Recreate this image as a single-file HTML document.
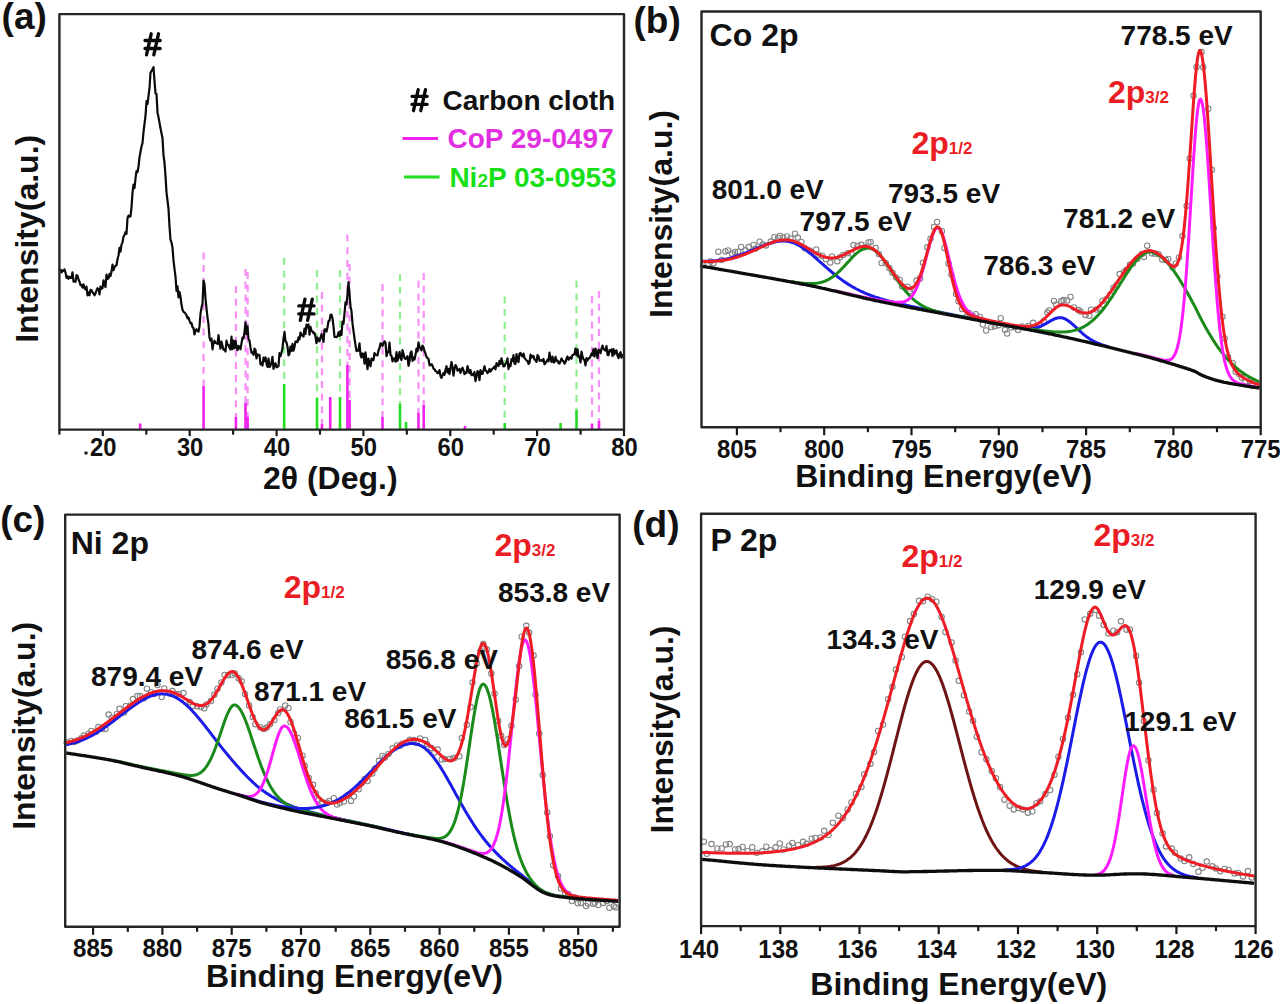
<!DOCTYPE html>
<html><head><meta charset="utf-8"><style>
html,body{margin:0;padding:0;background:#fff;}
svg{display:block;}
text{font-family:"Liberation Sans", sans-serif;font-weight:bold;}
</style></head><body>
<svg width="1280" height="1004" viewBox="0 0 1280 1004">
<rect width="1280" height="1004" fill="#fff"/>
<line x1="140.2" y1="423.5" x2="140.2" y2="429.6" stroke="#ee22ee" stroke-width="2.6"/>
<line x1="203.6" y1="252.4" x2="203.6" y2="386.0" stroke="#ee22ee" stroke-opacity="0.5" stroke-width="2.2" stroke-dasharray="7 5.7"/>
<line x1="203.6" y1="386.0" x2="203.6" y2="429.6" stroke="#ee22ee" stroke-width="2.6"/>
<line x1="235.9" y1="286.0" x2="235.9" y2="416.7" stroke="#ee22ee" stroke-opacity="0.5" stroke-width="2.2" stroke-dasharray="7 5.7"/>
<line x1="235.9" y1="416.7" x2="235.9" y2="429.6" stroke="#ee22ee" stroke-width="2.6"/>
<line x1="245.5" y1="269.0" x2="245.5" y2="403.0" stroke="#ee22ee" stroke-opacity="0.5" stroke-width="2.2" stroke-dasharray="7 5.7"/>
<line x1="245.5" y1="403.0" x2="245.5" y2="429.6" stroke="#ee22ee" stroke-width="2.6"/>
<line x1="247.6" y1="272.0" x2="247.6" y2="416.7" stroke="#ee22ee" stroke-opacity="0.5" stroke-width="2.2" stroke-dasharray="7 5.7"/>
<line x1="247.6" y1="416.7" x2="247.6" y2="429.6" stroke="#ee22ee" stroke-width="2.6"/>
<line x1="284.2" y1="257.7" x2="284.2" y2="384.0" stroke="#22dd22" stroke-opacity="0.5" stroke-width="2.2" stroke-dasharray="7 5.7"/>
<line x1="284.2" y1="384.0" x2="284.2" y2="429.6" stroke="#22dd22" stroke-width="2.6"/>
<line x1="317.0" y1="270.0" x2="317.0" y2="398.0" stroke="#22dd22" stroke-opacity="0.5" stroke-width="2.2" stroke-dasharray="7 5.7"/>
<line x1="317.0" y1="398.0" x2="317.0" y2="429.6" stroke="#22dd22" stroke-width="2.6"/>
<line x1="322.0" y1="292.0" x2="322.0" y2="424.0" stroke="#ee22ee" stroke-opacity="0.5" stroke-width="2.2" stroke-dasharray="7 5.7"/>
<line x1="322.0" y1="424.0" x2="322.0" y2="429.6" stroke="#ee22ee" stroke-width="2.6"/>
<line x1="330.2" y1="397.0" x2="330.2" y2="429.6" stroke="#ee22ee" stroke-width="2.6"/>
<line x1="340.0" y1="270.0" x2="340.0" y2="397.0" stroke="#22dd22" stroke-opacity="0.5" stroke-width="2.2" stroke-dasharray="7 5.7"/>
<line x1="340.0" y1="397.0" x2="340.0" y2="429.6" stroke="#22dd22" stroke-width="2.6"/>
<line x1="347.4" y1="234.6" x2="347.4" y2="365.0" stroke="#ee22ee" stroke-opacity="0.5" stroke-width="2.2" stroke-dasharray="7 5.7"/>
<line x1="347.4" y1="365.0" x2="347.4" y2="429.6" stroke="#ee22ee" stroke-width="2.6"/>
<line x1="349.6" y1="264.0" x2="349.6" y2="400.0" stroke="#ee22ee" stroke-opacity="0.5" stroke-width="2.2" stroke-dasharray="7 5.7"/>
<line x1="349.6" y1="400.0" x2="349.6" y2="429.6" stroke="#ee22ee" stroke-width="2.6"/>
<line x1="382.5" y1="284.0" x2="382.5" y2="416.7" stroke="#ee22ee" stroke-opacity="0.5" stroke-width="2.2" stroke-dasharray="7 5.7"/>
<line x1="382.5" y1="416.7" x2="382.5" y2="429.6" stroke="#ee22ee" stroke-width="2.6"/>
<line x1="400.0" y1="274.0" x2="400.0" y2="404.0" stroke="#22dd22" stroke-opacity="0.5" stroke-width="2.2" stroke-dasharray="7 5.7"/>
<line x1="400.0" y1="404.0" x2="400.0" y2="429.6" stroke="#22dd22" stroke-width="2.6"/>
<line x1="406.0" y1="422.0" x2="406.0" y2="429.6" stroke="#22dd22" stroke-width="2.6"/>
<line x1="418.5" y1="280.7" x2="418.5" y2="412.5" stroke="#ee22ee" stroke-opacity="0.5" stroke-width="2.2" stroke-dasharray="7 5.7"/>
<line x1="418.5" y1="412.5" x2="418.5" y2="429.6" stroke="#ee22ee" stroke-width="2.6"/>
<line x1="423.7" y1="273.0" x2="423.7" y2="405.0" stroke="#ee22ee" stroke-opacity="0.5" stroke-width="2.2" stroke-dasharray="7 5.7"/>
<line x1="423.7" y1="405.0" x2="423.7" y2="429.6" stroke="#ee22ee" stroke-width="2.6"/>
<line x1="465.0" y1="426.0" x2="465.0" y2="429.6" stroke="#ee22ee" stroke-width="2.6"/>
<line x1="504.7" y1="296.4" x2="504.7" y2="423.0" stroke="#22dd22" stroke-opacity="0.5" stroke-width="2.2" stroke-dasharray="7 5.7"/>
<line x1="504.7" y1="423.0" x2="504.7" y2="429.6" stroke="#22dd22" stroke-width="2.6"/>
<line x1="560.6" y1="423.0" x2="560.6" y2="429.6" stroke="#22dd22" stroke-width="2.6"/>
<line x1="576.5" y1="280.7" x2="576.5" y2="410.0" stroke="#22dd22" stroke-opacity="0.5" stroke-width="2.2" stroke-dasharray="7 5.7"/>
<line x1="576.5" y1="410.0" x2="576.5" y2="429.6" stroke="#22dd22" stroke-width="2.6"/>
<line x1="592.0" y1="296.0" x2="592.0" y2="424.0" stroke="#ee22ee" stroke-opacity="0.5" stroke-width="2.2" stroke-dasharray="7 5.7"/>
<line x1="592.0" y1="424.0" x2="592.0" y2="429.6" stroke="#ee22ee" stroke-width="2.6"/>
<line x1="599.0" y1="291.0" x2="599.0" y2="421.0" stroke="#ee22ee" stroke-opacity="0.5" stroke-width="2.2" stroke-dasharray="7 5.7"/>
<line x1="599.0" y1="421.0" x2="599.0" y2="429.6" stroke="#ee22ee" stroke-width="2.6"/>
<path d="M60.5 269.1 L61.5 272.4 L62.5 270.6 L63.5 270.9 L64.5 269.5 L65.5 272.6 L66.5 277.8 L67.5 276.1 L68.5 278.9 L69.5 276.8 L70.5 278.0 L71.5 278.0 L72.5 272.3 L73.5 281.6 L74.5 281.1 L75.5 281.9 L76.5 275.2 L77.5 275.8 L78.5 279.5 L79.5 281.8 L80.5 285.2 L81.5 284.8 L82.5 287.5 L83.5 284.3 L84.5 288.3 L85.5 289.4 L86.5 286.6 L87.5 295.5 L88.5 292.3 L89.5 295.3 L90.5 289.9 L91.5 290.3 L92.5 292.4 L93.5 293.4 L94.5 295.3 L95.5 293.4 L96.5 290.5 L97.5 288.2 L98.5 289.1 L99.5 294.4 L100.5 286.6 L101.5 288.8 L102.5 288.1 L103.5 280.3 L104.5 284.2 L105.5 287.2 L106.5 274.6 L107.5 279.0 L108.5 278.4 L109.5 273.9 L110.5 276.0 L111.5 271.8 L112.5 264.7 L113.5 270.1 L114.5 267.2 L115.5 265.8 L116.5 265.2 L117.5 259.2 L118.5 255.5 L119.5 247.9 L120.5 251.6 L121.5 244.6 L122.5 242.4 L123.5 236.8 L124.5 235.0 L125.5 232.2 L126.5 233.9 L127.5 218.1 L128.5 215.6 L129.5 216.8 L130.5 216.3 L131.5 207.3 L132.5 192.7 L133.5 184.5 L134.5 188.2 L135.5 178.4 L136.5 171.0 L137.5 172.1 L138.5 166.6 L139.5 157.4 L140.5 151.7 L141.5 146.4 L142.5 143.2 L143.5 132.0 L144.5 123.8 L145.5 116.0 L146.5 101.1 L147.5 104.0 L148.5 96.1 L149.5 87.9 L150.5 72.8 L151.5 70.9 L152.5 69.4 L153.5 67.1 L154.5 80.8 L155.5 93.3 L156.5 93.9 L157.5 112.4 L158.5 117.3 L159.5 122.6 L160.5 128.2 L161.5 133.3 L162.5 138.3 L163.5 155.3 L164.5 162.5 L165.5 175.9 L166.5 192.4 L167.5 200.5 L168.5 208.9 L169.5 226.5 L170.5 239.6 L171.5 242.4 L172.5 247.7 L173.5 260.4 L174.5 268.8 L175.5 276.7 L176.5 290.9 L177.5 286.4 L178.5 297.4 L179.5 291.9 L180.5 296.8 L181.5 304.8 L182.5 309.7 L183.5 311.9 L184.5 312.5 L185.5 313.5 L186.5 315.2 L187.5 318.3 L188.5 317.4 L189.5 320.6 L190.5 323.3 L191.5 323.0 L192.5 327.3 L193.5 328.1 L194.5 334.5 L195.5 330.3 L196.5 329.2 L197.5 330.9 L198.5 331.7 L199.5 326.4 L200.5 313.6 L201.5 307.6 L202.5 304.0 L203.5 280.6 L204.5 284.2 L205.5 298.3 L206.5 308.3 L207.5 317.3 L208.5 324.5 L209.5 337.6 L210.5 340.6 L211.5 338.6 L212.5 349.4 L213.5 343.1 L214.5 340.7 L215.5 343.0 L216.5 343.0 L217.5 343.9 L218.5 335.2 L219.5 343.2 L220.5 348.7 L221.5 341.7 L222.5 345.8 L223.5 349.7 L224.5 349.4 L225.5 351.5 L226.5 340.5 L227.5 344.9 L228.5 344.8 L229.5 348.0 L230.5 349.5 L231.5 336.5 L232.5 349.2 L233.5 340.7 L234.5 348.1 L235.5 340.8 L236.5 346.6 L237.5 350.2 L238.5 345.8 L239.5 347.1 L240.5 349.3 L241.5 343.2 L242.5 337.6 L243.5 338.3 L244.5 331.8 L245.5 322.4 L246.5 334.2 L247.5 326.4 L248.5 339.0 L249.5 340.5 L250.5 347.4 L251.5 352.7 L252.5 352.3 L253.5 354.9 L254.5 348.7 L255.5 350.0 L256.5 358.5 L257.5 354.3 L258.5 355.3 L259.5 355.0 L260.5 364.5 L261.5 362.9 L262.5 365.6 L263.5 357.6 L264.5 361.0 L265.5 357.3 L266.5 363.9 L267.5 366.9 L268.5 358.7 L269.5 367.2 L270.5 365.7 L271.5 362.3 L272.5 356.8 L273.5 368.9 L274.5 364.4 L275.5 363.3 L276.5 367.3 L277.5 366.9 L278.5 366.2 L279.5 353.2 L280.5 356.1 L281.5 352.8 L282.5 348.3 L283.5 338.3 L284.5 331.9 L285.5 341.3 L286.5 342.4 L287.5 346.7 L288.5 355.3 L289.5 353.8 L290.5 346.7 L291.5 351.0 L292.5 343.8 L293.5 350.7 L294.5 346.9 L295.5 341.5 L296.5 341.4 L297.5 342.1 L298.5 337.4 L299.5 339.4 L300.5 332.5 L301.5 334.5 L302.5 336.1 L303.5 336.5 L304.5 328.7 L305.5 334.0 L306.5 324.6 L307.5 327.3 L308.5 324.3 L309.5 334.6 L310.5 326.8 L311.5 331.0 L312.5 331.3 L313.5 333.3 L314.5 332.8 L315.5 337.1 L316.5 343.2 L317.5 337.6 L318.5 339.5 L319.5 341.4 L320.5 337.6 L321.5 334.2 L322.5 336.9 L323.5 342.0 L324.5 329.3 L325.5 329.4 L326.5 331.5 L327.5 327.3 L328.5 321.2 L329.5 320.5 L330.5 314.9 L331.5 314.6 L332.5 318.4 L333.5 326.6 L334.5 337.0 L335.5 337.0 L336.5 337.1 L337.5 336.3 L338.5 332.4 L339.5 335.9 L340.5 331.0 L341.5 334.9 L342.5 321.5 L343.5 323.8 L344.5 313.6 L345.5 302.3 L346.5 304.5 L347.5 294.3 L348.5 282.2 L349.5 294.5 L350.5 306.2 L351.5 311.4 L352.5 323.4 L353.5 331.0 L354.5 338.5 L355.5 345.1 L356.5 351.1 L357.5 350.1 L358.5 350.7 L359.5 343.4 L360.5 354.8 L361.5 357.5 L362.5 353.4 L363.5 354.1 L364.5 363.6 L365.5 352.4 L366.5 361.2 L367.5 369.2 L368.5 358.7 L369.5 363.2 L370.5 366.3 L371.5 358.5 L372.5 359.9 L373.5 360.1 L374.5 353.0 L375.5 354.8 L376.5 355.2 L377.5 355.3 L378.5 350.5 L379.5 348.0 L380.5 343.3 L381.5 343.6 L382.5 346.0 L383.5 343.1 L384.5 341.3 L385.5 342.7 L386.5 356.1 L387.5 352.4 L388.5 352.1 L389.5 342.5 L390.5 354.9 L391.5 355.9 L392.5 361.4 L393.5 358.6 L394.5 358.3 L395.5 361.8 L396.5 352.0 L397.5 360.8 L398.5 357.1 L399.5 352.2 L400.5 357.8 L401.5 360.0 L402.5 350.2 L403.5 353.8 L404.5 358.2 L405.5 359.0 L406.5 358.1 L407.5 356.2 L408.5 365.9 L409.5 361.3 L410.5 352.8 L411.5 351.4 L412.5 360.9 L413.5 357.5 L414.5 359.5 L415.5 355.1 L416.5 348.5 L417.5 351.5 L418.5 342.4 L419.5 346.8 L420.5 348.7 L421.5 350.3 L422.5 345.6 L423.5 347.3 L424.5 351.2 L425.5 353.5 L426.5 357.0 L427.5 358.1 L428.5 358.9 L429.5 365.2 L430.5 365.3 L431.5 364.1 L432.5 365.7 L433.5 368.7 L434.5 369.3 L435.5 371.1 L436.5 371.5 L437.5 373.1 L438.5 372.9 L439.5 370.1 L440.5 376.1 L441.5 377.9 L442.5 375.4 L443.5 373.0 L444.5 374.8 L445.5 369.7 L446.5 366.2 L447.5 372.5 L448.5 368.8 L449.5 374.1 L450.5 367.6 L451.5 362.0 L452.5 367.1 L453.5 375.6 L454.5 368.6 L455.5 365.0 L456.5 366.7 L457.5 370.7 L458.5 370.3 L459.5 368.9 L460.5 373.0 L461.5 370.0 L462.5 367.7 L463.5 370.2 L464.5 374.2 L465.5 372.3 L466.5 372.9 L467.5 366.2 L468.5 369.8 L469.5 373.2 L470.5 370.1 L471.5 375.1 L472.5 373.9 L473.5 375.4 L474.5 372.0 L475.5 381.1 L476.5 376.4 L477.5 371.2 L478.5 372.0 L479.5 380.2 L480.5 370.0 L481.5 373.9 L482.5 374.0 L483.5 370.4 L484.5 366.2 L485.5 370.5 L486.5 370.9 L487.5 373.2 L488.5 371.8 L489.5 369.0 L490.5 371.5 L491.5 370.2 L492.5 368.7 L493.5 367.9 L494.5 366.5 L495.5 369.4 L496.5 363.1 L497.5 364.3 L498.5 366.1 L499.5 360.8 L500.5 364.0 L501.5 358.3 L502.5 362.5 L503.5 366.4 L504.5 366.1 L505.5 363.7 L506.5 362.8 L507.5 358.4 L508.5 369.1 L509.5 364.4 L510.5 366.0 L511.5 359.0 L512.5 361.1 L513.5 355.2 L514.5 363.7 L515.5 364.0 L516.5 354.0 L517.5 360.0 L518.5 362.0 L519.5 353.6 L520.5 353.0 L521.5 355.3 L522.5 356.5 L523.5 353.6 L524.5 358.1 L525.5 359.0 L526.5 360.5 L527.5 360.9 L528.5 363.9 L529.5 362.9 L530.5 354.7 L531.5 357.6 L532.5 355.9 L533.5 356.0 L534.5 359.6 L535.5 360.1 L536.5 361.9 L537.5 355.1 L538.5 356.5 L539.5 360.8 L540.5 360.4 L541.5 360.2 L542.5 361.2 L543.5 359.0 L544.5 364.2 L545.5 363.2 L546.5 361.7 L547.5 359.6 L548.5 361.3 L549.5 352.6 L550.5 358.5 L551.5 361.9 L552.5 356.6 L553.5 362.4 L554.5 362.1 L555.5 356.9 L556.5 360.7 L557.5 360.5 L558.5 363.0 L559.5 363.5 L560.5 361.3 L561.5 358.5 L562.5 360.8 L563.5 361.1 L564.5 363.7 L565.5 362.2 L566.5 358.7 L567.5 356.5 L568.5 359.8 L569.5 358.5 L570.5 357.2 L571.5 358.6 L572.5 355.0 L573.5 354.8 L574.5 353.9 L575.5 348.5 L576.5 355.5 L577.5 349.3 L578.5 356.9 L579.5 356.3 L580.5 362.4 L581.5 351.6 L582.5 356.6 L583.5 359.4 L584.5 360.0 L585.5 365.4 L586.5 358.0 L587.5 360.6 L588.5 358.3 L589.5 358.4 L590.5 356.3 L591.5 353.5 L592.5 355.2 L593.5 349.3 L594.5 356.5 L595.5 348.5 L596.5 352.3 L597.5 358.1 L598.5 349.7 L599.5 350.0 L600.5 353.3 L601.5 349.0 L602.5 345.6 L603.5 348.7 L604.5 349.8 L605.5 350.6 L606.5 346.0 L607.5 355.0 L608.5 355.2 L609.5 350.0 L610.5 351.2 L611.5 349.3 L612.5 356.0 L613.5 349.2 L614.5 354.3 L615.5 350.8 L616.5 350.5 L617.5 355.7 L618.5 358.2 L619.5 354.1 L620.5 352.2 L621.5 357.7 L622.5 355.2 L623.5 356.8" fill="none" stroke="#0a0a0a" stroke-width="2.2" stroke-linejoin="round"/>
<rect x="59.4" y="14.1" width="564.6" height="415.5" fill="none" stroke="#262626" stroke-width="2.4" stroke-linejoin="round"/>
<line x1="59.4" y1="429.6" x2="59.4" y2="434.6" stroke="#1a1a1a" stroke-width="2.2"/>
<line x1="102.8" y1="429.6" x2="102.8" y2="436.1" stroke="#1a1a1a" stroke-width="2.2"/>
<line x1="146.3" y1="429.6" x2="146.3" y2="434.6" stroke="#1a1a1a" stroke-width="2.2"/>
<line x1="189.7" y1="429.6" x2="189.7" y2="436.1" stroke="#1a1a1a" stroke-width="2.2"/>
<line x1="233.1" y1="429.6" x2="233.1" y2="434.6" stroke="#1a1a1a" stroke-width="2.2"/>
<line x1="276.6" y1="429.6" x2="276.6" y2="436.1" stroke="#1a1a1a" stroke-width="2.2"/>
<line x1="320.0" y1="429.6" x2="320.0" y2="434.6" stroke="#1a1a1a" stroke-width="2.2"/>
<line x1="363.4" y1="429.6" x2="363.4" y2="436.1" stroke="#1a1a1a" stroke-width="2.2"/>
<line x1="406.8" y1="429.6" x2="406.8" y2="434.6" stroke="#1a1a1a" stroke-width="2.2"/>
<line x1="450.3" y1="429.6" x2="450.3" y2="436.1" stroke="#1a1a1a" stroke-width="2.2"/>
<line x1="493.7" y1="429.6" x2="493.7" y2="434.6" stroke="#1a1a1a" stroke-width="2.2"/>
<line x1="537.1" y1="429.6" x2="537.1" y2="436.1" stroke="#1a1a1a" stroke-width="2.2"/>
<line x1="580.6" y1="429.6" x2="580.6" y2="434.6" stroke="#1a1a1a" stroke-width="2.2"/>
<line x1="624.0" y1="429.6" x2="624.0" y2="436.1" stroke="#1a1a1a" stroke-width="2.2"/>
<text transform="translate(103.2 456) scale(0.95 1.05)" font-size="25.0" fill="#111" text-anchor="middle">20</text>
<text transform="translate(190.1 456) scale(0.95 1.05)" font-size="25.0" fill="#111" text-anchor="middle">30</text>
<text transform="translate(277.0 456) scale(0.95 1.05)" font-size="25.0" fill="#111" text-anchor="middle">40</text>
<text transform="translate(363.8 456) scale(0.95 1.05)" font-size="25.0" fill="#111" text-anchor="middle">50</text>
<text transform="translate(450.7 456) scale(0.95 1.05)" font-size="25.0" fill="#111" text-anchor="middle">60</text>
<text transform="translate(537.5 456) scale(0.95 1.05)" font-size="25.0" fill="#111" text-anchor="middle">70</text>
<text transform="translate(624.4 456) scale(0.95 1.05)" font-size="25.0" fill="#111" text-anchor="middle">80</text>
<circle cx="86" cy="453" r="1.8" fill="#222"/>
<text x="330.3" y="489.0" font-size="32.0" fill="#111" text-anchor="middle" >2&#952; (Deg.)</text>
<text transform="translate(37.7 238.8) rotate(-90)" x="0" y="0" font-size="32.0" fill="#111" text-anchor="middle">Intensity(a.u.)</text>
<text x="1.6" y="28.5" font-size="37.0" fill="#111" text-anchor="start" >(a)</text>
<path d="M151.2 33.8 L146.5 54.9 M158.5 33.8 L153.8 54.9 M145.0 40.5 L160.2 40.5 M145.0 48.5 L160.2 48.5" stroke="#0a0a0a" stroke-width="3.3" stroke-linecap="round" fill="none"/>
<path d="M305.0 299.2 L300.3 320.3 M312.3 299.2 L307.6 320.3 M298.8 305.9 L314.0 305.9 M298.8 313.9 L314.0 313.9" stroke="#0a0a0a" stroke-width="3.3" stroke-linecap="round" fill="none"/>
<path d="M418.2 89.6 L413.5 110.7 M425.5 89.6 L420.8 110.7 M412.0 96.3 L427.2 96.3 M412.0 104.3 L427.2 104.3" stroke="#0a0a0a" stroke-width="3.3" stroke-linecap="round" fill="none"/>
<text x="442.5" y="110.0" font-size="28.0" fill="#111" text-anchor="start" >Carbon cloth</text>
<line x1="402.5" y1="138.5" x2="438" y2="138.5" stroke="#ee22ee" stroke-width="2.8"/>
<text x="447.5" y="148.0" font-size="28.0" fill="#e030e0" text-anchor="start" >CoP 29-0497</text>
<line x1="404" y1="177" x2="439.6" y2="177" stroke="#22dd22" stroke-width="2.8"/>
<text x="449.4" y="187" font-size="28" fill="#18e018">Ni<tspan font-size="19">2</tspan>P 03-0953</text>
<g fill="none" stroke="#858585" stroke-width="1.1"><circle cx="703.1" cy="265.3" r="2.7"/><circle cx="707.9" cy="264.4" r="2.7"/><circle cx="710.5" cy="261.5" r="2.7"/><circle cx="713.4" cy="263.3" r="2.7"/><circle cx="718.3" cy="251.7" r="2.7"/><circle cx="721.6" cy="260.1" r="2.7"/><circle cx="725.4" cy="251.4" r="2.7"/><circle cx="728.1" cy="250.4" r="2.7"/><circle cx="732.0" cy="253.5" r="2.7"/><circle cx="734.9" cy="252.0" r="2.7"/><circle cx="738.1" cy="251.7" r="2.7"/><circle cx="741.1" cy="246.9" r="2.7"/><circle cx="745.4" cy="250.3" r="2.7"/><circle cx="748.7" cy="247.1" r="2.7"/><circle cx="753.5" cy="244.9" r="2.7"/><circle cx="755.5" cy="248.4" r="2.7"/><circle cx="759.6" cy="241.7" r="2.7"/><circle cx="762.8" cy="244.5" r="2.7"/><circle cx="765.9" cy="245.4" r="2.7"/><circle cx="770.8" cy="241.6" r="2.7"/><circle cx="774.3" cy="237.2" r="2.7"/><circle cx="778.0" cy="238.0" r="2.7"/><circle cx="779.9" cy="236.0" r="2.7"/><circle cx="783.2" cy="237.4" r="2.7"/><circle cx="787.0" cy="236.4" r="2.7"/><circle cx="790.5" cy="238.4" r="2.7"/><circle cx="795.0" cy="233.7" r="2.7"/><circle cx="797.8" cy="237.6" r="2.7"/><circle cx="801.3" cy="242.0" r="2.7"/><circle cx="804.7" cy="248.2" r="2.7"/><circle cx="809.4" cy="250.6" r="2.7"/><circle cx="811.3" cy="251.7" r="2.7"/><circle cx="816.2" cy="249.4" r="2.7"/><circle cx="818.4" cy="254.7" r="2.7"/><circle cx="822.3" cy="256.0" r="2.7"/><circle cx="825.9" cy="259.2" r="2.7"/><circle cx="830.2" cy="262.6" r="2.7"/><circle cx="832.0" cy="256.5" r="2.7"/><circle cx="837.3" cy="261.3" r="2.7"/><circle cx="839.9" cy="257.2" r="2.7"/><circle cx="843.3" cy="254.9" r="2.7"/><circle cx="847.9" cy="253.2" r="2.7"/><circle cx="851.4" cy="253.6" r="2.7"/><circle cx="853.5" cy="245.1" r="2.7"/><circle cx="857.5" cy="246.1" r="2.7"/><circle cx="861.4" cy="244.8" r="2.7"/><circle cx="864.8" cy="247.2" r="2.7"/><circle cx="868.5" cy="242.4" r="2.7"/><circle cx="870.6" cy="242.0" r="2.7"/><circle cx="875.6" cy="248.1" r="2.7"/><circle cx="878.8" cy="254.1" r="2.7"/><circle cx="881.6" cy="263.0" r="2.7"/><circle cx="885.8" cy="263.3" r="2.7"/><circle cx="889.4" cy="268.3" r="2.7"/><circle cx="892.5" cy="272.7" r="2.7"/><circle cx="896.2" cy="277.5" r="2.7"/><circle cx="899.7" cy="280.0" r="2.7"/><circle cx="902.0" cy="286.2" r="2.7"/><circle cx="907.4" cy="286.7" r="2.7"/><circle cx="910.3" cy="291.1" r="2.7"/><circle cx="913.0" cy="289.1" r="2.7"/><circle cx="916.5" cy="280.6" r="2.7"/><circle cx="920.1" cy="278.5" r="2.7"/><circle cx="923.0" cy="262.8" r="2.7"/><circle cx="927.3" cy="247.3" r="2.7"/><circle cx="930.5" cy="238.8" r="2.7"/><circle cx="934.0" cy="226.9" r="2.7"/><circle cx="937.1" cy="222.0" r="2.7"/><circle cx="941.9" cy="231.2" r="2.7"/><circle cx="944.4" cy="247.9" r="2.7"/><circle cx="948.5" cy="263.4" r="2.7"/><circle cx="951.4" cy="274.5" r="2.7"/><circle cx="956.1" cy="294.0" r="2.7"/><circle cx="958.5" cy="301.3" r="2.7"/><circle cx="962.1" cy="308.9" r="2.7"/><circle cx="966.9" cy="316.3" r="2.7"/><circle cx="968.9" cy="312.9" r="2.7"/><circle cx="972.8" cy="316.1" r="2.7"/><circle cx="975.8" cy="314.2" r="2.7"/><circle cx="979.8" cy="317.0" r="2.7"/><circle cx="982.8" cy="324.6" r="2.7"/><circle cx="986.1" cy="330.5" r="2.7"/><circle cx="991.3" cy="327.0" r="2.7"/><circle cx="994.8" cy="326.3" r="2.7"/><circle cx="998.4" cy="325.2" r="2.7"/><circle cx="1000.7" cy="318.2" r="2.7"/><circle cx="1005.0" cy="329.8" r="2.7"/><circle cx="1007.1" cy="333.5" r="2.7"/><circle cx="1011.2" cy="327.5" r="2.7"/><circle cx="1014.7" cy="327.2" r="2.7"/><circle cx="1018.1" cy="329.9" r="2.7"/><circle cx="1021.7" cy="326.4" r="2.7"/><circle cx="1026.4" cy="327.7" r="2.7"/><circle cx="1028.4" cy="325.9" r="2.7"/><circle cx="1033.1" cy="322.8" r="2.7"/><circle cx="1035.9" cy="328.1" r="2.7"/><circle cx="1039.2" cy="325.3" r="2.7"/><circle cx="1043.8" cy="320.9" r="2.7"/><circle cx="1047.3" cy="312.6" r="2.7"/><circle cx="1049.1" cy="310.4" r="2.7"/><circle cx="1054.0" cy="300.9" r="2.7"/><circle cx="1056.1" cy="304.4" r="2.7"/><circle cx="1061.3" cy="301.1" r="2.7"/><circle cx="1063.5" cy="300.1" r="2.7"/><circle cx="1067.2" cy="300.6" r="2.7"/><circle cx="1070.5" cy="296.9" r="2.7"/><circle cx="1074.0" cy="307.5" r="2.7"/><circle cx="1078.4" cy="310.1" r="2.7"/><circle cx="1080.5" cy="311.6" r="2.7"/><circle cx="1085.5" cy="314.9" r="2.7"/><circle cx="1089.4" cy="315.8" r="2.7"/><circle cx="1091.0" cy="309.7" r="2.7"/><circle cx="1096.4" cy="309.6" r="2.7"/><circle cx="1099.9" cy="309.1" r="2.7"/><circle cx="1102.4" cy="301.0" r="2.7"/><circle cx="1106.0" cy="299.4" r="2.7"/><circle cx="1110.1" cy="294.8" r="2.7"/><circle cx="1113.5" cy="287.7" r="2.7"/><circle cx="1116.7" cy="285.1" r="2.7"/><circle cx="1119.7" cy="274.1" r="2.7"/><circle cx="1124.1" cy="271.9" r="2.7"/><circle cx="1126.2" cy="270.1" r="2.7"/><circle cx="1130.0" cy="264.8" r="2.7"/><circle cx="1133.1" cy="263.4" r="2.7"/><circle cx="1137.2" cy="259.1" r="2.7"/><circle cx="1142.0" cy="254.0" r="2.7"/><circle cx="1144.0" cy="257.1" r="2.7"/><circle cx="1147.2" cy="245.7" r="2.7"/><circle cx="1151.9" cy="253.3" r="2.7"/><circle cx="1154.9" cy="253.6" r="2.7"/><circle cx="1158.7" cy="254.2" r="2.7"/><circle cx="1162.3" cy="259.4" r="2.7"/><circle cx="1165.8" cy="260.1" r="2.7"/><circle cx="1168.2" cy="258.9" r="2.7"/><circle cx="1172.6" cy="267.4" r="2.7"/><circle cx="1175.7" cy="263.7" r="2.7"/><circle cx="1179.0" cy="257.4" r="2.7"/><circle cx="1182.5" cy="236.1" r="2.7"/><circle cx="1186.7" cy="205.7" r="2.7"/><circle cx="1189.7" cy="158.6" r="2.7"/><circle cx="1193.5" cy="95.8" r="2.7"/><circle cx="1196.5" cy="66.9" r="2.7"/><circle cx="1201.5" cy="52.1" r="2.7"/><circle cx="1203.2" cy="67.3" r="2.7"/><circle cx="1208.2" cy="108.8" r="2.7"/><circle cx="1211.8" cy="169.8" r="2.7"/><circle cx="1213.7" cy="228.1" r="2.7"/><circle cx="1217.4" cy="276.2" r="2.7"/><circle cx="1222.4" cy="316.7" r="2.7"/><circle cx="1224.7" cy="338.5" r="2.7"/><circle cx="1228.0" cy="357.1" r="2.7"/><circle cx="1232.6" cy="362.9" r="2.7"/><circle cx="1235.7" cy="371.8" r="2.7"/><circle cx="1239.2" cy="374.1" r="2.7"/><circle cx="1241.8" cy="377.7" r="2.7"/><circle cx="1245.4" cy="381.6" r="2.7"/><circle cx="1249.8" cy="380.9" r="2.7"/><circle cx="1252.4" cy="385.9" r="2.7"/><circle cx="1256.9" cy="386.0" r="2.7"/></g>
<path d="M702.5 261.3 L703.5 261.3 L704.5 261.3 L705.5 261.3 L706.5 261.2 L707.5 261.2 L708.5 261.2 L709.5 261.1 L710.5 261.1 L711.5 261.0 L712.5 260.9 L713.5 260.9 L714.5 260.8 L715.5 260.7 L716.5 260.6 L717.5 260.4 L718.5 260.3 L719.5 260.2 L720.5 260.0 L721.5 259.9 L722.5 259.7 L723.5 259.5 L724.5 259.3 L725.5 259.1 L726.5 258.9 L727.5 258.7 L728.5 258.4 L729.5 258.2 L730.5 257.9 L731.5 257.7 L732.5 257.4 L733.5 257.1 L734.5 256.8 L735.5 256.5 L736.5 256.2 L737.5 255.9 L738.5 255.5 L739.5 255.2 L740.5 254.8 L741.5 254.5 L742.5 254.1 L743.5 253.7 L744.5 253.4 L745.5 253.0 L746.5 252.6 L747.5 252.2 L748.5 251.8 L749.5 251.4 L750.5 250.9 L751.5 250.5 L752.5 250.1 L753.5 249.7 L754.5 249.3 L755.5 248.8 L756.5 248.4 L757.5 248.0 L758.5 247.6 L759.5 247.2 L760.5 246.7 L761.5 246.3 L762.5 245.9 L763.5 245.6 L764.5 245.2 L765.5 244.8 L766.5 244.4 L767.5 244.1 L768.5 243.7 L769.5 243.4 L770.5 243.1 L771.5 242.8 L772.5 242.5 L773.5 242.3 L774.5 242.0 L775.5 241.8 L776.5 241.6 L777.5 241.5 L778.5 241.3 L779.5 241.2 L780.5 241.1 L781.5 241.1 L782.5 241.0 L783.5 241.0 L784.5 241.1 L785.5 241.1 L786.5 241.2 L787.5 241.3 L788.5 241.5 L789.5 241.7 L790.5 241.9 L791.5 242.2 L792.5 242.5 L793.5 242.8 L794.5 243.2 L795.5 243.6 L796.5 244.1 L797.5 244.6 L798.5 245.1 L799.5 245.7 L800.5 246.3 L801.5 246.9 L802.5 247.6 L803.5 248.2 L804.5 248.9 L805.5 249.7 L806.5 250.4 L807.5 251.2 L808.5 252.0 L809.5 252.8 L810.5 253.6 L811.5 254.4 L812.5 255.2 L813.5 256.1 L814.5 257.0 L815.5 257.8 L816.5 258.7 L817.5 259.6 L818.5 260.5 L819.5 261.4 L820.5 262.3 L821.5 263.2 L822.5 264.0 L823.5 264.9 L824.5 265.8 L825.5 266.7 L826.5 267.6 L827.5 268.4 L828.5 269.3 L829.5 270.2 L830.5 271.0 L831.5 271.8 L832.5 272.7 L833.5 273.5 L834.5 274.3 L835.5 275.1 L836.5 275.9 L837.5 276.7 L838.5 277.4 L839.5 278.2 L840.5 278.9 L841.5 279.6 L842.5 280.4 L843.5 281.1 L844.5 281.7 L845.5 282.4 L846.5 283.1 L847.5 283.7 L848.5 284.4 L849.5 285.0 L850.5 285.6 L851.5 286.2 L852.5 286.8 L853.5 287.3 L854.5 287.9 L855.5 288.5 L856.5 289.0 L857.5 289.5 L858.5 290.0 L859.5 290.5 L860.5 291.0 L861.5 291.5 L862.5 291.9 L863.5 292.4 L864.5 292.8 L865.5 293.3 L866.5 293.7 L867.5 294.1 L868.5 294.5 L869.5 294.9 L870.5 295.3 L871.5 295.7 L872.5 296.0 L873.5 296.4 L874.5 296.7 L875.5 297.1 L876.5 297.4 L877.5 297.7 L878.5 298.0 L879.5 298.4 L880.5 298.7 L881.5 299.0 L882.5 299.3 L883.5 299.6 L884.5 299.8 L885.5 300.1 L886.5 300.4 L887.5 300.7 L888.5 300.9 L889.5 301.2 L890.5 301.5 L891.5 301.7 L892.5 302.0 L893.5 302.2 L894.5 302.5 L895.5 302.7 L896.5 303.0 L897.5 303.2 L898.5 303.4 L899.5 303.7 L900.5 303.9 L901.5 304.1 L902.5 304.4 L903.5 304.6 L904.5 304.8 L905.5 305.0 L906.5 305.3 L907.5 305.5 L908.5 305.7 L909.5 305.9 L910.5 306.2 L911.5 306.4 L912.5 306.6 L913.5 306.8 L914.5 307.0 L915.5 307.2 L916.5 307.4 L917.5 307.6 L918.5 307.9 L919.5 308.1 L920.5 308.3 L921.5 308.5 L922.5 308.7 L923.5 308.9 L924.5 309.1 L925.5 309.3 L926.5 309.5 L927.5 309.7 L928.5 309.9 L929.5 310.1 L930.5 310.3 L931.5 310.5 L932.5 310.7 L933.5 310.9 L934.5 311.1 L935.5 311.3 L936.5 311.5 L937.5 311.7 L938.5 311.9 L939.5 312.1 L940.5 312.3 L941.5 312.5 L942.5 312.7 L943.5 312.9 L944.5 313.1 L945.5 313.3 L946.5 313.5 L947.5 313.7 L948.5 313.9 L949.5 314.1 L950.5 314.3 L951.5 314.5 L952.5 314.7 L953.5 314.9 L954.5 315.1 L955.5 315.3 L956.5 315.5 L957.5 315.7 L958.5 315.9 L959.5 316.1 L960.5 316.3 L961.5 316.5 L962.5 316.7 L963.5 316.9 L964.5 317.0 L965.5 317.2 L966.5 317.4 L967.5 317.6 L968.5 317.8 L969.5 318.0 L970.5 318.2 L971.5 318.4 L972.5 318.6 L973.5 318.8 L974.5 319.0 L975.5 319.2 L976.5 319.4 L977.5 319.6 L978.5 319.8 L979.5 320.0 L980.5 320.2 L981.5 320.4 L982.5 320.6 L983.5 320.8 L984.5 321.0 L985.5 321.2 L986.5 321.4 L987.5 321.5 L988.5 321.7 L989.5 321.9 L990.5 322.1 L991.5 322.3 L992.5 322.5 L993.5 322.7 L994.5 322.9 L995.5 323.1 L996.5 323.3 L997.5 323.4 L998.5 323.6 L999.5 323.8 L1000.5 324.0 L1001.5 324.2 L1002.5 324.4 L1003.5 324.6 L1004.5 324.8 L1005.5 325.0 L1006.5 325.1 L1007.5 325.3 L1008.5 325.5 L1009.5 325.7 L1010.5 325.9 L1011.5 326.1 L1012.5 326.3 L1013.5 326.5 L1014.5 326.7 L1015.5 326.8 L1016.5 327.0 L1017.5 327.2 L1018.5 327.4 L1019.5 327.6 L1020.5 327.8 L1021.5 328.0" fill="none" stroke="#1c1ce8" stroke-width="3.0" stroke-linejoin="round"/>
<path d="M791.5 281.6 L792.5 281.8 L793.5 282.0 L794.5 282.1 L795.5 282.3 L796.5 282.4 L797.5 282.5 L798.5 282.7 L799.5 282.8 L800.5 282.9 L801.5 283.1 L802.5 283.2 L803.5 283.3 L804.5 283.3 L805.5 283.4 L806.5 283.5 L807.5 283.5 L808.5 283.6 L809.5 283.6 L810.5 283.6 L811.5 283.6 L812.5 283.6 L813.5 283.5 L814.5 283.5 L815.5 283.4 L816.5 283.3 L817.5 283.1 L818.5 282.9 L819.5 282.7 L820.5 282.5 L821.5 282.3 L822.5 282.0 L823.5 281.6 L824.5 281.3 L825.5 280.9 L826.5 280.4 L827.5 280.0 L828.5 279.4 L829.5 278.9 L830.5 278.3 L831.5 277.6 L832.5 276.9 L833.5 276.2 L834.5 275.5 L835.5 274.6 L836.5 273.8 L837.5 272.9 L838.5 272.0 L839.5 271.1 L840.5 270.1 L841.5 269.1 L842.5 268.0 L843.5 267.0 L844.5 265.9 L845.5 264.8 L846.5 263.7 L847.5 262.6 L848.5 261.6 L849.5 260.5 L850.5 259.4 L851.5 258.3 L852.5 257.3 L853.5 256.3 L854.5 255.3 L855.5 254.3 L856.5 253.5 L857.5 252.6 L858.5 251.8 L859.5 251.1 L860.5 250.4 L861.5 249.9 L862.5 249.3 L863.5 248.9 L864.5 248.6 L865.5 248.3 L866.5 248.2 L867.5 248.1 L868.5 248.1 L869.5 248.2 L870.5 248.5 L871.5 248.8 L872.5 249.2 L873.5 249.7 L874.5 250.3 L875.5 251.0 L876.5 251.8 L877.5 252.7 L878.5 253.6 L879.5 254.7 L880.5 255.8 L881.5 256.9 L882.5 258.2 L883.5 259.4 L884.5 260.8 L885.5 262.2 L886.5 263.6 L887.5 265.0 L888.5 266.5 L889.5 268.0 L890.5 269.5 L891.5 271.1 L892.5 272.6 L893.5 274.1 L894.5 275.7 L895.5 277.2 L896.5 278.7 L897.5 280.2 L898.5 281.6 L899.5 283.1 L900.5 284.5 L901.5 285.9 L902.5 287.2 L903.5 288.5 L904.5 289.8 L905.5 291.0 L906.5 292.2 L907.5 293.4 L908.5 294.5 L909.5 295.6 L910.5 296.6 L911.5 297.6 L912.5 298.5 L913.5 299.4 L914.5 300.3 L915.5 301.1 L916.5 301.9 L917.5 302.6 L918.5 303.3 L919.5 304.0 L920.5 304.6 L921.5 305.2 L922.5 305.8 L923.5 306.3 L924.5 306.9 L925.5 307.3 L926.5 307.8 L927.5 308.2 L928.5 308.7 L929.5 309.1 L930.5 309.4 L931.5 309.8 L932.5 310.2 L933.5 310.5 L934.5 310.8 L935.5 311.1 L936.5 311.4 L937.5 311.7 L938.5 312.0 L939.5 312.2 L940.5 312.5 L941.5 312.7 L942.5 313.0 L943.5 313.2 L944.5 313.4 L945.5 313.7 L946.5 313.9 L947.5 314.1 L948.5 314.3" fill="none" stroke="#1a8a1a" stroke-width="3.0" stroke-linejoin="round"/>
<path d="M833.5 290.4 L834.5 290.6 L835.5 290.8 L836.5 291.1 L837.5 291.3 L838.5 291.5 L839.5 291.7 L840.5 292.0 L841.5 292.2 L842.5 292.4 L843.5 292.7 L844.5 292.9 L845.5 293.1 L846.5 293.3 L847.5 293.6 L848.5 293.8 L849.5 294.0 L850.5 294.2 L851.5 294.5 L852.5 294.7 L853.5 294.9 L854.5 295.1 L855.5 295.4 L856.5 295.6 L857.5 295.8 L858.5 296.0 L859.5 296.2 L860.5 296.5 L861.5 296.7 L862.5 296.9 L863.5 297.1 L864.5 297.3 L865.5 297.5 L866.5 297.7 L867.5 297.9 L868.5 298.1 L869.5 298.3 L870.5 298.5 L871.5 298.7 L872.5 298.9 L873.5 299.1 L874.5 299.3 L875.5 299.5 L876.5 299.6 L877.5 299.8 L878.5 300.0 L879.5 300.2 L880.5 300.3 L881.5 300.5 L882.5 300.7 L883.5 300.8 L884.5 301.0 L885.5 301.1 L886.5 301.3 L887.5 301.4 L888.5 301.5 L889.5 301.7 L890.5 301.8 L891.5 301.9 L892.5 302.0 L893.5 302.1 L894.5 302.2 L895.5 302.3 L896.5 302.3 L897.5 302.3 L898.5 302.3 L899.5 302.3 L900.5 302.2 L901.5 302.1 L902.5 302.0 L903.5 301.8 L904.5 301.5 L905.5 301.1 L906.5 300.7 L907.5 300.1 L908.5 299.4 L909.5 298.6 L910.5 297.7 L911.5 296.6 L912.5 295.3 L913.5 293.8 L914.5 292.1 L915.5 290.3 L916.5 288.2 L917.5 285.9 L918.5 283.3 L919.5 280.6 L920.5 277.6 L921.5 274.4 L922.5 271.1 L923.5 267.5 L924.5 263.9 L925.5 260.1 L926.5 256.3 L927.5 252.5 L928.5 248.8 L929.5 245.1 L930.5 241.6 L931.5 238.4 L932.5 235.5 L933.5 232.9 L934.5 230.8 L935.5 229.2 L936.5 228.2 L937.5 227.8 L938.5 227.9 L939.5 228.7 L940.5 230.1 L941.5 232.1 L942.5 234.6 L943.5 237.5 L944.5 240.8 L945.5 244.4 L946.5 248.3 L947.5 252.3 L948.5 256.5 L949.5 260.7 L950.5 264.8 L951.5 269.0 L952.5 273.0 L953.5 276.9 L954.5 280.6 L955.5 284.2 L956.5 287.5 L957.5 290.7 L958.5 293.6 L959.5 296.3 L960.5 298.7 L961.5 301.0 L962.5 303.0 L963.5 304.9 L964.5 306.5 L965.5 308.0 L966.5 309.4 L967.5 310.6 L968.5 311.6 L969.5 312.6 L970.5 313.4 L971.5 314.1 L972.5 314.8 L973.5 315.4 L974.5 316.0 L975.5 316.5 L976.5 316.9 L977.5 317.3 L978.5 317.7 L979.5 318.1 L980.5 318.4 L981.5 318.7 L982.5 319.0 L983.5 319.3 L984.5 319.6 L985.5 319.9 L986.5 320.1 L987.5 320.4 L988.5 320.6 L989.5 320.9 L990.5 321.1 L991.5 321.4 L992.5 321.6 L993.5 321.8 L994.5 322.1 L995.5 322.3 L996.5 322.5 L997.5 322.8 L998.5 323.0 L999.5 323.2 L1000.5 323.4 L1001.5 323.6 L1002.5 323.8 L1003.5 324.1 L1004.5 324.3 L1005.5 324.5 L1006.5 324.7 L1007.5 324.9 L1008.5 325.1 L1009.5 325.3 L1010.5 325.5 L1011.5 325.7 L1012.5 325.9 L1013.5 326.1 L1014.5 326.3 L1015.5 326.5 L1016.5 326.7 L1017.5 327.0 L1018.5 327.2 L1019.5 327.4 L1020.5 327.6 L1021.5 327.8 L1022.5 328.0 L1023.5 328.2 L1024.5 328.4 L1025.5 328.6 L1026.5 328.8 L1027.5 329.0 L1028.5 329.2 L1029.5 329.4 L1030.5 329.6 L1031.5 329.8 L1032.5 330.0 L1033.5 330.2 L1034.5 330.4 L1035.5 330.6 L1036.5 330.8 L1037.5 331.0 L1038.5 331.2 L1039.5 331.4 L1040.5 331.6 L1041.5 331.8 L1042.5 332.0" fill="none" stroke="#ff1cff" stroke-width="3.0" stroke-linejoin="round"/>
<path d="M1020.5 327.7 L1021.5 327.9 L1022.5 328.0 L1023.5 328.1 L1024.5 328.2 L1025.5 328.3 L1026.5 328.4 L1027.5 328.4 L1028.5 328.4 L1029.5 328.4 L1030.5 328.4 L1031.5 328.3 L1032.5 328.3 L1033.5 328.1 L1034.5 328.0 L1035.5 327.8 L1036.5 327.6 L1037.5 327.3 L1038.5 327.0 L1039.5 326.7 L1040.5 326.3 L1041.5 325.9 L1042.5 325.4 L1043.5 324.9 L1044.5 324.4 L1045.5 323.8 L1046.5 323.3 L1047.5 322.7 L1048.5 322.1 L1049.5 321.5 L1050.5 320.9 L1051.5 320.4 L1052.5 319.9 L1053.5 319.4 L1054.5 318.9 L1055.5 318.5 L1056.5 318.2 L1057.5 317.9 L1058.5 317.8 L1059.5 317.7 L1060.5 317.7 L1061.5 317.8 L1062.5 318.0 L1063.5 318.3 L1064.5 318.7 L1065.5 319.2 L1066.5 319.7 L1067.5 320.3 L1068.5 321.0 L1069.5 321.7 L1070.5 322.5 L1071.5 323.3 L1072.5 324.2 L1073.5 325.1 L1074.5 326.0 L1075.5 326.9 L1076.5 327.9 L1077.5 328.8 L1078.5 329.8 L1079.5 330.7 L1080.5 331.6 L1081.5 332.5 L1082.5 333.4 L1083.5 334.3 L1084.5 335.1 L1085.5 335.9 L1086.5 336.7 L1087.5 337.4 L1088.5 338.1 L1089.5 338.8 L1090.5 339.4 L1091.5 340.0 L1092.5 340.6 L1093.5 341.1 L1094.5 341.7 L1095.5 342.1 L1096.5 342.6 L1097.5 343.0 L1098.5 343.5 L1099.5 343.8 L1100.5 344.2 L1101.5 344.6 L1102.5 344.9 L1103.5 345.3 L1104.5 345.6 L1105.5 345.9 L1106.5 346.2 L1107.5 346.5 L1108.5 346.8" fill="none" stroke="#1c1ce8" stroke-width="3.0" stroke-linejoin="round"/>
<path d="M951.5 314.9 L952.5 315.1 L953.5 315.3 L954.5 315.4 L955.5 315.6 L956.5 315.8 L957.5 316.0 L958.5 316.2 L959.5 316.4 L960.5 316.5 L961.5 316.7 L962.5 316.9 L963.5 317.1 L964.5 317.3 L965.5 317.5 L966.5 317.7 L967.5 317.8 L968.5 318.0 L969.5 318.2 L970.5 318.4 L971.5 318.6 L972.5 318.8 L973.5 319.0 L974.5 319.1 L975.5 319.3 L976.5 319.5 L977.5 319.7 L978.5 319.9 L979.5 320.1 L980.5 320.2 L981.5 320.4 L982.5 320.6 L983.5 320.8 L984.5 321.0 L985.5 321.1 L986.5 321.3 L987.5 321.5 L988.5 321.7 L989.5 321.9 L990.5 322.0 L991.5 322.2 L992.5 322.4 L993.5 322.6 L994.5 322.8 L995.5 322.9 L996.5 323.1 L997.5 323.3 L998.5 323.5 L999.5 323.6 L1000.5 323.8 L1001.5 324.0 L1002.5 324.2 L1003.5 324.3 L1004.5 324.5 L1005.5 324.7 L1006.5 324.9 L1007.5 325.0 L1008.5 325.2 L1009.5 325.4 L1010.5 325.6 L1011.5 325.7 L1012.5 325.9 L1013.5 326.1 L1014.5 326.2 L1015.5 326.4 L1016.5 326.6 L1017.5 326.8 L1018.5 326.9 L1019.5 327.1 L1020.5 327.3 L1021.5 327.4 L1022.5 327.6 L1023.5 327.8 L1024.5 327.9 L1025.5 328.1 L1026.5 328.3 L1027.5 328.4 L1028.5 328.6 L1029.5 328.8 L1030.5 328.9 L1031.5 329.1 L1032.5 329.2 L1033.5 329.4 L1034.5 329.5 L1035.5 329.7 L1036.5 329.9 L1037.5 330.0 L1038.5 330.1 L1039.5 330.3 L1040.5 330.4 L1041.5 330.6 L1042.5 330.7 L1043.5 330.8 L1044.5 331.0 L1045.5 331.1 L1046.5 331.2 L1047.5 331.3 L1048.5 331.4 L1049.5 331.5 L1050.5 331.6 L1051.5 331.7 L1052.5 331.8 L1053.5 331.9 L1054.5 331.9 L1055.5 332.0 L1056.5 332.0 L1057.5 332.1 L1058.5 332.1 L1059.5 332.1 L1060.5 332.1 L1061.5 332.1 L1062.5 332.1 L1063.5 332.0 L1064.5 332.0 L1065.5 331.9 L1066.5 331.8 L1067.5 331.7 L1068.5 331.6 L1069.5 331.4 L1070.5 331.3 L1071.5 331.1 L1072.5 330.9 L1073.5 330.6 L1074.5 330.4 L1075.5 330.1 L1076.5 329.8 L1077.5 329.5 L1078.5 329.1 L1079.5 328.7 L1080.5 328.3 L1081.5 327.8 L1082.5 327.3 L1083.5 326.8 L1084.5 326.3 L1085.5 325.7 L1086.5 325.1 L1087.5 324.4 L1088.5 323.7 L1089.5 323.0 L1090.5 322.2 L1091.5 321.4 L1092.5 320.6 L1093.5 319.7 L1094.5 318.8 L1095.5 317.8 L1096.5 316.8 L1097.5 315.8 L1098.5 314.7 L1099.5 313.6 L1100.5 312.5 L1101.5 311.3 L1102.5 310.0 L1103.5 308.8 L1104.5 307.5 L1105.5 306.2 L1106.5 304.8 L1107.5 303.4 L1108.5 302.0 L1109.5 300.5 L1110.5 299.1 L1111.5 297.6 L1112.5 296.1 L1113.5 294.5 L1114.5 293.0 L1115.5 291.4 L1116.5 289.8 L1117.5 288.2 L1118.5 286.6 L1119.5 285.0 L1120.5 283.4 L1121.5 281.8 L1122.5 280.2 L1123.5 278.6 L1124.5 277.0 L1125.5 275.4 L1126.5 273.8 L1127.5 272.3 L1128.5 270.8 L1129.5 269.3 L1130.5 267.9 L1131.5 266.5 L1132.5 265.1 L1133.5 263.8 L1134.5 262.6 L1135.5 261.4 L1136.5 260.2 L1137.5 259.1 L1138.5 258.1 L1139.5 257.1 L1140.5 256.2 L1141.5 255.4 L1142.5 254.7 L1143.5 254.0 L1144.5 253.4 L1145.5 253.0 L1146.5 252.6 L1147.5 252.3 L1148.5 252.1 L1149.5 252.0 L1150.5 252.0 L1151.5 252.1 L1152.5 252.3 L1153.5 252.6 L1154.5 252.9 L1155.5 253.3 L1156.5 253.8 L1157.5 254.3 L1158.5 254.9 L1159.5 255.6 L1160.5 256.3 L1161.5 257.1 L1162.5 257.9 L1163.5 258.8 L1164.5 259.7 L1165.5 260.7 L1166.5 261.7 L1167.5 262.8 L1168.5 264.0 L1169.5 265.2 L1170.5 266.4 L1171.5 267.7 L1172.5 269.1 L1173.5 270.4 L1174.5 271.8 L1175.5 273.3 L1176.5 274.8 L1177.5 276.3 L1178.5 277.9 L1179.5 279.5 L1180.5 281.1 L1181.5 282.7 L1182.5 284.4 L1183.5 286.1 L1184.5 287.8 L1185.5 289.5 L1186.5 291.2 L1187.5 293.0 L1188.5 294.8 L1189.5 296.6 L1190.5 298.4 L1191.5 300.2 L1192.5 302.1 L1193.5 304.0 L1194.5 305.9 L1195.5 307.8 L1196.5 309.8 L1197.5 311.8 L1198.5 313.9 L1199.5 315.9 L1200.5 317.9 L1201.5 319.8 L1202.5 321.8 L1203.5 323.6 L1204.5 325.4 L1205.5 327.2 L1206.5 329.0 L1207.5 330.7 L1208.5 332.4 L1209.5 334.1 L1210.5 335.8 L1211.5 337.4 L1212.5 339.0 L1213.5 340.6 L1214.5 342.1 L1215.5 343.7 L1216.5 345.1 L1217.5 346.6 L1218.5 348.0 L1219.5 349.3 L1220.5 350.7 L1221.5 352.0 L1222.5 353.2 L1223.5 354.5 L1224.5 355.7 L1225.5 356.9 L1226.5 358.0 L1227.5 359.1 L1228.5 360.2 L1229.5 361.3 L1230.5 362.3 L1231.5 363.3 L1232.5 364.3 L1233.5 365.2 L1234.5 366.1 L1235.5 367.0 L1236.5 367.9 L1237.5 368.7 L1238.5 369.6 L1239.5 370.4 L1240.5 371.1 L1241.5 371.9 L1242.5 372.6 L1243.5 373.3 L1244.5 374.0 L1245.5 374.7 L1246.5 375.3 L1247.5 375.9 L1248.5 376.5 L1249.5 377.1 L1250.5 377.7 L1251.5 378.2 L1252.5 378.7 L1253.5 379.2 L1254.5 379.7 L1255.5 380.2 L1256.5 380.7 L1257.5 381.1 L1258.5 381.6 L1259.5 382.0" fill="none" stroke="#1a8a1a" stroke-width="3.0" stroke-linejoin="round"/>
<path d="M1134.5 353.1 L1135.5 353.4 L1136.5 353.6 L1137.5 353.8 L1138.5 354.1 L1139.5 354.3 L1140.5 354.5 L1141.5 354.8 L1142.5 355.0 L1143.5 355.2 L1144.5 355.5 L1145.5 355.7 L1146.5 356.0 L1147.5 356.2 L1148.5 356.5 L1149.5 356.8 L1150.5 357.0 L1151.5 357.3 L1152.5 357.5 L1153.5 357.8 L1154.5 358.0 L1155.5 358.3 L1156.5 358.5 L1157.5 358.8 L1158.5 359.0 L1159.5 359.3 L1160.5 359.5 L1161.5 359.7 L1162.5 359.9 L1163.5 360.1 L1164.5 360.2 L1165.5 360.3 L1166.5 360.3 L1167.5 360.3 L1168.5 360.2 L1169.5 359.9 L1170.5 359.5 L1171.5 358.9 L1172.5 358.0 L1173.5 356.7 L1174.5 355.1 L1175.5 353.0 L1176.5 350.3 L1177.5 346.9 L1178.5 342.8 L1179.5 337.7 L1180.5 331.7 L1181.5 324.5 L1182.5 316.2 L1183.5 306.7 L1184.5 295.9 L1185.5 283.8 L1186.5 270.6 L1187.5 256.3 L1188.5 241.1 L1189.5 225.1 L1190.5 208.7 L1191.5 192.1 L1192.5 175.8 L1193.5 160.0 L1194.5 145.2 L1195.5 131.9 L1196.5 120.4 L1197.5 111.1 L1198.5 104.3 L1199.5 100.2 L1200.5 99.0 L1201.5 100.5 L1202.5 104.6 L1203.5 111.0 L1204.5 119.7 L1205.5 130.3 L1206.5 142.7 L1207.5 156.5 L1208.5 171.4 L1209.5 187.1 L1210.5 203.1 L1211.5 219.3 L1212.5 235.3 L1213.5 250.8 L1214.5 265.8 L1215.5 279.9 L1216.5 293.0 L1217.5 305.2 L1218.5 316.2 L1219.5 326.1 L1220.5 334.9 L1221.5 342.7 L1222.5 349.5 L1223.5 355.3 L1224.5 360.3 L1225.5 364.5 L1226.5 368.0 L1227.5 371.0 L1228.5 373.4 L1229.5 375.4 L1230.5 377.1 L1231.5 378.4 L1232.5 379.5 L1233.5 380.4 L1234.5 381.2 L1235.5 381.8 L1236.5 382.3 L1237.5 382.8 L1238.5 383.2 L1239.5 383.5 L1240.5 383.8 L1241.5 384.1 L1242.5 384.3 L1243.5 384.5 L1244.5 384.8 L1245.5 385.0 L1246.5 385.2 L1247.5 385.4 L1248.5 385.5 L1249.5 385.7 L1250.5 385.9 L1251.5 386.1 L1252.5 386.3 L1253.5 386.4 L1254.5 386.6 L1255.5 386.8 L1256.5 386.9 L1257.5 387.1 L1258.5 387.3 L1259.5 387.4" fill="none" stroke="#ff1cff" stroke-width="3.0" stroke-linejoin="round"/>
<path d="M702.5 261.5 L703.5 261.5 L704.5 261.5 L705.5 261.5 L706.5 261.5 L707.5 261.5 L708.5 261.5 L709.5 261.5 L710.5 261.5 L711.5 261.4 L712.5 261.4 L713.5 261.4 L714.5 261.3 L715.5 261.2 L716.5 261.1 L717.5 261.1 L718.5 261.0 L719.5 260.8 L720.5 260.7 L721.5 260.6 L722.5 260.5 L723.5 260.3 L724.5 260.1 L725.5 260.0 L726.5 259.8 L727.5 259.6 L728.5 259.4 L729.5 259.2 L730.5 258.9 L731.5 258.7 L732.5 258.4 L733.5 258.2 L734.5 257.9 L735.5 257.6 L736.5 257.3 L737.5 257.0 L738.5 256.7 L739.5 256.3 L740.5 256.0 L741.5 255.6 L742.5 255.3 L743.5 254.9 L744.5 254.5 L745.5 254.1 L746.5 253.7 L747.5 253.3 L748.5 252.9 L749.5 252.4 L750.5 252.0 L751.5 251.6 L752.5 251.1 L753.5 250.7 L754.5 250.2 L755.5 249.8 L756.5 249.3 L757.5 248.8 L758.5 248.4 L759.5 247.9 L760.5 247.4 L761.5 247.0 L762.5 246.5 L763.5 246.0 L764.5 245.6 L765.5 245.1 L766.5 244.7 L767.5 244.3 L768.5 243.9 L769.5 243.5 L770.5 243.1 L771.5 242.7 L772.5 242.3 L773.5 242.0 L774.5 241.7 L775.5 241.4 L776.5 241.1 L777.5 240.9 L778.5 240.6 L779.5 240.4 L780.5 240.3 L781.5 240.1 L782.5 240.0 L783.5 240.0 L784.5 239.9 L785.5 239.9 L786.5 239.9 L787.5 240.0 L788.5 240.1 L789.5 240.2 L790.5 240.4 L791.5 240.6 L792.5 240.8 L793.5 241.1 L794.5 241.4 L795.5 241.8 L796.5 242.2 L797.5 242.6 L798.5 243.1 L799.5 243.6 L800.5 244.1 L801.5 244.6 L802.5 245.1 L803.5 245.7 L804.5 246.3 L805.5 246.9 L806.5 247.5 L807.5 248.1 L808.5 248.7 L809.5 249.4 L810.5 250.0 L811.5 250.6 L812.5 251.2 L813.5 251.8 L814.5 252.4 L815.5 252.9 L816.5 253.5 L817.5 254.0 L818.5 254.5 L819.5 255.0 L820.5 255.5 L821.5 255.9 L822.5 256.3 L823.5 256.6 L824.5 256.9 L825.5 257.2 L826.5 257.5 L827.5 257.6 L828.5 257.8 L829.5 257.9 L830.5 258.0 L831.5 258.0 L832.5 258.0 L833.5 257.9 L834.5 257.8 L835.5 257.6 L836.5 257.4 L837.5 257.2 L838.5 256.9 L839.5 256.6 L840.5 256.2 L841.5 255.8 L842.5 255.4 L843.5 254.9 L844.5 254.5 L845.5 254.0 L846.5 253.5 L847.5 252.9 L848.5 252.4 L849.5 251.9 L850.5 251.3 L851.5 250.8 L852.5 250.3 L853.5 249.8 L854.5 249.3 L855.5 248.8 L856.5 248.4 L857.5 248.0 L858.5 247.6 L859.5 247.3 L860.5 247.0 L861.5 246.8 L862.5 246.6 L863.5 246.5 L864.5 246.4 L865.5 246.5 L866.5 246.5 L867.5 246.7 L868.5 246.9 L869.5 247.2 L870.5 247.6 L871.5 248.1 L872.5 248.6 L873.5 249.2 L874.5 249.9 L875.5 250.7 L876.5 251.6 L877.5 252.5 L878.5 253.5 L879.5 254.5 L880.5 255.7 L881.5 256.8 L882.5 258.1 L883.5 259.3 L884.5 260.7 L885.5 262.0 L886.5 263.4 L887.5 264.8 L888.5 266.2 L889.5 267.6 L890.5 269.1 L891.5 270.5 L892.5 272.0 L893.5 273.4 L894.5 274.8 L895.5 276.2 L896.5 277.5 L897.5 278.8 L898.5 280.1 L899.5 281.3 L900.5 282.5 L901.5 283.6 L902.5 284.6 L903.5 285.5 L904.5 286.3 L905.5 287.0 L906.5 287.6 L907.5 288.1 L908.5 288.4 L909.5 288.5 L910.5 288.4 L911.5 288.2 L912.5 287.7 L913.5 287.0 L914.5 286.0 L915.5 284.8 L916.5 283.3 L917.5 281.6 L918.5 279.6 L919.5 277.2 L920.5 274.7 L921.5 271.8 L922.5 268.8 L923.5 265.5 L924.5 262.1 L925.5 258.5 L926.5 254.8 L927.5 251.1 L928.5 247.4 L929.5 243.8 L930.5 240.4 L931.5 237.2 L932.5 234.3 L933.5 231.8 L934.5 229.7 L935.5 228.2 L936.5 227.2 L937.5 226.9 L938.5 227.2 L939.5 228.2 L940.5 230.0 L941.5 232.6 L942.5 235.7 L943.5 239.4 L944.5 243.5 L945.5 247.9 L946.5 252.6 L947.5 257.4 L948.5 262.2 L949.5 267.0 L950.5 271.7 L951.5 276.3 L952.5 280.6 L953.5 284.6 L954.5 288.4 L955.5 291.9 L956.5 295.1 L957.5 297.9 L958.5 300.5 L959.5 302.8 L960.5 304.8 L961.5 306.6 L962.5 308.1 L963.5 309.5 L964.5 310.6 L965.5 311.6 L966.5 312.5 L967.5 313.3 L968.5 313.9 L969.5 314.5 L970.5 315.0 L971.5 315.5 L972.5 315.9 L973.5 316.3 L974.5 316.6 L975.5 317.0 L976.5 317.3 L977.5 317.6 L978.5 317.8 L979.5 318.1 L980.5 318.3 L981.5 318.6 L982.5 318.8 L983.5 319.1 L984.5 319.3 L985.5 319.5 L986.5 319.8 L987.5 320.0 L988.5 320.2 L989.5 320.4 L990.5 320.7 L991.5 320.9 L992.5 321.1 L993.5 321.3 L994.5 321.5 L995.5 321.7 L996.5 321.9 L997.5 322.1 L998.5 322.3 L999.5 322.5 L1000.5 322.7 L1001.5 322.9 L1002.5 323.1 L1003.5 323.3 L1004.5 323.5 L1005.5 323.7 L1006.5 323.9 L1007.5 324.0 L1008.5 324.2 L1009.5 324.4 L1010.5 324.6 L1011.5 324.8 L1012.5 324.9 L1013.5 325.1 L1014.5 325.3 L1015.5 325.4 L1016.5 325.6 L1017.5 325.7 L1018.5 325.9 L1019.5 326.0 L1020.5 326.1 L1021.5 326.2 L1022.5 326.3 L1023.5 326.3 L1024.5 326.4 L1025.5 326.4 L1026.5 326.4 L1027.5 326.4 L1028.5 326.3 L1029.5 326.2 L1030.5 326.1 L1031.5 325.9 L1032.5 325.7 L1033.5 325.4 L1034.5 325.1 L1035.5 324.7 L1036.5 324.3 L1037.5 323.8 L1038.5 323.2 L1039.5 322.6 L1040.5 321.9 L1041.5 321.2 L1042.5 320.4 L1043.5 319.6 L1044.5 318.7 L1045.5 317.7 L1046.5 316.8 L1047.5 315.8 L1048.5 314.7 L1049.5 313.7 L1050.5 312.7 L1051.5 311.7 L1052.5 310.7 L1053.5 309.8 L1054.5 308.9 L1055.5 308.0 L1056.5 307.3 L1057.5 306.6 L1058.5 306.0 L1059.5 305.6 L1060.5 305.2 L1061.5 305.0 L1062.5 304.9 L1063.5 304.9 L1064.5 304.9 L1065.5 305.1 L1066.5 305.3 L1067.5 305.7 L1068.5 306.0 L1069.5 306.5 L1070.5 307.0 L1071.5 307.5 L1072.5 308.0 L1073.5 308.6 L1074.5 309.2 L1075.5 309.7 L1076.5 310.3 L1077.5 310.8 L1078.5 311.3 L1079.5 311.7 L1080.5 312.1 L1081.5 312.4 L1082.5 312.7 L1083.5 312.9 L1084.5 313.0 L1085.5 313.1 L1086.5 313.1 L1087.5 313.0 L1088.5 312.8 L1089.5 312.5 L1090.5 312.2 L1091.5 311.7 L1092.5 311.2 L1093.5 310.7 L1094.5 310.0 L1095.5 309.3 L1096.5 308.5 L1097.5 307.6 L1098.5 306.7 L1099.5 305.7 L1100.5 304.7 L1101.5 303.6 L1102.5 302.5 L1103.5 301.3 L1104.5 300.1 L1105.5 298.8 L1106.5 297.5 L1107.5 296.2 L1108.5 294.8 L1109.5 293.4 L1110.5 292.0 L1111.5 290.6 L1112.5 289.1 L1113.5 287.6 L1114.5 286.2 L1115.5 284.7 L1116.5 283.2 L1117.5 281.7 L1118.5 280.2 L1119.5 278.7 L1120.5 277.2 L1121.5 275.8 L1122.5 274.3 L1123.5 272.9 L1124.5 271.4 L1125.5 270.0 L1126.5 268.7 L1127.5 267.3 L1128.5 266.0 L1129.5 264.7 L1130.5 263.5 L1131.5 262.3 L1132.5 261.1 L1133.5 260.0 L1134.5 258.9 L1135.5 257.9 L1136.5 256.9 L1137.5 256.0 L1138.5 255.2 L1139.5 254.4 L1140.5 253.7 L1141.5 253.0 L1142.5 252.5 L1143.5 252.0 L1144.5 251.5 L1145.5 251.2 L1146.5 250.9 L1147.5 250.8 L1148.5 250.7 L1149.5 250.6 L1150.5 250.7 L1151.5 250.8 L1152.5 251.1 L1153.5 251.4 L1154.5 251.8 L1155.5 252.2 L1156.5 252.7 L1157.5 253.3 L1158.5 254.0 L1159.5 254.7 L1160.5 255.5 L1161.5 256.3 L1162.5 257.2 L1163.5 258.2 L1164.5 259.2 L1165.5 260.2 L1166.5 261.2 L1167.5 262.3 L1168.5 263.3 L1169.5 264.2 L1170.5 265.1 L1171.5 265.8 L1172.5 266.3 L1173.5 266.5 L1174.5 266.4 L1175.5 265.9 L1176.5 264.9 L1177.5 263.2 L1178.5 260.8 L1179.5 257.5 L1180.5 253.3 L1181.5 248.0 L1182.5 241.5 L1183.5 233.7 L1184.5 224.7 L1185.5 214.3 L1186.5 202.8 L1187.5 190.0 L1188.5 176.3 L1189.5 161.8 L1190.5 146.8 L1191.5 131.6 L1192.5 116.5 L1193.5 102.1 L1194.5 88.6 L1195.5 76.6 L1196.5 66.4 L1197.5 58.5 L1198.5 53.1 L1199.5 50.5 L1200.5 50.8 L1201.5 53.8 L1202.5 59.0 L1203.5 66.3 L1204.5 75.6 L1205.5 86.7 L1206.5 99.4 L1207.5 113.4 L1208.5 128.5 L1209.5 144.4 L1210.5 160.7 L1211.5 177.4 L1212.5 193.9 L1213.5 210.3 L1214.5 226.1 L1215.5 241.3 L1216.5 255.8 L1217.5 269.3 L1218.5 281.9 L1219.5 293.4 L1220.5 303.9 L1221.5 313.4 L1222.5 321.9 L1223.5 329.4 L1224.5 336.1 L1225.5 341.9 L1226.5 347.0 L1227.5 351.4 L1228.5 355.2 L1229.5 358.5 L1230.5 361.4 L1231.5 363.8 L1232.5 365.9 L1233.5 367.7 L1234.5 369.3 L1235.5 370.7 L1236.5 372.0 L1237.5 373.1 L1238.5 374.0 L1239.5 374.9 L1240.5 375.7 L1241.5 376.5 L1242.5 377.2 L1243.5 377.8 L1244.5 378.4 L1245.5 379.0 L1246.5 379.5 L1247.5 380.0 L1248.5 380.5 L1249.5 381.0 L1250.5 381.4 L1251.5 381.9 L1252.5 382.3 L1253.5 382.7 L1254.5 383.1 L1255.5 383.4 L1256.5 383.8 L1257.5 384.1 L1258.5 384.5 L1259.5 384.8" fill="none" stroke="#ee1c24" stroke-width="3.0" stroke-linejoin="round"/>
<path d="M702.5 266.3 L703.5 266.4 L704.5 266.6 L705.5 266.8 L706.5 267.0 L707.5 267.2 L708.5 267.3 L709.5 267.5 L710.5 267.7 L711.5 267.9 L712.5 268.0 L713.5 268.2 L714.5 268.4 L715.5 268.6 L716.5 268.7 L717.5 268.9 L718.5 269.1 L719.5 269.3 L720.5 269.5 L721.5 269.6 L722.5 269.8 L723.5 270.0 L724.5 270.2 L725.5 270.3 L726.5 270.5 L727.5 270.7 L728.5 270.8 L729.5 271.0 L730.5 271.2 L731.5 271.4 L732.5 271.5 L733.5 271.7 L734.5 271.9 L735.5 272.1 L736.5 272.2 L737.5 272.4 L738.5 272.6 L739.5 272.8 L740.5 272.9 L741.5 273.1 L742.5 273.3 L743.5 273.5 L744.5 273.6 L745.5 273.8 L746.5 274.0 L747.5 274.2 L748.5 274.3 L749.5 274.5 L750.5 274.7 L751.5 274.9 L752.5 275.0 L753.5 275.2 L754.5 275.4 L755.5 275.6 L756.5 275.7 L757.5 275.9 L758.5 276.1 L759.5 276.3 L760.5 276.4 L761.5 276.6 L762.5 276.8 L763.5 277.0 L764.5 277.1 L765.5 277.3 L766.5 277.5 L767.5 277.7 L768.5 277.8 L769.5 278.0 L770.5 278.2 L771.5 278.4 L772.5 278.6 L773.5 278.7 L774.5 278.9 L775.5 279.1 L776.5 279.3 L777.5 279.5 L778.5 279.6 L779.5 279.8 L780.5 280.0 L781.5 280.2 L782.5 280.4 L783.5 280.6 L784.5 280.7 L785.5 280.9 L786.5 281.1 L787.5 281.3 L788.5 281.5 L789.5 281.7 L790.5 281.9 L791.5 282.0 L792.5 282.2 L793.5 282.4 L794.5 282.6 L795.5 282.8 L796.5 283.0 L797.5 283.2 L798.5 283.4 L799.5 283.6 L800.5 283.8 L801.5 284.0 L802.5 284.1 L803.5 284.3 L804.5 284.5 L805.5 284.7 L806.5 284.9 L807.5 285.1 L808.5 285.3 L809.5 285.5 L810.5 285.7 L811.5 285.9 L812.5 286.1 L813.5 286.3 L814.5 286.5 L815.5 286.7 L816.5 287.0 L817.5 287.2 L818.5 287.4 L819.5 287.6 L820.5 287.8 L821.5 288.0 L822.5 288.3 L823.5 288.5 L824.5 288.7 L825.5 288.9 L826.5 289.2 L827.5 289.4 L828.5 289.6 L829.5 289.8 L830.5 290.1 L831.5 290.3 L832.5 290.5 L833.5 290.8 L834.5 291.0 L835.5 291.2 L836.5 291.5 L837.5 291.7 L838.5 292.0 L839.5 292.2 L840.5 292.4 L841.5 292.7 L842.5 292.9 L843.5 293.1 L844.5 293.4 L845.5 293.6 L846.5 293.9 L847.5 294.1 L848.5 294.3 L849.5 294.6 L850.5 294.8 L851.5 295.0 L852.5 295.3 L853.5 295.5 L854.5 295.8 L855.5 296.0 L856.5 296.2 L857.5 296.5 L858.5 296.7 L859.5 296.9 L860.5 297.2 L861.5 297.4 L862.5 297.6 L863.5 297.9 L864.5 298.1 L865.5 298.3 L866.5 298.6 L867.5 298.8 L868.5 299.0 L869.5 299.2 L870.5 299.5 L871.5 299.7 L872.5 299.9 L873.5 300.1 L874.5 300.3 L875.5 300.6 L876.5 300.8 L877.5 301.0 L878.5 301.2 L879.5 301.4 L880.5 301.6 L881.5 301.8 L882.5 302.0 L883.5 302.2 L884.5 302.4 L885.5 302.6 L886.5 302.8 L887.5 303.0 L888.5 303.2 L889.5 303.4 L890.5 303.6 L891.5 303.8 L892.5 304.0 L893.5 304.2 L894.5 304.4 L895.5 304.6 L896.5 304.8 L897.5 305.0 L898.5 305.2 L899.5 305.4 L900.5 305.6 L901.5 305.8 L902.5 306.0 L903.5 306.2 L904.5 306.4 L905.5 306.6 L906.5 306.8 L907.5 307.0 L908.5 307.2 L909.5 307.4 L910.5 307.6 L911.5 307.8 L912.5 307.9 L913.5 308.1 L914.5 308.3 L915.5 308.5 L916.5 308.7 L917.5 308.9 L918.5 309.1 L919.5 309.3 L920.5 309.5 L921.5 309.7 L922.5 309.9 L923.5 310.0 L924.5 310.2 L925.5 310.4 L926.5 310.6 L927.5 310.8 L928.5 311.0 L929.5 311.2 L930.5 311.4 L931.5 311.5 L932.5 311.7 L933.5 311.9 L934.5 312.1 L935.5 312.3 L936.5 312.5 L937.5 312.7 L938.5 312.9 L939.5 313.0 L940.5 313.2 L941.5 313.4 L942.5 313.6 L943.5 313.8 L944.5 314.0 L945.5 314.2 L946.5 314.4 L947.5 314.5 L948.5 314.7 L949.5 314.9 L950.5 315.1 L951.5 315.3 L952.5 315.5 L953.5 315.7 L954.5 315.9 L955.5 316.0 L956.5 316.2 L957.5 316.4 L958.5 316.6 L959.5 316.8 L960.5 317.0 L961.5 317.2 L962.5 317.4 L963.5 317.5 L964.5 317.7 L965.5 317.9 L966.5 318.1 L967.5 318.3 L968.5 318.5 L969.5 318.7 L970.5 318.9 L971.5 319.1 L972.5 319.3 L973.5 319.5 L974.5 319.6 L975.5 319.8 L976.5 320.0 L977.5 320.2 L978.5 320.4 L979.5 320.6 L980.5 320.8 L981.5 321.0 L982.5 321.2 L983.5 321.3 L984.5 321.5 L985.5 321.7 L986.5 321.9 L987.5 322.1 L988.5 322.3 L989.5 322.5 L990.5 322.7 L991.5 322.8 L992.5 323.0 L993.5 323.2 L994.5 323.4 L995.5 323.6 L996.5 323.8 L997.5 323.9 L998.5 324.1 L999.5 324.3 L1000.5 324.5 L1001.5 324.7 L1002.5 324.9 L1003.5 325.1 L1004.5 325.2 L1005.5 325.4 L1006.5 325.6 L1007.5 325.8 L1008.5 326.0 L1009.5 326.2 L1010.5 326.3 L1011.5 326.5 L1012.5 326.7 L1013.5 326.9 L1014.5 327.1 L1015.5 327.3 L1016.5 327.5 L1017.5 327.6 L1018.5 327.8 L1019.5 328.0 L1020.5 328.2 L1021.5 328.4 L1022.5 328.6 L1023.5 328.8 L1024.5 328.9 L1025.5 329.1 L1026.5 329.3 L1027.5 329.5 L1028.5 329.7 L1029.5 329.9 L1030.5 330.1 L1031.5 330.3 L1032.5 330.5 L1033.5 330.7 L1034.5 330.9 L1035.5 331.0 L1036.5 331.2 L1037.5 331.4 L1038.5 331.6 L1039.5 331.8 L1040.5 332.0 L1041.5 332.2 L1042.5 332.4 L1043.5 332.6 L1044.5 332.8 L1045.5 333.0 L1046.5 333.2 L1047.5 333.4 L1048.5 333.6 L1049.5 333.8 L1050.5 334.0 L1051.5 334.2 L1052.5 334.4 L1053.5 334.6 L1054.5 334.8 L1055.5 335.1 L1056.5 335.3 L1057.5 335.5 L1058.5 335.7 L1059.5 335.9 L1060.5 336.1 L1061.5 336.3 L1062.5 336.5 L1063.5 336.8 L1064.5 337.0 L1065.5 337.2 L1066.5 337.4 L1067.5 337.6 L1068.5 337.8 L1069.5 338.1 L1070.5 338.3 L1071.5 338.5 L1072.5 338.7 L1073.5 339.0 L1074.5 339.2 L1075.5 339.4 L1076.5 339.6 L1077.5 339.9 L1078.5 340.1 L1079.5 340.3 L1080.5 340.5 L1081.5 340.8 L1082.5 341.0 L1083.5 341.2 L1084.5 341.5 L1085.5 341.7 L1086.5 341.9 L1087.5 342.2 L1088.5 342.4 L1089.5 342.6 L1090.5 342.9 L1091.5 343.1 L1092.5 343.3 L1093.5 343.6 L1094.5 343.8 L1095.5 344.1 L1096.5 344.3 L1097.5 344.5 L1098.5 344.8 L1099.5 345.0 L1100.5 345.3 L1101.5 345.5 L1102.5 345.7 L1103.5 346.0 L1104.5 346.2 L1105.5 346.5 L1106.5 346.7 L1107.5 346.9 L1108.5 347.2 L1109.5 347.4 L1110.5 347.7 L1111.5 347.9 L1112.5 348.2 L1113.5 348.4 L1114.5 348.7 L1115.5 348.9 L1116.5 349.1 L1117.5 349.4 L1118.5 349.6 L1119.5 349.9 L1120.5 350.1 L1121.5 350.4 L1122.5 350.6 L1123.5 350.9 L1124.5 351.1 L1125.5 351.3 L1126.5 351.6 L1127.5 351.8 L1128.5 352.1 L1129.5 352.3 L1130.5 352.6 L1131.5 352.8 L1132.5 353.1 L1133.5 353.3 L1134.5 353.6 L1135.5 353.8 L1136.5 354.0 L1137.5 354.3 L1138.5 354.5 L1139.5 354.8 L1140.5 355.0 L1141.5 355.3 L1142.5 355.5 L1143.5 355.8 L1144.5 356.1 L1145.5 356.3 L1146.5 356.6 L1147.5 356.9 L1148.5 357.1 L1149.5 357.4 L1150.5 357.7 L1151.5 358.0 L1152.5 358.3 L1153.5 358.6 L1154.5 358.9 L1155.5 359.1 L1156.5 359.4 L1157.5 359.7 L1158.5 360.0 L1159.5 360.3 L1160.5 360.6 L1161.5 360.9 L1162.5 361.2 L1163.5 361.5 L1164.5 361.7 L1165.5 362.0 L1166.5 362.3 L1167.5 362.6 L1168.5 362.9 L1169.5 363.2 L1170.5 363.5 L1171.5 363.8 L1172.5 364.1 L1173.5 364.4 L1174.5 364.7 L1175.5 365.0 L1176.5 365.3 L1177.5 365.6 L1178.5 365.9 L1179.5 366.3 L1180.5 366.6 L1181.5 366.9 L1182.5 367.2 L1183.5 367.5 L1184.5 367.8 L1185.5 368.1 L1186.5 368.4 L1187.5 368.8 L1188.5 369.1 L1189.5 369.4 L1190.5 369.8 L1191.5 370.2 L1192.5 370.5 L1193.5 370.9 L1194.5 371.3 L1195.5 371.8 L1196.5 372.3 L1197.5 372.8 L1198.5 373.4 L1199.5 373.9 L1200.5 374.5 L1201.5 375.0 L1202.5 375.5 L1203.5 375.9 L1204.5 376.3 L1205.5 376.7 L1206.5 377.1 L1207.5 377.4 L1208.5 377.8 L1209.5 378.2 L1210.5 378.5 L1211.5 378.8 L1212.5 379.2 L1213.5 379.5 L1214.5 379.8 L1215.5 380.1 L1216.5 380.4 L1217.5 380.6 L1218.5 380.9 L1219.5 381.2 L1220.5 381.4 L1221.5 381.6 L1222.5 381.8 L1223.5 382.1 L1224.5 382.3 L1225.5 382.5 L1226.5 382.7 L1227.5 382.9 L1228.5 383.1 L1229.5 383.3 L1230.5 383.4 L1231.5 383.6 L1232.5 383.8 L1233.5 384.0 L1234.5 384.1 L1235.5 384.3 L1236.5 384.5 L1237.5 384.7 L1238.5 384.8 L1239.5 385.0 L1240.5 385.2 L1241.5 385.3 L1242.5 385.5 L1243.5 385.7 L1244.5 385.8 L1245.5 386.0 L1246.5 386.1 L1247.5 386.3 L1248.5 386.4 L1249.5 386.5 L1250.5 386.7 L1251.5 386.8 L1252.5 387.0 L1253.5 387.1 L1254.5 387.3 L1255.5 387.4 L1256.5 387.6 L1257.5 387.7 L1258.5 387.9 L1259.5 388.0" fill="none" stroke="#0d0d0d" stroke-width="3.3" stroke-linejoin="round"/>
<rect x="701.5" y="11.5" width="559.2" height="415.7" fill="none" stroke="#262626" stroke-width="2.4" stroke-linejoin="round"/>
<line x1="1260.7" y1="427.2" x2="1260.7" y2="435.2" stroke="#1a1a1a" stroke-width="2.2"/>
<line x1="1173.4" y1="427.2" x2="1173.4" y2="435.2" stroke="#1a1a1a" stroke-width="2.2"/>
<line x1="1086.1" y1="427.2" x2="1086.1" y2="435.2" stroke="#1a1a1a" stroke-width="2.2"/>
<line x1="998.8" y1="427.2" x2="998.8" y2="435.2" stroke="#1a1a1a" stroke-width="2.2"/>
<line x1="911.5" y1="427.2" x2="911.5" y2="435.2" stroke="#1a1a1a" stroke-width="2.2"/>
<line x1="824.2" y1="427.2" x2="824.2" y2="435.2" stroke="#1a1a1a" stroke-width="2.2"/>
<line x1="736.9" y1="427.2" x2="736.9" y2="435.2" stroke="#1a1a1a" stroke-width="2.2"/>
<line x1="1217.0" y1="427.2" x2="1217.0" y2="432.2" stroke="#1a1a1a" stroke-width="2.2"/>
<line x1="1129.8" y1="427.2" x2="1129.8" y2="432.2" stroke="#1a1a1a" stroke-width="2.2"/>
<line x1="1042.5" y1="427.2" x2="1042.5" y2="432.2" stroke="#1a1a1a" stroke-width="2.2"/>
<line x1="955.2" y1="427.2" x2="955.2" y2="432.2" stroke="#1a1a1a" stroke-width="2.2"/>
<line x1="867.9" y1="427.2" x2="867.9" y2="432.2" stroke="#1a1a1a" stroke-width="2.2"/>
<line x1="780.5" y1="427.2" x2="780.5" y2="432.2" stroke="#1a1a1a" stroke-width="2.2"/>
<text transform="translate(1260.7 457.5) scale(0.96 1)" font-size="25.0" fill="#111" text-anchor="middle">775</text>
<text transform="translate(1173.4 457.5) scale(0.96 1)" font-size="25.0" fill="#111" text-anchor="middle">780</text>
<text transform="translate(1086.1 457.5) scale(0.96 1)" font-size="25.0" fill="#111" text-anchor="middle">785</text>
<text transform="translate(998.8 457.5) scale(0.96 1)" font-size="25.0" fill="#111" text-anchor="middle">790</text>
<text transform="translate(911.5 457.5) scale(0.96 1)" font-size="25.0" fill="#111" text-anchor="middle">795</text>
<text transform="translate(824.2 457.5) scale(0.96 1)" font-size="25.0" fill="#111" text-anchor="middle">800</text>
<text transform="translate(736.9 457.5) scale(0.96 1)" font-size="25.0" fill="#111" text-anchor="middle">805</text>
<text x="633.5" y="33.0" font-size="37.0" fill="#111" text-anchor="start" >(b)</text>
<text x="709.6" y="46.4" font-size="32.0" fill="#111" text-anchor="start" >Co 2p</text>
<text transform="translate(672.0 214.0) rotate(-90)" x="0" y="0" font-size="32.0" fill="#111" text-anchor="middle">Intensity(a.u.)</text>
<text x="943.6" y="486.8" font-size="32.0" fill="#111" text-anchor="middle" >Binding Energy(eV)</text>
<text x="711.7" y="198.8" font-size="28.0" fill="#111" text-anchor="start" >801.0 eV</text>
<text x="799.6" y="230.9" font-size="28.0" fill="#111" text-anchor="start" >797.5 eV</text>
<text x="888.0" y="203.4" font-size="28.0" fill="#111" text-anchor="start" >793.5 eV</text>
<text x="983.3" y="275.3" font-size="28.0" fill="#111" text-anchor="start" >786.3 eV</text>
<text x="1063.1" y="227.5" font-size="28.0" fill="#111" text-anchor="start" >781.2 eV</text>
<text x="1120.6" y="44.7" font-size="28.0" fill="#111" text-anchor="start" >778.5 eV</text>
<text x="911.5" y="153.9" font-size="32.0" fill="#ea1c24">2p<tspan font-size="17.0">1/2</tspan></text>
<text x="1108.0" y="102.5" font-size="32.0" fill="#ea1c24">2p<tspan font-size="17.0">3/2</tspan></text>
<g fill="none" stroke="#858585" stroke-width="1.1"><circle cx="66.6" cy="742.6" r="2.7"/><circle cx="71.3" cy="740.9" r="2.7"/><circle cx="74.3" cy="742.1" r="2.7"/><circle cx="77.5" cy="740.4" r="2.7"/><circle cx="81.3" cy="738.3" r="2.7"/><circle cx="84.0" cy="735.6" r="2.7"/><circle cx="88.6" cy="733.7" r="2.7"/><circle cx="91.3" cy="730.9" r="2.7"/><circle cx="96.1" cy="731.7" r="2.7"/><circle cx="98.4" cy="727.1" r="2.7"/><circle cx="102.0" cy="729.0" r="2.7"/><circle cx="105.4" cy="729.0" r="2.7"/><circle cx="108.6" cy="714.6" r="2.7"/><circle cx="111.7" cy="718.0" r="2.7"/><circle cx="117.0" cy="713.9" r="2.7"/><circle cx="119.5" cy="708.8" r="2.7"/><circle cx="124.0" cy="712.4" r="2.7"/><circle cx="125.7" cy="706.2" r="2.7"/><circle cx="130.3" cy="705.4" r="2.7"/><circle cx="132.9" cy="699.1" r="2.7"/><circle cx="137.4" cy="696.0" r="2.7"/><circle cx="140.0" cy="696.1" r="2.7"/><circle cx="143.8" cy="698.3" r="2.7"/><circle cx="146.9" cy="688.7" r="2.7"/><circle cx="151.2" cy="692.2" r="2.7"/><circle cx="154.1" cy="694.0" r="2.7"/><circle cx="157.5" cy="684.9" r="2.7"/><circle cx="161.7" cy="697.1" r="2.7"/><circle cx="164.3" cy="688.4" r="2.7"/><circle cx="169.5" cy="693.5" r="2.7"/><circle cx="172.4" cy="691.1" r="2.7"/><circle cx="176.3" cy="694.2" r="2.7"/><circle cx="178.6" cy="693.9" r="2.7"/><circle cx="183.4" cy="693.1" r="2.7"/><circle cx="185.6" cy="702.0" r="2.7"/><circle cx="189.7" cy="701.9" r="2.7"/><circle cx="193.0" cy="705.9" r="2.7"/><circle cx="197.1" cy="706.2" r="2.7"/><circle cx="201.0" cy="706.9" r="2.7"/><circle cx="204.2" cy="708.3" r="2.7"/><circle cx="206.3" cy="704.4" r="2.7"/><circle cx="210.9" cy="701.1" r="2.7"/><circle cx="214.3" cy="694.8" r="2.7"/><circle cx="217.5" cy="688.7" r="2.7"/><circle cx="221.4" cy="682.5" r="2.7"/><circle cx="224.6" cy="674.9" r="2.7"/><circle cx="228.1" cy="675.2" r="2.7"/><circle cx="231.7" cy="675.0" r="2.7"/><circle cx="234.7" cy="673.5" r="2.7"/><circle cx="238.6" cy="678.3" r="2.7"/><circle cx="241.6" cy="681.3" r="2.7"/><circle cx="245.0" cy="693.9" r="2.7"/><circle cx="249.1" cy="705.4" r="2.7"/><circle cx="252.7" cy="717.1" r="2.7"/><circle cx="255.3" cy="724.2" r="2.7"/><circle cx="260.2" cy="727.2" r="2.7"/><circle cx="263.8" cy="729.0" r="2.7"/><circle cx="266.7" cy="727.6" r="2.7"/><circle cx="270.0" cy="724.3" r="2.7"/><circle cx="274.4" cy="720.1" r="2.7"/><circle cx="278.2" cy="713.0" r="2.7"/><circle cx="280.1" cy="709.5" r="2.7"/><circle cx="285.2" cy="705.5" r="2.7"/><circle cx="288.5" cy="708.0" r="2.7"/><circle cx="290.5" cy="722.0" r="2.7"/><circle cx="293.8" cy="733.2" r="2.7"/><circle cx="297.9" cy="737.9" r="2.7"/><circle cx="302.5" cy="755.7" r="2.7"/><circle cx="304.7" cy="765.8" r="2.7"/><circle cx="308.7" cy="778.1" r="2.7"/><circle cx="313.0" cy="784.8" r="2.7"/><circle cx="315.7" cy="793.2" r="2.7"/><circle cx="318.8" cy="799.4" r="2.7"/><circle cx="322.0" cy="802.1" r="2.7"/><circle cx="327.1" cy="802.8" r="2.7"/><circle cx="329.0" cy="800.9" r="2.7"/><circle cx="333.8" cy="798.2" r="2.7"/><circle cx="337.0" cy="804.6" r="2.7"/><circle cx="339.9" cy="803.0" r="2.7"/><circle cx="343.9" cy="801.5" r="2.7"/><circle cx="348.0" cy="794.9" r="2.7"/><circle cx="351.0" cy="800.9" r="2.7"/><circle cx="354.0" cy="796.6" r="2.7"/><circle cx="358.7" cy="789.3" r="2.7"/><circle cx="361.4" cy="783.4" r="2.7"/><circle cx="364.6" cy="778.9" r="2.7"/><circle cx="367.6" cy="781.0" r="2.7"/><circle cx="372.3" cy="773.6" r="2.7"/><circle cx="374.7" cy="768.8" r="2.7"/><circle cx="378.9" cy="760.8" r="2.7"/><circle cx="382.5" cy="755.9" r="2.7"/><circle cx="384.8" cy="757.4" r="2.7"/><circle cx="388.5" cy="753.9" r="2.7"/><circle cx="392.7" cy="748.3" r="2.7"/><circle cx="397.0" cy="745.4" r="2.7"/><circle cx="400.0" cy="745.8" r="2.7"/><circle cx="402.2" cy="743.7" r="2.7"/><circle cx="405.9" cy="743.1" r="2.7"/><circle cx="409.9" cy="739.8" r="2.7"/><circle cx="413.9" cy="739.9" r="2.7"/><circle cx="416.6" cy="742.9" r="2.7"/><circle cx="420.0" cy="738.4" r="2.7"/><circle cx="425.1" cy="740.0" r="2.7"/><circle cx="426.9" cy="744.1" r="2.7"/><circle cx="431.5" cy="748.0" r="2.7"/><circle cx="434.5" cy="752.5" r="2.7"/><circle cx="437.7" cy="749.6" r="2.7"/><circle cx="441.8" cy="759.6" r="2.7"/><circle cx="444.9" cy="759.1" r="2.7"/><circle cx="449.6" cy="759.0" r="2.7"/><circle cx="452.7" cy="758.4" r="2.7"/><circle cx="454.8" cy="757.7" r="2.7"/><circle cx="459.3" cy="756.3" r="2.7"/><circle cx="461.8" cy="738.1" r="2.7"/><circle cx="466.8" cy="724.7" r="2.7"/><circle cx="470.6" cy="707.1" r="2.7"/><circle cx="472.5" cy="682.6" r="2.7"/><circle cx="476.7" cy="663.3" r="2.7"/><circle cx="480.5" cy="651.1" r="2.7"/><circle cx="483.3" cy="644.1" r="2.7"/><circle cx="486.8" cy="649.6" r="2.7"/><circle cx="491.3" cy="673.6" r="2.7"/><circle cx="494.6" cy="693.8" r="2.7"/><circle cx="498.2" cy="721.1" r="2.7"/><circle cx="501.1" cy="735.8" r="2.7"/><circle cx="504.2" cy="745.1" r="2.7"/><circle cx="507.4" cy="739.4" r="2.7"/><circle cx="511.4" cy="725.7" r="2.7"/><circle cx="515.7" cy="699.4" r="2.7"/><circle cx="519.1" cy="665.9" r="2.7"/><circle cx="521.7" cy="636.7" r="2.7"/><circle cx="526.3" cy="625.8" r="2.7"/><circle cx="529.2" cy="632.8" r="2.7"/><circle cx="533.6" cy="655.6" r="2.7"/><circle cx="535.6" cy="694.7" r="2.7"/><circle cx="539.2" cy="733.4" r="2.7"/><circle cx="542.7" cy="775.1" r="2.7"/><circle cx="547.2" cy="812.5" r="2.7"/><circle cx="549.9" cy="836.3" r="2.7"/><circle cx="553.2" cy="865.2" r="2.7"/><circle cx="558.0" cy="876.1" r="2.7"/><circle cx="561.0" cy="888.5" r="2.7"/><circle cx="565.2" cy="893.2" r="2.7"/><circle cx="568.1" cy="894.0" r="2.7"/><circle cx="571.9" cy="901.1" r="2.7"/><circle cx="574.8" cy="897.5" r="2.7"/><circle cx="577.8" cy="903.3" r="2.7"/><circle cx="580.9" cy="903.1" r="2.7"/><circle cx="586.0" cy="906.0" r="2.7"/><circle cx="587.9" cy="903.4" r="2.7"/><circle cx="593.1" cy="903.8" r="2.7"/><circle cx="594.8" cy="902.8" r="2.7"/><circle cx="598.3" cy="905.0" r="2.7"/><circle cx="603.1" cy="902.9" r="2.7"/><circle cx="606.7" cy="901.1" r="2.7"/><circle cx="609.4" cy="907.8" r="2.7"/><circle cx="613.8" cy="906.3" r="2.7"/><circle cx="615.8" cy="907.5" r="2.7"/></g>
<path d="M66.2 744.6 L67.2 744.4 L68.2 744.3 L69.2 744.0 L70.2 743.8 L71.2 743.6 L72.2 743.3 L73.2 743.1 L74.2 742.8 L75.2 742.5 L76.2 742.2 L77.2 741.9 L78.2 741.5 L79.2 741.2 L80.2 740.8 L81.2 740.4 L82.2 740.1 L83.2 739.6 L84.2 739.2 L85.2 738.8 L86.2 738.3 L87.2 737.9 L88.2 737.4 L89.2 736.9 L90.2 736.4 L91.2 735.8 L92.2 735.3 L93.2 734.8 L94.2 734.2 L95.2 733.6 L96.2 733.0 L97.2 732.4 L98.2 731.8 L99.2 731.1 L100.2 730.5 L101.2 729.8 L102.2 729.2 L103.2 728.5 L104.2 727.8 L105.2 727.1 L106.2 726.4 L107.2 725.7 L108.2 724.9 L109.2 724.2 L110.2 723.5 L111.2 722.7 L112.2 722.0 L113.2 721.2 L114.2 720.5 L115.2 719.7 L116.2 718.9 L117.2 718.2 L118.2 717.4 L119.2 716.6 L120.2 715.9 L121.2 715.1 L122.2 714.3 L123.2 713.6 L124.2 712.8 L125.2 712.0 L126.2 711.3 L127.2 710.5 L128.2 709.8 L129.2 709.0 L130.2 708.3 L131.2 707.6 L132.2 706.9 L133.2 706.1 L134.2 705.4 L135.2 704.7 L136.2 704.1 L137.2 703.4 L138.2 702.8 L139.2 702.1 L140.2 701.5 L141.2 700.9 L142.2 700.3 L143.2 699.7 L144.2 699.2 L145.2 698.6 L146.2 698.1 L147.2 697.6 L148.2 697.2 L149.2 696.7 L150.2 696.3 L151.2 695.9 L152.2 695.6 L153.2 695.3 L154.2 695.0 L155.2 694.7 L156.2 694.5 L157.2 694.3 L158.2 694.1 L159.2 694.0 L160.2 693.9 L161.2 693.8 L162.2 693.8 L163.2 693.9 L164.2 693.9 L165.2 694.0 L166.2 694.2 L167.2 694.3 L168.2 694.6 L169.2 694.8 L170.2 695.1 L171.2 695.5 L172.2 695.8 L173.2 696.2 L174.2 696.7 L175.2 697.2 L176.2 697.7 L177.2 698.3 L178.2 698.8 L179.2 699.5 L180.2 700.1 L181.2 700.9 L182.2 701.6 L183.2 702.4 L184.2 703.2 L185.2 704.0 L186.2 704.9 L187.2 705.8 L188.2 706.8 L189.2 707.7 L190.2 708.7 L191.2 709.7 L192.2 710.8 L193.2 711.9 L194.2 713.0 L195.2 714.1 L196.2 715.2 L197.2 716.4 L198.2 717.5 L199.2 718.7 L200.2 720.0 L201.2 721.2 L202.2 722.4 L203.2 723.7 L204.2 724.9 L205.2 726.2 L206.2 727.5 L207.2 728.8 L208.2 730.0 L209.2 731.3 L210.2 732.6 L211.2 733.9 L212.2 735.3 L213.2 736.6 L214.2 737.9 L215.2 739.2 L216.2 740.5 L217.2 741.8 L218.2 743.0 L219.2 744.3 L220.2 745.6 L221.2 746.9 L222.2 748.1 L223.2 749.4 L224.2 750.6 L225.2 751.9 L226.2 753.1 L227.2 754.3 L228.2 755.5 L229.2 756.7 L230.2 757.9 L231.2 759.1 L232.2 760.3 L233.2 761.4 L234.2 762.6 L235.2 763.7 L236.2 764.9 L237.2 766.0 L238.2 767.1 L239.2 768.2 L240.2 769.3 L241.2 770.4 L242.2 771.5 L243.2 772.6 L244.2 773.6 L245.2 774.7 L246.2 775.7 L247.2 776.7 L248.2 777.7 L249.2 778.7 L250.2 779.7 L251.2 780.7 L252.2 781.6 L253.2 782.6 L254.2 783.5 L255.2 784.4 L256.2 785.3 L257.2 786.1 L258.2 787.0 L259.2 787.8 L260.2 788.6 L261.2 789.4 L262.2 790.1 L263.2 790.8 L264.2 791.6 L265.2 792.3 L266.2 793.0 L267.2 793.6 L268.2 794.3 L269.2 794.9 L270.2 795.5 L271.2 796.2 L272.2 796.8 L273.2 797.3 L274.2 797.9 L275.2 798.5 L276.2 799.0 L277.2 799.6 L278.2 800.1 L279.2 800.6 L280.2 801.1 L281.2 801.6 L282.2 802.1 L283.2 802.5 L284.2 803.0 L285.2 803.4 L286.2 803.9 L287.2 804.3 L288.2 804.7 L289.2 805.1 L290.2 805.5 L291.2 805.9 L292.2 806.3 L293.2 806.7 L294.2 807.1 L295.2 807.4 L296.2 807.8 L297.2 808.1 L298.2 808.5 L299.2 808.8 L300.2 809.1 L301.2 809.4 L302.2 809.8 L303.2 810.1 L304.2 810.4 L305.2 810.6 L306.2 810.9 L307.2 811.2 L308.2 811.5 L309.2 811.8 L310.2 812.0 L311.2 812.3 L312.2 812.5 L313.2 812.8 L314.2 813.0 L315.2 813.3 L316.2 813.5 L317.2 813.8 L318.2 814.0 L319.2 814.3 L320.2 814.5 L321.2 814.7 L322.2 815.0 L323.2 815.2 L324.2 815.4 L325.2 815.7 L326.2 815.9 L327.2 816.1 L328.2 816.3 L329.2 816.6 L330.2 816.8 L331.2 817.0 L332.2 817.2 L333.2 817.5 L334.2 817.7 L335.2 817.9 L336.2 818.1 L337.2 818.3 L338.2 818.6 L339.2 818.8 L340.2 819.0 L341.2 819.2 L342.2 819.4 L343.2 819.6 L344.2 819.8 L345.2 820.1 L346.2 820.3 L347.2 820.5 L348.2 820.7 L349.2 820.9 L350.2 821.1 L351.2 821.3 L352.2 821.5 L353.2 821.7 L354.2 822.0 L355.2 822.2 L356.2 822.4 L357.2 822.6 L358.2 822.8 L359.2 823.0 L360.2 823.2 L361.2 823.4 L362.2 823.6 L363.2 823.9 L364.2 824.1 L365.2 824.3 L366.2 824.5 L367.2 824.7 L368.2 824.9 L369.2 825.1 L370.2 825.4 L371.2 825.6 L372.2 825.8 L373.2 826.0 L374.2 826.2 L375.2 826.5 L376.2 826.7 L377.2 826.9 L378.2 827.1 L379.2 827.4 L380.2 827.6 L381.2 827.8 L382.2 828.1 L383.2 828.3 L384.2 828.5 L385.2 828.8 L386.2 829.0 L387.2 829.3 L388.2 829.5 L389.2 829.7 L390.2 830.0 L391.2 830.2 L392.2 830.4 L393.2 830.7 L394.2 830.9 L395.2 831.1 L396.2 831.4 L397.2 831.6 L398.2 831.8 L399.2 832.1 L400.2 832.3 L401.2 832.5 L402.2 832.7 L403.2 833.0 L404.2 833.2 L405.2 833.4 L406.2 833.6 L407.2 833.8 L408.2 834.0 L409.2 834.2 L410.2 834.4 L411.2 834.6 L412.2 834.8 L413.2 835.0" fill="none" stroke="#1c1ce8" stroke-width="3.0" stroke-linejoin="round"/>
<path d="M114.2 760.5 L115.2 760.7 L116.2 760.9 L117.2 761.1 L118.2 761.3 L119.2 761.5 L120.2 761.7 L121.2 762.0 L122.2 762.2 L123.2 762.4 L124.2 762.6 L125.2 762.9 L126.2 763.1 L127.2 763.3 L128.2 763.6 L129.2 763.8 L130.2 764.0 L131.2 764.3 L132.2 764.5 L133.2 764.7 L134.2 764.9 L135.2 765.2 L136.2 765.4 L137.2 765.6 L138.2 765.8 L139.2 766.1 L140.2 766.3 L141.2 766.5 L142.2 766.7 L143.2 766.9 L144.2 767.1 L145.2 767.3 L146.2 767.5 L147.2 767.7 L148.2 767.9 L149.2 768.1 L150.2 768.3 L151.2 768.5 L152.2 768.7 L153.2 768.9 L154.2 769.1 L155.2 769.3 L156.2 769.5 L157.2 769.7 L158.2 769.9 L159.2 770.1 L160.2 770.3 L161.2 770.4 L162.2 770.6 L163.2 770.8 L164.2 771.0 L165.2 771.2 L166.2 771.4 L167.2 771.6 L168.2 771.8 L169.2 772.0 L170.2 772.2 L171.2 772.4 L172.2 772.6 L173.2 772.8 L174.2 773.0 L175.2 773.2 L176.2 773.4 L177.2 773.6 L178.2 773.8 L179.2 774.0 L180.2 774.2 L181.2 774.3 L182.2 774.5 L183.2 774.7 L184.2 774.8 L185.2 775.0 L186.2 775.1 L187.2 775.2 L188.2 775.3 L189.2 775.4 L190.2 775.4 L191.2 775.4 L192.2 775.4 L193.2 775.3 L194.2 775.2 L195.2 775.0 L196.2 774.7 L197.2 774.4 L198.2 774.0 L199.2 773.5 L200.2 772.9 L201.2 772.2 L202.2 771.4 L203.2 770.4 L204.2 769.4 L205.2 768.2 L206.2 766.9 L207.2 765.4 L208.2 763.8 L209.2 762.0 L210.2 760.1 L211.2 758.1 L212.2 755.9 L213.2 753.5 L214.2 751.1 L215.2 748.5 L216.2 745.8 L217.2 743.0 L218.2 740.1 L219.2 737.1 L220.2 734.2 L221.2 731.2 L222.2 728.2 L223.2 725.2 L224.2 722.4 L225.2 719.6 L226.2 717.0 L227.2 714.5 L228.2 712.3 L229.2 710.3 L230.2 708.6 L231.2 707.1 L232.2 706.0 L233.2 705.3 L234.2 705.0 L235.2 705.0 L236.2 705.4 L237.2 706.0 L238.2 706.9 L239.2 708.1 L240.2 709.5 L241.2 711.2 L242.2 713.0 L243.2 715.1 L244.2 717.3 L245.2 719.8 L246.2 722.3 L247.2 725.0 L248.2 727.8 L249.2 730.7 L250.2 733.6 L251.2 736.6 L252.2 739.7 L253.2 742.7 L254.2 745.8 L255.2 748.8 L256.2 751.8 L257.2 754.8 L258.2 757.7 L259.2 760.5 L260.2 763.3 L261.2 766.0 L262.2 768.6 L263.2 771.1 L264.2 773.5 L265.2 775.9 L266.2 778.1 L267.2 780.2 L268.2 782.2 L269.2 784.2 L270.2 786.0 L271.2 787.7 L272.2 789.3 L273.2 790.9 L274.2 792.3 L275.2 793.7 L276.2 794.9 L277.2 796.1 L278.2 797.2 L279.2 798.3 L280.2 799.2 L281.2 800.1 L282.2 801.0 L283.2 801.8 L284.2 802.5 L285.2 803.2 L286.2 803.9 L287.2 804.5 L288.2 805.0 L289.2 805.6 L290.2 806.1 L291.2 806.5 L292.2 807.0 L293.2 807.4 L294.2 807.8 L295.2 808.2 L296.2 808.6 L297.2 808.9 L298.2 809.3 L299.2 809.6 L300.2 809.9 L301.2 810.2 L302.2 810.5 L303.2 810.8 L304.2 811.0 L305.2 811.3 L306.2 811.5 L307.2 811.8 L308.2 812.0 L309.2 812.3 L310.2 812.5 L311.2 812.8 L312.2 813.0 L313.2 813.2 L314.2 813.4 L315.2 813.7 L316.2 813.9 L317.2 814.1 L318.2 814.3 L319.2 814.6 L320.2 814.8 L321.2 815.0 L322.2 815.2 L323.2 815.4 L324.2 815.6 L325.2 815.9 L326.2 816.1 L327.2 816.3 L328.2 816.5 L329.2 816.7 L330.2 817.0 L331.2 817.2 L332.2 817.4 L333.2 817.6 L334.2 817.8 L335.2 818.0 L336.2 818.3 L337.2 818.5 L338.2 818.7 L339.2 818.9 L340.2 819.1 L341.2 819.3 L342.2 819.5 L343.2 819.7 L344.2 820.0 L345.2 820.2 L346.2 820.4 L347.2 820.6 L348.2 820.8 L349.2 821.0 L350.2 821.2 L351.2 821.4 L352.2 821.6 L353.2 821.8 L354.2 822.1 L355.2 822.3 L356.2 822.5 L357.2 822.7 L358.2 822.9 L359.2 823.1 L360.2 823.3 L361.2 823.5 L362.2 823.7 L363.2 824.0 L364.2 824.2 L365.2 824.4 L366.2 824.6 L367.2 824.8 L368.2 825.0 L369.2 825.2 L370.2 825.5 L371.2 825.7 L372.2 825.9 L373.2 826.1 L374.2 826.3 L375.2 826.6 L376.2 826.8 L377.2 827.0 L378.2 827.3 L379.2 827.5 L380.2 827.7 L381.2 828.0 L382.2 828.2 L383.2 828.4 L384.2 828.7" fill="none" stroke="#1a8a1a" stroke-width="3.0" stroke-linejoin="round"/>
<path d="M236.2 793.9 L237.2 794.2 L238.2 794.4 L239.2 794.7 L240.2 795.0 L241.2 795.2 L242.2 795.5 L243.2 795.7 L244.2 795.9 L245.2 796.1 L246.2 796.3 L247.2 796.4 L248.2 796.5 L249.2 796.5 L250.2 796.4 L251.2 796.3 L252.2 796.0 L253.2 795.7 L254.2 795.3 L255.2 794.7 L256.2 793.9 L257.2 793.0 L258.2 791.9 L259.2 790.7 L260.2 789.2 L261.2 787.5 L262.2 785.5 L263.2 783.4 L264.2 781.0 L265.2 778.4 L266.2 775.6 L267.2 772.6 L268.2 769.4 L269.2 766.0 L270.2 762.5 L271.2 759.0 L272.2 755.3 L273.2 751.7 L274.2 748.1 L275.2 744.6 L276.2 741.2 L277.2 738.1 L278.2 735.2 L279.2 732.6 L280.2 730.4 L281.2 728.5 L282.2 727.2 L283.2 726.3 L284.2 725.9 L285.2 726.0 L286.2 726.5 L287.2 727.3 L288.2 728.5 L289.2 729.9 L290.2 731.6 L291.2 733.6 L292.2 735.8 L293.2 738.2 L294.2 740.9 L295.2 743.7 L296.2 746.7 L297.2 749.8 L298.2 752.9 L299.2 756.2 L300.2 759.4 L301.2 762.7 L302.2 766.0 L303.2 769.2 L304.2 772.4 L305.2 775.5 L306.2 778.6 L307.2 781.5 L308.2 784.3 L309.2 787.0 L310.2 789.6 L311.2 792.0 L312.2 794.3 L313.2 796.5 L314.2 798.5 L315.2 800.4 L316.2 802.1 L317.2 803.7 L318.2 805.2 L319.2 806.6 L320.2 807.8 L321.2 809.0 L322.2 810.1 L323.2 811.0 L324.2 811.9 L325.2 812.7 L326.2 813.4 L327.2 814.1 L328.2 814.7 L329.2 815.3 L330.2 815.8 L331.2 816.2 L332.2 816.7 L333.2 817.1 L334.2 817.4 L335.2 817.8 L336.2 818.1 L337.2 818.4 L338.2 818.7 L339.2 819.0 L340.2 819.2 L341.2 819.5 L342.2 819.7 L343.2 820.0 L344.2 820.2 L345.2 820.4 L346.2 820.7" fill="none" stroke="#ff1cff" stroke-width="3.0" stroke-linejoin="round"/>
<path d="M240.2 795.2 L241.2 795.5 L242.2 795.8 L243.2 796.1 L244.2 796.5 L245.2 796.8 L246.2 797.1 L247.2 797.5 L248.2 797.8 L249.2 798.2 L250.2 798.5 L251.2 798.8 L252.2 799.2 L253.2 799.5 L254.2 799.8 L255.2 800.1 L256.2 800.5 L257.2 800.8 L258.2 801.1 L259.2 801.4 L260.2 801.6 L261.2 801.9 L262.2 802.2 L263.2 802.4 L264.2 802.7 L265.2 802.9 L266.2 803.2 L267.2 803.4 L268.2 803.7 L269.2 803.9 L270.2 804.1 L271.2 804.3 L272.2 804.6 L273.2 804.8 L274.2 805.0 L275.2 805.2 L276.2 805.4 L277.2 805.6 L278.2 805.8 L279.2 806.0 L280.2 806.2 L281.2 806.3 L282.2 806.5 L283.2 806.7 L284.2 806.8 L285.2 807.0 L286.2 807.1 L287.2 807.3 L288.2 807.4 L289.2 807.6 L290.2 807.7 L291.2 807.8 L292.2 807.9 L293.2 808.0 L294.2 808.1 L295.2 808.2 L296.2 808.3 L297.2 808.3 L298.2 808.4 L299.2 808.4 L300.2 808.5 L301.2 808.5 L302.2 808.5 L303.2 808.5 L304.2 808.5 L305.2 808.5 L306.2 808.5 L307.2 808.4 L308.2 808.4 L309.2 808.3 L310.2 808.2 L311.2 808.1 L312.2 808.0 L313.2 807.9 L314.2 807.7 L315.2 807.6 L316.2 807.4 L317.2 807.2 L318.2 807.0 L319.2 806.8 L320.2 806.6 L321.2 806.4 L322.2 806.1 L323.2 805.8 L324.2 805.5 L325.2 805.2 L326.2 804.9 L327.2 804.6 L328.2 804.2 L329.2 803.8 L330.2 803.4 L331.2 803.0 L332.2 802.6 L333.2 802.1 L334.2 801.7 L335.2 801.2 L336.2 800.7 L337.2 800.1 L338.2 799.6 L339.2 799.0 L340.2 798.4 L341.2 797.8 L342.2 797.1 L343.2 796.5 L344.2 795.8 L345.2 795.1 L346.2 794.4 L347.2 793.6 L348.2 792.9 L349.2 792.1 L350.2 791.3 L351.2 790.5 L352.2 789.7 L353.2 788.8 L354.2 787.9 L355.2 787.0 L356.2 786.1 L357.2 785.2 L358.2 784.3 L359.2 783.4 L360.2 782.4 L361.2 781.4 L362.2 780.5 L363.2 779.5 L364.2 778.5 L365.2 777.4 L366.2 776.4 L367.2 775.4 L368.2 774.4 L369.2 773.3 L370.2 772.3 L371.2 771.3 L372.2 770.2 L373.2 769.2 L374.2 768.2 L375.2 767.1 L376.2 766.1 L377.2 765.1 L378.2 764.1 L379.2 763.1 L380.2 762.1 L381.2 761.1 L382.2 760.2 L383.2 759.2 L384.2 758.3 L385.2 757.4 L386.2 756.5 L387.2 755.6 L388.2 754.7 L389.2 753.9 L390.2 753.1 L391.2 752.3 L392.2 751.5 L393.2 750.8 L394.2 750.1 L395.2 749.4 L396.2 748.8 L397.2 748.2 L398.2 747.6 L399.2 747.1 L400.2 746.6 L401.2 746.1 L402.2 745.6 L403.2 745.2 L404.2 744.9 L405.2 744.6 L406.2 744.3 L407.2 744.1 L408.2 743.9 L409.2 743.7 L410.2 743.6 L411.2 743.6 L412.2 743.5 L413.2 743.6 L414.2 743.7 L415.2 743.8 L416.2 744.0 L417.2 744.2 L418.2 744.5 L419.2 744.9 L420.2 745.3 L421.2 745.8 L422.2 746.4 L423.2 747.1 L424.2 747.8 L425.2 748.5 L426.2 749.4 L427.2 750.3 L428.2 751.2 L429.2 752.2 L430.2 753.3 L431.2 754.4 L432.2 755.6 L433.2 756.8 L434.2 758.1 L435.2 759.5 L436.2 760.8 L437.2 762.3 L438.2 763.7 L439.2 765.2 L440.2 766.8 L441.2 768.4 L442.2 770.0 L443.2 771.6 L444.2 773.3 L445.2 775.0 L446.2 776.7 L447.2 778.5 L448.2 780.3 L449.2 782.0 L450.2 783.8 L451.2 785.6 L452.2 787.4 L453.2 789.2 L454.2 791.0 L455.2 792.9 L456.2 794.7 L457.2 796.5 L458.2 798.3 L459.2 800.1 L460.2 801.9 L461.2 803.7 L462.2 805.4 L463.2 807.2 L464.2 808.9 L465.2 810.7 L466.2 812.4 L467.2 814.1 L468.2 815.7 L469.2 817.4 L470.2 819.0 L471.2 820.6 L472.2 822.2 L473.2 823.8 L474.2 825.3 L475.2 826.8 L476.2 828.3 L477.2 829.8 L478.2 831.2 L479.2 832.6 L480.2 834.0 L481.2 835.4 L482.2 836.7 L483.2 838.0 L484.2 839.3 L485.2 840.5 L486.2 841.8 L487.2 843.0 L488.2 844.2 L489.2 845.3 L490.2 846.5 L491.2 847.6 L492.2 848.7 L493.2 849.7 L494.2 850.8 L495.2 851.9 L496.2 852.9 L497.2 853.9 L498.2 854.9 L499.2 855.9 L500.2 856.9 L501.2 857.8 L502.2 858.8 L503.2 859.7 L504.2 860.6 L505.2 861.5 L506.2 862.4 L507.2 863.3 L508.2 864.2 L509.2 865.0 L510.2 865.9 L511.2 866.7 L512.2 867.6 L513.2 868.4 L514.2 869.2 L515.2 870.0 L516.2 870.8 L517.2 871.6 L518.2 872.3 L519.2 873.1 L520.2 873.9 L521.2 874.7 L522.2 875.5 L523.2 876.3 L524.2 877.1 L525.2 878.0 L526.2 878.8 L527.2 879.7 L528.2 880.6 L529.2 881.4 L530.2 882.3 L531.2 883.1 L532.2 884.0 L533.2 884.8 L534.2 885.6 L535.2 886.4 L536.2 887.1 L537.2 887.9 L538.2 888.6 L539.2 889.3 L540.2 889.9 L541.2 890.5 L542.2 891.1 L543.2 891.6 L544.2 892.1 L545.2 892.5 L546.2 892.9 L547.2 893.3 L548.2 893.7 L549.2 894.0 L550.2 894.3 L551.2 894.6 L552.2 894.8 L553.2 895.1 L554.2 895.3 L555.2 895.5 L556.2 895.7 L557.2 895.9 L558.2 896.0 L559.2 896.2 L560.2 896.3 L561.2 896.5 L562.2 896.6 L563.2 896.7 L564.2 896.8" fill="none" stroke="#1c1ce8" stroke-width="3.0" stroke-linejoin="round"/>
<path d="M407.2 833.8 L408.2 834.0 L409.2 834.2 L410.2 834.4 L411.2 834.5 L412.2 834.7 L413.2 834.9 L414.2 835.1 L415.2 835.3 L416.2 835.4 L417.2 835.6 L418.2 835.8 L419.2 836.0 L420.2 836.1 L421.2 836.3 L422.2 836.5 L423.2 836.7 L424.2 836.8 L425.2 837.0 L426.2 837.2 L427.2 837.3 L428.2 837.5 L429.2 837.7 L430.2 837.8 L431.2 838.0 L432.2 838.1 L433.2 838.2 L434.2 838.3 L435.2 838.4 L436.2 838.5 L437.2 838.5 L438.2 838.5 L439.2 838.4 L440.2 838.3 L441.2 838.1 L442.2 837.9 L443.2 837.5 L444.2 837.1 L445.2 836.5 L446.2 835.8 L447.2 835.0 L448.2 833.9 L449.2 832.7 L450.2 831.3 L451.2 829.6 L452.2 827.7 L453.2 825.5 L454.2 823.0 L455.2 820.2 L456.2 817.0 L457.2 813.5 L458.2 809.7 L459.2 805.5 L460.2 801.0 L461.2 796.1 L462.2 790.8 L463.2 785.3 L464.2 779.4 L465.2 773.2 L466.2 766.9 L467.2 760.3 L468.2 753.6 L469.2 746.8 L470.2 740.0 L471.2 733.3 L472.2 726.7 L473.2 720.3 L474.2 714.2 L475.2 708.4 L476.2 703.1 L477.2 698.3 L478.2 694.1 L479.2 690.6 L480.2 687.8 L481.2 685.7 L482.2 684.5 L483.2 684.0 L484.2 684.5 L485.2 685.5 L486.2 687.1 L487.2 689.4 L488.2 692.2 L489.2 695.6 L490.2 699.4 L491.2 703.8 L492.2 708.6 L493.2 713.8 L494.2 719.3 L495.2 725.2 L496.2 731.3 L497.2 737.6 L498.2 744.0 L499.2 750.6 L500.2 757.2 L501.2 763.8 L502.2 770.5 L503.2 777.0 L504.2 783.5 L505.2 789.8 L506.2 796.0 L507.2 802.0 L508.2 807.7 L509.2 813.3 L510.2 818.6 L511.2 823.7 L512.2 828.5 L513.2 833.1 L514.2 837.4 L515.2 841.4 L516.2 845.2 L517.2 848.8 L518.2 852.1 L519.2 855.2 L520.2 858.1 L521.2 860.8 L522.2 863.3 L523.2 865.6 L524.2 867.8 L525.2 869.9 L526.2 871.9 L527.2 873.7 L528.2 875.4 L529.2 877.0 L530.2 878.5 L531.2 879.9 L532.2 881.2 L533.2 882.4 L534.2 883.6 L535.2 884.7 L536.2 885.7 L537.2 886.7 L538.2 887.6 L539.2 888.4 L540.2 889.2 L541.2 889.9 L542.2 890.5 L543.2 891.1 L544.2 891.7 L545.2 892.2 L546.2 892.6 L547.2 893.0 L548.2 893.4 L549.2 893.8 L550.2 894.1 L551.2 894.4 L552.2 894.7 L553.2 894.9 L554.2 895.1 L555.2 895.4 L556.2 895.5 L557.2 895.7 L558.2 895.9 L559.2 896.1 L560.2 896.2 L561.2 896.3 L562.2 896.5 L563.2 896.6 L564.2 896.7 L565.2 896.9 L566.2 897.0 L567.2 897.1 L568.2 897.2 L569.2 897.4 L570.2 897.5 L571.2 897.6 L572.2 897.7 L573.2 897.8 L574.2 897.9" fill="none" stroke="#1a8a1a" stroke-width="3.0" stroke-linejoin="round"/>
<path d="M440.2 840.8 L441.2 841.1 L442.2 841.3 L443.2 841.6 L444.2 841.9 L445.2 842.2 L446.2 842.5 L447.2 842.8 L448.2 843.1 L449.2 843.4 L450.2 843.7 L451.2 844.0 L452.2 844.3 L453.2 844.6 L454.2 844.9 L455.2 845.2 L456.2 845.6 L457.2 845.9 L458.2 846.2 L459.2 846.6 L460.2 846.9 L461.2 847.3 L462.2 847.6 L463.2 847.9 L464.2 848.3 L465.2 848.6 L466.2 849.0 L467.2 849.3 L468.2 849.7 L469.2 850.0 L470.2 850.4 L471.2 850.7 L472.2 851.1 L473.2 851.4 L474.2 851.7 L475.2 852.0 L476.2 852.3 L477.2 852.6 L478.2 852.9 L479.2 853.1 L480.2 853.3 L481.2 853.4 L482.2 853.5 L483.2 853.5 L484.2 853.4 L485.2 853.2 L486.2 852.9 L487.2 852.5 L488.2 851.9 L489.2 851.1 L490.2 850.1 L491.2 848.9 L492.2 847.4 L493.2 845.6 L494.2 843.4 L495.2 840.9 L496.2 838.0 L497.2 834.6 L498.2 830.8 L499.2 826.5 L500.2 821.6 L501.2 816.2 L502.2 810.2 L503.2 803.7 L504.2 796.7 L505.2 789.0 L506.2 780.9 L507.2 772.3 L508.2 763.3 L509.2 753.9 L510.2 744.2 L511.2 734.3 L512.2 724.3 L513.2 714.3 L514.2 704.4 L515.2 694.8 L516.2 685.5 L517.2 676.8 L518.2 668.7 L519.2 661.3 L520.2 654.9 L521.2 649.5 L522.2 645.2 L523.2 642.2 L524.2 640.4 L525.2 640.0 L526.2 640.8 L527.2 642.9 L528.2 646.1 L529.2 650.4 L530.2 655.8 L531.2 662.2 L532.2 669.4 L533.2 677.5 L534.2 686.2 L535.2 695.6 L536.2 705.4 L537.2 715.6 L538.2 726.0 L539.2 736.5 L540.2 747.1 L541.2 757.6 L542.2 768.0 L543.2 778.1 L544.2 787.9 L545.2 797.3 L546.2 806.4 L547.2 814.9 L548.2 823.0 L549.2 830.6 L550.2 837.6 L551.2 844.1 L552.2 850.1 L553.2 855.6 L554.2 860.6 L555.2 865.1 L556.2 869.2 L557.2 872.9 L558.2 876.1 L559.2 879.0 L560.2 881.5 L561.2 883.7 L562.2 885.7 L563.2 887.4 L564.2 888.9 L565.2 890.2 L566.2 891.3 L567.2 892.3 L568.2 893.1 L569.2 893.8 L570.2 894.5 L571.2 895.0 L572.2 895.5 L573.2 895.9 L574.2 896.2 L575.2 896.5 L576.2 896.8 L577.2 897.0 L578.2 897.3 L579.2 897.5 L580.2 897.6 L581.2 897.8 L582.2 897.9 L583.2 898.1 L584.2 898.2 L585.2 898.3 L586.2 898.4 L587.2 898.5 L588.2 898.6 L589.2 898.7 L590.2 898.8 L591.2 898.9 L592.2 899.0 L593.2 899.1 L594.2 899.2 L595.2 899.3 L596.2 899.3 L597.2 899.4 L598.2 899.5 L599.2 899.6 L600.2 899.6 L601.2 899.7 L602.2 899.8 L603.2 899.9 L604.2 899.9 L605.2 900.0 L606.2 900.1 L607.2 900.2 L608.2 900.2 L609.2 900.3 L610.2 900.4 L611.2 900.4 L612.2 900.5 L613.2 900.6 L614.2 900.7 L615.2 900.7 L616.2 900.8" fill="none" stroke="#ff1cff" stroke-width="3.0" stroke-linejoin="round"/>
<path d="M66.2 742.7 L67.2 742.5 L68.2 742.2 L69.2 742.0 L70.2 741.7 L71.2 741.4 L72.2 741.1 L73.2 740.8 L74.2 740.5 L75.2 740.2 L76.2 739.8 L77.2 739.5 L78.2 739.1 L79.2 738.7 L80.2 738.3 L81.2 737.9 L82.2 737.5 L83.2 737.0 L84.2 736.6 L85.2 736.1 L86.2 735.6 L87.2 735.1 L88.2 734.6 L89.2 734.0 L90.2 733.5 L91.2 732.9 L92.2 732.4 L93.2 731.8 L94.2 731.2 L95.2 730.6 L96.2 729.9 L97.2 729.3 L98.2 728.7 L99.2 728.0 L100.2 727.3 L101.2 726.7 L102.2 726.0 L103.2 725.3 L104.2 724.6 L105.2 723.8 L106.2 723.1 L107.2 722.4 L108.2 721.6 L109.2 720.9 L110.2 720.2 L111.2 719.4 L112.2 718.6 L113.2 717.9 L114.2 717.1 L115.2 716.4 L116.2 715.6 L117.2 714.8 L118.2 714.1 L119.2 713.3 L120.2 712.5 L121.2 711.8 L122.2 711.0 L123.2 710.3 L124.2 709.5 L125.2 708.8 L126.2 708.0 L127.2 707.3 L128.2 706.5 L129.2 705.8 L130.2 705.1 L131.2 704.4 L132.2 703.7 L133.2 703.0 L134.2 702.3 L135.2 701.6 L136.2 700.9 L137.2 700.3 L138.2 699.6 L139.2 699.0 L140.2 698.4 L141.2 697.8 L142.2 697.2 L143.2 696.7 L144.2 696.1 L145.2 695.6 L146.2 695.1 L147.2 694.6 L148.2 694.1 L149.2 693.7 L150.2 693.3 L151.2 692.9 L152.2 692.6 L153.2 692.2 L154.2 691.9 L155.2 691.7 L156.2 691.4 L157.2 691.2 L158.2 691.0 L159.2 690.9 L160.2 690.8 L161.2 690.7 L162.2 690.7 L163.2 690.7 L164.2 690.7 L165.2 690.8 L166.2 690.9 L167.2 691.0 L168.2 691.2 L169.2 691.4 L170.2 691.6 L171.2 691.9 L172.2 692.2 L173.2 692.5 L174.2 692.9 L175.2 693.3 L176.2 693.7 L177.2 694.2 L178.2 694.7 L179.2 695.2 L180.2 695.7 L181.2 696.3 L182.2 696.8 L183.2 697.4 L184.2 698.0 L185.2 698.7 L186.2 699.3 L187.2 699.9 L188.2 700.5 L189.2 701.1 L190.2 701.7 L191.2 702.3 L192.2 702.9 L193.2 703.4 L194.2 703.9 L195.2 704.3 L196.2 704.7 L197.2 705.0 L198.2 705.3 L199.2 705.5 L200.2 705.6 L201.2 705.6 L202.2 705.5 L203.2 705.3 L204.2 705.1 L205.2 704.7 L206.2 704.2 L207.2 703.5 L208.2 702.8 L209.2 701.9 L210.2 700.9 L211.2 699.8 L212.2 698.6 L213.2 697.3 L214.2 695.9 L215.2 694.4 L216.2 692.8 L217.2 691.1 L218.2 689.4 L219.2 687.6 L220.2 685.8 L221.2 684.0 L222.2 682.3 L223.2 680.6 L224.2 678.9 L225.2 677.4 L226.2 676.0 L227.2 674.7 L228.2 673.6 L229.2 672.7 L230.2 672.1 L231.2 671.7 L232.2 671.5 L233.2 671.7 L234.2 672.2 L235.2 673.0 L236.2 674.1 L237.2 675.5 L238.2 677.1 L239.2 678.9 L240.2 680.9 L241.2 683.2 L242.2 685.6 L243.2 688.2 L244.2 690.8 L245.2 693.6 L246.2 696.5 L247.2 699.4 L248.2 702.3 L249.2 705.2 L250.2 708.1 L251.2 710.9 L252.2 713.6 L253.2 716.1 L254.2 718.5 L255.2 720.7 L256.2 722.7 L257.2 724.5 L258.2 726.1 L259.2 727.4 L260.2 728.4 L261.2 729.1 L262.2 729.6 L263.2 729.8 L264.2 729.7 L265.2 729.4 L266.2 728.8 L267.2 728.0 L268.2 727.0 L269.2 725.7 L270.2 724.4 L271.2 722.9 L272.2 721.3 L273.2 719.7 L274.2 718.0 L275.2 716.4 L276.2 714.9 L277.2 713.5 L278.2 712.2 L279.2 711.1 L280.2 710.3 L281.2 709.8 L282.2 709.6 L283.2 709.7 L284.2 710.1 L285.2 710.9 L286.2 712.0 L287.2 713.4 L288.2 715.1 L289.2 717.0 L290.2 719.2 L291.2 721.7 L292.2 724.3 L293.2 727.2 L294.2 730.2 L295.2 733.4 L296.2 736.7 L297.2 740.1 L298.2 743.5 L299.2 747.0 L300.2 750.5 L301.2 753.9 L302.2 757.4 L303.2 760.8 L304.2 764.1 L305.2 767.3 L306.2 770.4 L307.2 773.4 L308.2 776.2 L309.2 778.9 L310.2 781.5 L311.2 783.9 L312.2 786.1 L313.2 788.2 L314.2 790.1 L315.2 791.9 L316.2 793.5 L317.2 795.0 L318.2 796.3 L319.2 797.5 L320.2 798.5 L321.2 799.4 L322.2 800.2 L323.2 800.9 L324.2 801.5 L325.2 802.0 L326.2 802.4 L327.2 802.7 L328.2 802.9 L329.2 803.1 L330.2 803.2 L331.2 803.2 L332.2 803.1 L333.2 803.0 L334.2 802.9 L335.2 802.7 L336.2 802.4 L337.2 802.1 L338.2 801.8 L339.2 801.4 L340.2 801.0 L341.2 800.5 L342.2 800.1 L343.2 799.5 L344.2 799.0 L345.2 798.4 L346.2 797.8 L347.2 797.2 L348.2 796.5 L349.2 795.8 L350.2 795.0 L351.2 794.3 L352.2 793.5 L353.2 792.7 L354.2 791.8 L355.2 791.0 L356.2 790.1 L357.2 789.2 L358.2 788.2 L359.2 787.3 L360.2 786.3 L361.2 785.3 L362.2 784.2 L363.2 783.2 L364.2 782.1 L365.2 781.1 L366.2 780.0 L367.2 778.8 L368.2 777.7 L369.2 776.6 L370.2 775.4 L371.2 774.3 L372.2 773.1 L373.2 771.9 L374.2 770.7 L375.2 769.6 L376.2 768.4 L377.2 767.2 L378.2 766.0 L379.2 764.8 L380.2 763.7 L381.2 762.5 L382.2 761.4 L383.2 760.2 L384.2 759.1 L385.2 758.0 L386.2 756.9 L387.2 755.8 L388.2 754.8 L389.2 753.7 L390.2 752.7 L391.2 751.7 L392.2 750.8 L393.2 749.8 L394.2 748.9 L395.2 748.0 L396.2 747.2 L397.2 746.4 L398.2 745.6 L399.2 744.9 L400.2 744.2 L401.2 743.6 L402.2 743.0 L403.2 742.4 L404.2 741.9 L405.2 741.4 L406.2 741.0 L407.2 740.6 L408.2 740.3 L409.2 740.0 L410.2 739.7 L411.2 739.6 L412.2 739.4 L413.2 739.4 L414.2 739.3 L415.2 739.4 L416.2 739.4 L417.2 739.6 L418.2 739.8 L419.2 740.0 L420.2 740.3 L421.2 740.6 L422.2 741.0 L423.2 741.5 L424.2 741.9 L425.2 742.5 L426.2 743.1 L427.2 743.7 L428.2 744.3 L429.2 745.0 L430.2 745.8 L431.2 746.6 L432.2 747.4 L433.2 748.2 L434.2 749.1 L435.2 750.0 L436.2 750.9 L437.2 751.8 L438.2 752.8 L439.2 753.7 L440.2 754.6 L441.2 755.6 L442.2 756.4 L443.2 757.3 L444.2 758.1 L445.2 758.8 L446.2 759.5 L447.2 760.0 L448.2 760.5 L449.2 760.7 L450.2 760.9 L451.2 760.8 L452.2 760.5 L453.2 760.0 L454.2 759.3 L455.2 758.3 L456.2 756.9 L457.2 755.3 L458.2 753.3 L459.2 750.9 L460.2 748.2 L461.2 745.0 L462.2 741.5 L463.2 737.6 L464.2 733.3 L465.2 728.7 L466.2 723.7 L467.2 718.4 L468.2 712.8 L469.2 706.9 L470.2 700.9 L471.2 694.7 L472.2 688.5 L473.2 682.4 L474.2 676.3 L475.2 670.4 L476.2 664.9 L477.2 659.7 L478.2 655.1 L479.2 651.1 L480.2 647.9 L481.2 645.4 L482.2 643.9 L483.2 643.4 L484.2 643.8 L485.2 645.3 L486.2 647.7 L487.2 651.0 L488.2 655.2 L489.2 660.1 L490.2 665.6 L491.2 671.8 L492.2 678.3 L493.2 685.2 L494.2 692.2 L495.2 699.3 L496.2 706.3 L497.2 713.1 L498.2 719.5 L499.2 725.5 L500.2 730.9 L501.2 735.6 L502.2 739.5 L503.2 742.6 L504.2 744.6 L505.2 745.7 L506.2 745.6 L507.2 744.5 L508.2 742.2 L509.2 738.8 L510.2 734.3 L511.2 728.8 L512.2 722.3 L513.2 715.1 L514.2 707.1 L515.2 698.7 L516.2 689.8 L517.2 680.9 L518.2 672.0 L519.2 663.3 L520.2 655.2 L521.2 647.7 L522.2 641.2 L523.2 635.9 L524.2 631.8 L525.2 629.1 L526.2 627.9 L527.2 628.3 L528.2 630.3 L529.2 633.7 L530.2 638.4 L531.2 644.5 L532.2 651.8 L533.2 660.3 L534.2 669.7 L535.2 680.0 L536.2 691.1 L537.2 702.7 L538.2 714.7 L539.2 726.9 L540.2 739.3 L541.2 751.6 L542.2 763.6 L543.2 775.4 L544.2 786.7 L545.2 797.6 L546.2 807.8 L547.2 817.5 L548.2 826.4 L549.2 834.7 L550.2 842.3 L551.2 849.2 L552.2 855.4 L553.2 861.0 L554.2 866.0 L555.2 870.4 L556.2 874.2 L557.2 877.6 L558.2 880.5 L559.2 883.0 L560.2 885.1 L561.2 887.0 L562.2 888.5 L563.2 889.9 L564.2 891.0 L565.2 891.9 L566.2 892.7 L567.2 893.4 L568.2 894.0 L569.2 894.5 L570.2 894.9 L571.2 895.2 L572.2 895.5 L573.2 895.8 L574.2 896.0 L575.2 896.3 L576.2 896.4 L577.2 896.6 L578.2 896.8 L579.2 896.9 L580.2 897.1 L581.2 897.2 L582.2 897.3 L583.2 897.4 L584.2 897.5 L585.2 897.6 L586.2 897.8 L587.2 897.9 L588.2 898.0 L589.2 898.0 L590.2 898.1 L591.2 898.2 L592.2 898.3 L593.2 898.4 L594.2 898.5 L595.2 898.6 L596.2 898.7 L597.2 898.7 L598.2 898.8 L599.2 898.9 L600.2 899.0 L601.2 899.1 L602.2 899.1 L603.2 899.2 L604.2 899.3 L605.2 899.4 L606.2 899.4 L607.2 899.5 L608.2 899.6 L609.2 899.7 L610.2 899.8 L611.2 899.8 L612.2 899.9 L613.2 900.0 L614.2 900.1 L615.2 900.1 L616.2 900.2 L617.2 900.3 L618.2 900.4" fill="none" stroke="#ee1c24" stroke-width="3.0" stroke-linejoin="round"/>
<path d="M66.2 753.0 L67.2 753.1 L68.2 753.3 L69.2 753.4 L70.2 753.6 L71.2 753.8 L72.2 753.9 L73.2 754.1 L74.2 754.2 L75.2 754.4 L76.2 754.5 L77.2 754.7 L78.2 754.8 L79.2 755.0 L80.2 755.1 L81.2 755.3 L82.2 755.4 L83.2 755.6 L84.2 755.7 L85.2 755.9 L86.2 756.0 L87.2 756.2 L88.2 756.3 L89.2 756.5 L90.2 756.6 L91.2 756.8 L92.2 757.0 L93.2 757.1 L94.2 757.3 L95.2 757.4 L96.2 757.6 L97.2 757.8 L98.2 757.9 L99.2 758.1 L100.2 758.3 L101.2 758.4 L102.2 758.6 L103.2 758.8 L104.2 758.9 L105.2 759.1 L106.2 759.3 L107.2 759.5 L108.2 759.7 L109.2 759.9 L110.2 760.0 L111.2 760.2 L112.2 760.4 L113.2 760.7 L114.2 760.9 L115.2 761.1 L116.2 761.3 L117.2 761.5 L118.2 761.7 L119.2 762.0 L120.2 762.2 L121.2 762.4 L122.2 762.6 L123.2 762.9 L124.2 763.1 L125.2 763.4 L126.2 763.6 L127.2 763.8 L128.2 764.1 L129.2 764.3 L130.2 764.6 L131.2 764.8 L132.2 765.0 L133.2 765.3 L134.2 765.5 L135.2 765.8 L136.2 766.0 L137.2 766.2 L138.2 766.5 L139.2 766.7 L140.2 766.9 L141.2 767.2 L142.2 767.4 L143.2 767.6 L144.2 767.8 L145.2 768.0 L146.2 768.3 L147.2 768.5 L148.2 768.7 L149.2 768.9 L150.2 769.1 L151.2 769.3 L152.2 769.6 L153.2 769.8 L154.2 770.0 L155.2 770.2 L156.2 770.4 L157.2 770.6 L158.2 770.8 L159.2 771.1 L160.2 771.3 L161.2 771.5 L162.2 771.7 L163.2 771.9 L164.2 772.2 L165.2 772.4 L166.2 772.6 L167.2 772.8 L168.2 773.1 L169.2 773.3 L170.2 773.5 L171.2 773.8 L172.2 774.0 L173.2 774.3 L174.2 774.5 L175.2 774.8 L176.2 775.0 L177.2 775.3 L178.2 775.6 L179.2 775.8 L180.2 776.1 L181.2 776.4 L182.2 776.7 L183.2 777.0 L184.2 777.2 L185.2 777.6 L186.2 777.9 L187.2 778.2 L188.2 778.5 L189.2 778.8 L190.2 779.1 L191.2 779.5 L192.2 779.8 L193.2 780.1 L194.2 780.5 L195.2 780.8 L196.2 781.1 L197.2 781.5 L198.2 781.8 L199.2 782.2 L200.2 782.5 L201.2 782.9 L202.2 783.2 L203.2 783.6 L204.2 783.9 L205.2 784.3 L206.2 784.6 L207.2 785.0 L208.2 785.3 L209.2 785.7 L210.2 786.0 L211.2 786.4 L212.2 786.7 L213.2 787.1 L214.2 787.4 L215.2 787.7 L216.2 788.1 L217.2 788.4 L218.2 788.7 L219.2 789.1 L220.2 789.4 L221.2 789.7 L222.2 790.0 L223.2 790.3 L224.2 790.6 L225.2 790.9 L226.2 791.2 L227.2 791.5 L228.2 791.9 L229.2 792.2 L230.2 792.5 L231.2 792.8 L232.2 793.1 L233.2 793.4 L234.2 793.7 L235.2 794.0 L236.2 794.3 L237.2 794.6 L238.2 794.9 L239.2 795.2 L240.2 795.6 L241.2 795.9 L242.2 796.2 L243.2 796.6 L244.2 796.9 L245.2 797.2 L246.2 797.6 L247.2 797.9 L248.2 798.3 L249.2 798.6 L250.2 799.0 L251.2 799.3 L252.2 799.7 L253.2 800.0 L254.2 800.4 L255.2 800.7 L256.2 801.0 L257.2 801.3 L258.2 801.7 L259.2 802.0 L260.2 802.3 L261.2 802.6 L262.2 802.9 L263.2 803.1 L264.2 803.4 L265.2 803.7 L266.2 804.0 L267.2 804.2 L268.2 804.5 L269.2 804.8 L270.2 805.0 L271.2 805.3 L272.2 805.5 L273.2 805.8 L274.2 806.0 L275.2 806.3 L276.2 806.5 L277.2 806.8 L278.2 807.0 L279.2 807.3 L280.2 807.5 L281.2 807.8 L282.2 808.0 L283.2 808.2 L284.2 808.5 L285.2 808.7 L286.2 808.9 L287.2 809.2 L288.2 809.4 L289.2 809.6 L290.2 809.9 L291.2 810.1 L292.2 810.3 L293.2 810.5 L294.2 810.8 L295.2 811.0 L296.2 811.2 L297.2 811.4 L298.2 811.6 L299.2 811.9 L300.2 812.1 L301.2 812.3 L302.2 812.5 L303.2 812.7 L304.2 812.9 L305.2 813.1 L306.2 813.3 L307.2 813.5 L308.2 813.7 L309.2 813.9 L310.2 814.1 L311.2 814.2 L312.2 814.4 L313.2 814.6 L314.2 814.8 L315.2 815.0 L316.2 815.2 L317.2 815.4 L318.2 815.6 L319.2 815.8 L320.2 816.0 L321.2 816.1 L322.2 816.3 L323.2 816.5 L324.2 816.7 L325.2 816.9 L326.2 817.1 L327.2 817.3 L328.2 817.5 L329.2 817.7 L330.2 817.9 L331.2 818.1 L332.2 818.3 L333.2 818.5 L334.2 818.7 L335.2 818.9 L336.2 819.1 L337.2 819.3 L338.2 819.5 L339.2 819.7 L340.2 819.9 L341.2 820.1 L342.2 820.3 L343.2 820.5 L344.2 820.7 L345.2 820.9 L346.2 821.1 L347.2 821.3 L348.2 821.5 L349.2 821.7 L350.2 821.9 L351.2 822.1 L352.2 822.3 L353.2 822.5 L354.2 822.7 L355.2 822.9 L356.2 823.1 L357.2 823.3 L358.2 823.5 L359.2 823.7 L360.2 823.9 L361.2 824.1 L362.2 824.3 L363.2 824.5 L364.2 824.7 L365.2 824.9 L366.2 825.1 L367.2 825.3 L368.2 825.5 L369.2 825.7 L370.2 825.9 L371.2 826.2 L372.2 826.4 L373.2 826.6 L374.2 826.8 L375.2 827.0 L376.2 827.2 L377.2 827.5 L378.2 827.7 L379.2 827.9 L380.2 828.1 L381.2 828.4 L382.2 828.6 L383.2 828.8 L384.2 829.1 L385.2 829.3 L386.2 829.5 L387.2 829.8 L388.2 830.0 L389.2 830.2 L390.2 830.5 L391.2 830.7 L392.2 830.9 L393.2 831.2 L394.2 831.4 L395.2 831.6 L396.2 831.8 L397.2 832.1 L398.2 832.3 L399.2 832.5 L400.2 832.7 L401.2 833.0 L402.2 833.2 L403.2 833.4 L404.2 833.6 L405.2 833.8 L406.2 834.0 L407.2 834.2 L408.2 834.4 L409.2 834.6 L410.2 834.8 L411.2 835.0 L412.2 835.2 L413.2 835.4 L414.2 835.6 L415.2 835.8 L416.2 836.0 L417.2 836.2 L418.2 836.3 L419.2 836.5 L420.2 836.7 L421.2 836.9 L422.2 837.1 L423.2 837.3 L424.2 837.5 L425.2 837.7 L426.2 837.9 L427.2 838.1 L428.2 838.3 L429.2 838.6 L430.2 838.8 L431.2 839.0 L432.2 839.2 L433.2 839.5 L434.2 839.7 L435.2 839.9 L436.2 840.2 L437.2 840.4 L438.2 840.7 L439.2 840.9 L440.2 841.2 L441.2 841.5 L442.2 841.7 L443.2 842.0 L444.2 842.3 L445.2 842.6 L446.2 842.9 L447.2 843.2 L448.2 843.5 L449.2 843.9 L450.2 844.2 L451.2 844.5 L452.2 844.8 L453.2 845.2 L454.2 845.5 L455.2 845.8 L456.2 846.2 L457.2 846.5 L458.2 846.9 L459.2 847.2 L460.2 847.6 L461.2 848.0 L462.2 848.3 L463.2 848.7 L464.2 849.1 L465.2 849.4 L466.2 849.8 L467.2 850.2 L468.2 850.6 L469.2 851.0 L470.2 851.4 L471.2 851.8 L472.2 852.2 L473.2 852.6 L474.2 853.0 L475.2 853.4 L476.2 853.8 L477.2 854.2 L478.2 854.6 L479.2 855.0 L480.2 855.5 L481.2 855.9 L482.2 856.3 L483.2 856.7 L484.2 857.2 L485.2 857.6 L486.2 858.0 L487.2 858.5 L488.2 858.9 L489.2 859.4 L490.2 859.8 L491.2 860.3 L492.2 860.7 L493.2 861.2 L494.2 861.7 L495.2 862.2 L496.2 862.7 L497.2 863.2 L498.2 863.7 L499.2 864.2 L500.2 864.8 L501.2 865.3 L502.2 865.8 L503.2 866.4 L504.2 866.9 L505.2 867.5 L506.2 868.1 L507.2 868.6 L508.2 869.2 L509.2 869.8 L510.2 870.4 L511.2 870.9 L512.2 871.5 L513.2 872.1 L514.2 872.7 L515.2 873.3 L516.2 873.9 L517.2 874.5 L518.2 875.1 L519.2 875.8 L520.2 876.4 L521.2 877.0 L522.2 877.7 L523.2 878.4 L524.2 879.1 L525.2 879.8 L526.2 880.6 L527.2 881.4 L528.2 882.1 L529.2 882.9 L530.2 883.7 L531.2 884.5 L532.2 885.2 L533.2 886.0 L534.2 886.7 L535.2 887.5 L536.2 888.2 L537.2 888.9 L538.2 889.5 L539.2 890.2 L540.2 890.8 L541.2 891.3 L542.2 891.9 L543.2 892.4 L544.2 892.8 L545.2 893.2 L546.2 893.6 L547.2 894.0 L548.2 894.3 L549.2 894.6 L550.2 894.9 L551.2 895.1 L552.2 895.4 L553.2 895.6 L554.2 895.8 L555.2 896.0 L556.2 896.2 L557.2 896.3 L558.2 896.5 L559.2 896.6 L560.2 896.8 L561.2 896.9 L562.2 897.0 L563.2 897.1 L564.2 897.2 L565.2 897.3 L566.2 897.5 L567.2 897.6 L568.2 897.7 L569.2 897.8 L570.2 897.9 L571.2 898.0 L572.2 898.1 L573.2 898.2 L574.2 898.3 L575.2 898.4 L576.2 898.5 L577.2 898.6 L578.2 898.7 L579.2 898.8 L580.2 898.9 L581.2 898.9 L582.2 899.0 L583.2 899.1 L584.2 899.2 L585.2 899.3 L586.2 899.3 L587.2 899.4 L588.2 899.5 L589.2 899.5 L590.2 899.6 L591.2 899.7 L592.2 899.7 L593.2 899.8 L594.2 899.9 L595.2 899.9 L596.2 900.0 L597.2 900.1 L598.2 900.1 L599.2 900.2 L600.2 900.2 L601.2 900.3 L602.2 900.4 L603.2 900.4 L604.2 900.5 L605.2 900.5 L606.2 900.6 L607.2 900.7 L608.2 900.7 L609.2 900.8 L610.2 900.8 L611.2 900.9 L612.2 901.0 L613.2 901.0 L614.2 901.1 L615.2 901.2 L616.2 901.2 L617.2 901.3 L618.2 901.4" fill="none" stroke="#0d0d0d" stroke-width="3.3" stroke-linejoin="round"/>
<rect x="65.2" y="514.6" width="554.4" height="412.2" fill="none" stroke="#262626" stroke-width="2.4" stroke-linejoin="round"/>
<line x1="578.2" y1="926.8" x2="578.2" y2="934.8" stroke="#1a1a1a" stroke-width="2.2"/>
<line x1="508.9" y1="926.8" x2="508.9" y2="934.8" stroke="#1a1a1a" stroke-width="2.2"/>
<line x1="439.6" y1="926.8" x2="439.6" y2="934.8" stroke="#1a1a1a" stroke-width="2.2"/>
<line x1="370.3" y1="926.8" x2="370.3" y2="934.8" stroke="#1a1a1a" stroke-width="2.2"/>
<line x1="301.0" y1="926.8" x2="301.0" y2="934.8" stroke="#1a1a1a" stroke-width="2.2"/>
<line x1="231.7" y1="926.8" x2="231.7" y2="934.8" stroke="#1a1a1a" stroke-width="2.2"/>
<line x1="162.4" y1="926.8" x2="162.4" y2="934.8" stroke="#1a1a1a" stroke-width="2.2"/>
<line x1="93.1" y1="926.8" x2="93.1" y2="934.8" stroke="#1a1a1a" stroke-width="2.2"/>
<line x1="612.9" y1="926.8" x2="612.9" y2="931.8" stroke="#1a1a1a" stroke-width="2.2"/>
<line x1="543.6" y1="926.8" x2="543.6" y2="931.8" stroke="#1a1a1a" stroke-width="2.2"/>
<line x1="474.3" y1="926.8" x2="474.3" y2="931.8" stroke="#1a1a1a" stroke-width="2.2"/>
<line x1="405.0" y1="926.8" x2="405.0" y2="931.8" stroke="#1a1a1a" stroke-width="2.2"/>
<line x1="335.7" y1="926.8" x2="335.7" y2="931.8" stroke="#1a1a1a" stroke-width="2.2"/>
<line x1="266.4" y1="926.8" x2="266.4" y2="931.8" stroke="#1a1a1a" stroke-width="2.2"/>
<line x1="197.1" y1="926.8" x2="197.1" y2="931.8" stroke="#1a1a1a" stroke-width="2.2"/>
<line x1="127.8" y1="926.8" x2="127.8" y2="931.8" stroke="#1a1a1a" stroke-width="2.2"/>
<text transform="translate(578.2 957.0) scale(0.96 1)" font-size="25.0" fill="#111" text-anchor="middle">850</text>
<text transform="translate(508.9 957.0) scale(0.96 1)" font-size="25.0" fill="#111" text-anchor="middle">855</text>
<text transform="translate(439.6 957.0) scale(0.96 1)" font-size="25.0" fill="#111" text-anchor="middle">860</text>
<text transform="translate(370.3 957.0) scale(0.96 1)" font-size="25.0" fill="#111" text-anchor="middle">865</text>
<text transform="translate(301.0 957.0) scale(0.96 1)" font-size="25.0" fill="#111" text-anchor="middle">870</text>
<text transform="translate(231.7 957.0) scale(0.96 1)" font-size="25.0" fill="#111" text-anchor="middle">875</text>
<text transform="translate(162.4 957.0) scale(0.96 1)" font-size="25.0" fill="#111" text-anchor="middle">880</text>
<text transform="translate(93.1 957.0) scale(0.96 1)" font-size="25.0" fill="#111" text-anchor="middle">885</text>
<text x="0.2" y="531.8" font-size="37.0" fill="#111" text-anchor="start" >(c)</text>
<text x="70.7" y="553.5" font-size="32.0" fill="#111" text-anchor="start" >Ni 2p</text>
<text transform="translate(35.1 725.8) rotate(-90)" x="0" y="0" font-size="32.0" fill="#111" text-anchor="middle">Intensity(a.u.)</text>
<text x="354.5" y="987.0" font-size="32.0" fill="#111" text-anchor="middle" >Binding Energy(eV)</text>
<text x="91.0" y="685.5" font-size="28.0" fill="#111" text-anchor="start" >879.4 eV</text>
<text x="191.5" y="658.6" font-size="28.0" fill="#111" text-anchor="start" >874.6 eV</text>
<text x="254.0" y="701.4" font-size="28.0" fill="#111" text-anchor="start" >871.1 eV</text>
<text x="344.3" y="728.3" font-size="28.0" fill="#111" text-anchor="start" >861.5 eV</text>
<text x="385.8" y="668.6" font-size="28.0" fill="#111" text-anchor="start" >856.8 eV</text>
<text x="498.0" y="601.6" font-size="28.0" fill="#111" text-anchor="start" >853.8 eV</text>
<text x="283.7" y="598.3" font-size="32.0" fill="#ea1c24">2p<tspan font-size="17.0">1/2</tspan></text>
<text x="494.5" y="555.8" font-size="32.0" fill="#ea1c24">2p<tspan font-size="17.0">3/2</tspan></text>
<g fill="none" stroke="#858585" stroke-width="1.1"><circle cx="703.8" cy="841.7" r="2.7"/><circle cx="706.8" cy="853.8" r="2.7"/><circle cx="711.5" cy="844.1" r="2.7"/><circle cx="717.3" cy="848.5" r="2.7"/><circle cx="721.7" cy="848.5" r="2.7"/><circle cx="725.9" cy="844.4" r="2.7"/><circle cx="729.7" cy="844.1" r="2.7"/><circle cx="735.1" cy="849.4" r="2.7"/><circle cx="738.5" cy="849.1" r="2.7"/><circle cx="742.6" cy="847.0" r="2.7"/><circle cx="747.6" cy="851.2" r="2.7"/><circle cx="752.3" cy="847.2" r="2.7"/><circle cx="756.7" cy="852.7" r="2.7"/><circle cx="762.3" cy="851.3" r="2.7"/><circle cx="766.3" cy="846.7" r="2.7"/><circle cx="770.5" cy="850.2" r="2.7"/><circle cx="775.6" cy="847.3" r="2.7"/><circle cx="779.7" cy="843.5" r="2.7"/><circle cx="783.5" cy="849.4" r="2.7"/><circle cx="789.2" cy="845.7" r="2.7"/><circle cx="792.4" cy="843.0" r="2.7"/><circle cx="798.1" cy="845.0" r="2.7"/><circle cx="803.1" cy="841.8" r="2.7"/><circle cx="806.6" cy="843.8" r="2.7"/><circle cx="811.7" cy="838.7" r="2.7"/><circle cx="815.3" cy="838.0" r="2.7"/><circle cx="820.8" cy="837.4" r="2.7"/><circle cx="824.2" cy="830.8" r="2.7"/><circle cx="828.5" cy="835.1" r="2.7"/><circle cx="832.8" cy="822.7" r="2.7"/><circle cx="838.4" cy="815.7" r="2.7"/><circle cx="843.0" cy="818.1" r="2.7"/><circle cx="847.7" cy="809.5" r="2.7"/><circle cx="851.4" cy="802.4" r="2.7"/><circle cx="855.9" cy="793.8" r="2.7"/><circle cx="861.4" cy="787.0" r="2.7"/><circle cx="864.2" cy="774.3" r="2.7"/><circle cx="870.4" cy="763.7" r="2.7"/><circle cx="874.1" cy="752.1" r="2.7"/><circle cx="878.1" cy="731.0" r="2.7"/><circle cx="883.0" cy="724.5" r="2.7"/><circle cx="888.1" cy="699.3" r="2.7"/><circle cx="892.4" cy="686.8" r="2.7"/><circle cx="895.9" cy="669.6" r="2.7"/><circle cx="901.8" cy="657.0" r="2.7"/><circle cx="904.9" cy="636.7" r="2.7"/><circle cx="910.0" cy="621.1" r="2.7"/><circle cx="913.9" cy="614.1" r="2.7"/><circle cx="919.0" cy="600.8" r="2.7"/><circle cx="923.0" cy="601.2" r="2.7"/><circle cx="927.7" cy="596.7" r="2.7"/><circle cx="931.9" cy="599.2" r="2.7"/><circle cx="936.4" cy="601.7" r="2.7"/><circle cx="941.6" cy="617.0" r="2.7"/><circle cx="945.4" cy="631.9" r="2.7"/><circle cx="951.6" cy="642.5" r="2.7"/><circle cx="955.6" cy="660.4" r="2.7"/><circle cx="958.8" cy="680.8" r="2.7"/><circle cx="963.9" cy="695.2" r="2.7"/><circle cx="969.1" cy="711.6" r="2.7"/><circle cx="973.0" cy="720.7" r="2.7"/><circle cx="976.8" cy="736.7" r="2.7"/><circle cx="981.5" cy="752.2" r="2.7"/><circle cx="986.4" cy="759.3" r="2.7"/><circle cx="991.7" cy="770.9" r="2.7"/><circle cx="995.9" cy="778.3" r="2.7"/><circle cx="1000.0" cy="787.1" r="2.7"/><circle cx="1004.4" cy="799.7" r="2.7"/><circle cx="1009.6" cy="805.7" r="2.7"/><circle cx="1013.7" cy="809.4" r="2.7"/><circle cx="1018.6" cy="807.9" r="2.7"/><circle cx="1023.0" cy="809.4" r="2.7"/><circle cx="1027.9" cy="812.7" r="2.7"/><circle cx="1032.3" cy="811.3" r="2.7"/><circle cx="1036.5" cy="803.2" r="2.7"/><circle cx="1040.2" cy="801.2" r="2.7"/><circle cx="1045.4" cy="794.0" r="2.7"/><circle cx="1050.2" cy="790.1" r="2.7"/><circle cx="1054.5" cy="774.7" r="2.7"/><circle cx="1058.4" cy="756.7" r="2.7"/><circle cx="1063.0" cy="739.0" r="2.7"/><circle cx="1068.0" cy="717.8" r="2.7"/><circle cx="1073.0" cy="694.8" r="2.7"/><circle cx="1077.2" cy="674.2" r="2.7"/><circle cx="1080.9" cy="652.3" r="2.7"/><circle cx="1084.7" cy="619.4" r="2.7"/><circle cx="1090.2" cy="613.7" r="2.7"/><circle cx="1095.5" cy="609.9" r="2.7"/><circle cx="1099.1" cy="615.7" r="2.7"/><circle cx="1103.7" cy="624.8" r="2.7"/><circle cx="1108.5" cy="633.5" r="2.7"/><circle cx="1113.3" cy="630.7" r="2.7"/><circle cx="1117.1" cy="632.2" r="2.7"/><circle cx="1121.0" cy="621.3" r="2.7"/><circle cx="1126.5" cy="629.7" r="2.7"/><circle cx="1129.8" cy="629.4" r="2.7"/><circle cx="1136.1" cy="656.1" r="2.7"/><circle cx="1139.1" cy="682.8" r="2.7"/><circle cx="1143.9" cy="721.0" r="2.7"/><circle cx="1148.4" cy="760.3" r="2.7"/><circle cx="1153.5" cy="789.7" r="2.7"/><circle cx="1157.0" cy="812.9" r="2.7"/><circle cx="1162.6" cy="833.6" r="2.7"/><circle cx="1166.0" cy="846.4" r="2.7"/><circle cx="1171.7" cy="848.6" r="2.7"/><circle cx="1174.9" cy="852.7" r="2.7"/><circle cx="1180.7" cy="858.6" r="2.7"/><circle cx="1184.5" cy="861.0" r="2.7"/><circle cx="1189.2" cy="857.3" r="2.7"/><circle cx="1193.3" cy="863.9" r="2.7"/><circle cx="1198.4" cy="871.8" r="2.7"/><circle cx="1202.5" cy="867.8" r="2.7"/><circle cx="1206.7" cy="861.6" r="2.7"/><circle cx="1212.3" cy="866.3" r="2.7"/><circle cx="1215.8" cy="868.4" r="2.7"/><circle cx="1220.4" cy="871.2" r="2.7"/><circle cx="1224.6" cy="868.9" r="2.7"/><circle cx="1228.6" cy="870.0" r="2.7"/><circle cx="1234.5" cy="873.4" r="2.7"/><circle cx="1238.2" cy="873.0" r="2.7"/><circle cx="1243.1" cy="876.4" r="2.7"/><circle cx="1247.9" cy="871.1" r="2.7"/><circle cx="1251.8" cy="877.6" r="2.7"/></g>
<path d="M814.1 867.4 L815.1 867.4 L816.1 867.4 L817.1 867.3 L818.1 867.3 L819.1 867.3 L820.1 867.3 L821.1 867.2 L822.1 867.2 L823.1 867.1 L824.1 867.1 L825.1 867.0 L826.1 866.9 L827.1 866.8 L828.1 866.7 L829.1 866.6 L830.1 866.4 L831.1 866.2 L832.1 866.1 L833.1 865.9 L834.1 865.6 L835.1 865.4 L836.1 865.1 L837.1 864.8 L838.1 864.5 L839.1 864.1 L840.1 863.8 L841.1 863.3 L842.1 862.9 L843.1 862.4 L844.1 861.9 L845.1 861.3 L846.1 860.7 L847.1 860.0 L848.1 859.3 L849.1 858.6 L850.1 857.8 L851.1 856.9 L852.1 856.0 L853.1 855.0 L854.1 854.0 L855.1 852.9 L856.1 851.7 L857.1 850.4 L858.1 849.1 L859.1 847.7 L860.1 846.3 L861.1 844.7 L862.1 843.1 L863.1 841.4 L864.1 839.6 L865.1 837.7 L866.1 835.8 L867.1 833.7 L868.1 831.6 L869.1 829.4 L870.1 827.0 L871.1 824.6 L872.1 822.1 L873.1 819.5 L874.1 816.8 L875.1 814.0 L876.1 811.2 L877.1 808.2 L878.1 805.1 L879.1 802.0 L880.1 798.8 L881.1 795.5 L882.1 792.1 L883.1 788.7 L884.1 785.1 L885.1 781.6 L886.1 777.9 L887.1 774.2 L888.1 770.4 L889.1 766.6 L890.1 762.8 L891.1 758.9 L892.1 755.0 L893.1 751.1 L894.1 747.2 L895.1 743.2 L896.1 739.3 L897.1 735.3 L898.1 731.4 L899.1 727.5 L900.1 723.6 L901.1 719.8 L902.1 716.0 L903.1 712.2 L904.1 708.5 L905.1 704.9 L906.1 701.4 L907.1 698.0 L908.1 694.7 L909.1 691.5 L910.1 688.4 L911.1 685.5 L912.1 682.7 L913.1 680.0 L914.1 677.5 L915.1 675.2 L916.1 673.0 L917.1 671.0 L918.1 669.1 L919.1 667.5 L920.1 666.1 L921.1 664.8 L922.1 663.7 L923.1 662.9 L924.1 662.2 L925.1 661.8 L926.1 661.5 L927.1 661.5 L928.1 661.6 L929.1 662.0 L930.1 662.5 L931.1 663.3 L932.1 664.2 L933.1 665.3 L934.1 666.6 L935.1 668.1 L936.1 669.7 L937.1 671.5 L938.1 673.5 L939.1 675.7 L940.1 678.0 L941.1 680.4 L942.1 683.0 L943.1 685.8 L944.1 688.7 L945.1 691.6 L946.1 694.7 L947.1 698.0 L948.1 701.3 L949.1 704.7 L950.1 708.1 L951.1 711.7 L952.1 715.3 L953.1 719.0 L954.1 722.7 L955.1 726.5 L956.1 730.3 L957.1 734.1 L958.1 738.0 L959.1 741.9 L960.1 745.7 L961.1 749.6 L962.1 753.4 L963.1 757.3 L964.1 761.1 L965.1 764.8 L966.1 768.6 L967.1 772.3 L968.1 775.9 L969.1 779.5 L970.1 783.1 L971.1 786.5 L972.1 790.0 L973.1 793.3 L974.1 796.6 L975.1 799.8 L976.1 802.9 L977.1 806.0 L978.1 808.9 L979.1 811.8 L980.1 814.6 L981.1 817.3 L982.1 820.0 L983.1 822.5 L984.1 825.0 L985.1 827.3 L986.1 829.6 L987.1 831.8 L988.1 833.9 L989.1 836.0 L990.1 837.9 L991.1 839.8 L992.1 841.6 L993.1 843.3 L994.1 844.9 L995.1 846.5 L996.1 848.0 L997.1 849.4 L998.1 850.7 L999.1 852.0 L1000.1 853.2 L1001.1 854.4 L1002.1 855.5 L1003.1 856.5 L1004.1 857.5 L1005.1 858.4 L1006.1 859.3 L1007.1 860.2 L1008.1 861.0 L1009.1 861.7 L1010.1 862.4 L1011.1 863.1 L1012.1 863.7 L1013.1 864.3 L1014.1 864.9 L1015.1 865.4 L1016.1 865.9 L1017.1 866.3 L1018.1 866.8 L1019.1 867.2 L1020.1 867.6 L1021.1 867.9 L1022.1 868.3 L1023.1 868.6 L1024.1 868.9 L1025.1 869.2 L1026.1 869.5 L1027.1 869.7 L1028.1 870.0 L1029.1 870.2 L1030.1 870.4 L1031.1 870.6 L1032.1 870.8 L1033.1 870.9 L1034.1 871.1 L1035.1 871.2 L1036.1 871.4 L1037.1 871.5 L1038.1 871.6 L1039.1 871.8 L1040.1 871.9 L1041.1 872.0 L1042.1 872.1" fill="none" stroke="#6e1414" stroke-width="3.0" stroke-linejoin="round"/>
<path d="M1003.1 870.0 L1004.1 869.9 L1005.1 869.9 L1006.1 869.9 L1007.1 869.8 L1008.1 869.7 L1009.1 869.7 L1010.1 869.6 L1011.1 869.5 L1012.1 869.4 L1013.1 869.3 L1014.1 869.2 L1015.1 869.0 L1016.1 868.8 L1017.1 868.7 L1018.1 868.4 L1019.1 868.2 L1020.1 867.9 L1021.1 867.6 L1022.1 867.3 L1023.1 866.9 L1024.1 866.5 L1025.1 866.0 L1026.1 865.5 L1027.1 864.9 L1028.1 864.3 L1029.1 863.7 L1030.1 862.9 L1031.1 862.1 L1032.1 861.2 L1033.1 860.3 L1034.1 859.3 L1035.1 858.2 L1036.1 857.0 L1037.1 855.7 L1038.1 854.3 L1039.1 852.9 L1040.1 851.3 L1041.1 849.6 L1042.1 847.8 L1043.1 845.9 L1044.1 843.9 L1045.1 841.7 L1046.1 839.5 L1047.1 837.1 L1048.1 834.6 L1049.1 831.9 L1050.1 829.1 L1051.1 826.2 L1052.1 823.2 L1053.1 820.0 L1054.1 816.7 L1055.1 813.2 L1056.1 809.6 L1057.1 805.9 L1058.1 802.0 L1059.1 798.0 L1060.1 793.9 L1061.1 789.7 L1062.1 785.3 L1063.1 780.9 L1064.1 776.3 L1065.1 771.6 L1066.1 766.9 L1067.1 762.1 L1068.1 757.2 L1069.1 752.2 L1070.1 747.2 L1071.1 742.2 L1072.1 737.1 L1073.1 732.0 L1074.1 726.9 L1075.1 721.9 L1076.1 716.8 L1077.1 711.9 L1078.1 706.9 L1079.1 702.1 L1080.1 697.3 L1081.1 692.7 L1082.1 688.1 L1083.1 683.7 L1084.1 679.5 L1085.1 675.4 L1086.1 671.5 L1087.1 667.8 L1088.1 664.3 L1089.1 661.0 L1090.1 657.9 L1091.1 655.1 L1092.1 652.6 L1093.1 650.3 L1094.1 648.2 L1095.1 646.5 L1096.1 645.0 L1097.1 643.9 L1098.1 643.0 L1099.1 642.4 L1100.1 642.2 L1101.1 642.2 L1102.1 642.5 L1103.1 643.2 L1104.1 644.1 L1105.1 645.3 L1106.1 646.9 L1107.1 648.7 L1108.1 650.8 L1109.1 653.1 L1110.1 655.7 L1111.1 658.6 L1112.1 661.7 L1113.1 665.0 L1114.1 668.6 L1115.1 672.3 L1116.1 676.2 L1117.1 680.4 L1118.1 684.6 L1119.1 689.1 L1120.1 693.6 L1121.1 698.3 L1122.1 703.1 L1123.1 707.9 L1124.1 712.9 L1125.1 717.9 L1126.1 722.9 L1127.1 728.0 L1128.1 733.1 L1129.1 738.1 L1130.1 743.2 L1131.1 748.3 L1132.1 753.3 L1133.1 758.3 L1134.1 763.2 L1135.1 768.0 L1136.1 772.8 L1137.1 777.5 L1138.1 782.1 L1139.1 786.6 L1140.1 791.0 L1141.1 795.3 L1142.1 799.5 L1143.1 803.5 L1144.1 807.4 L1145.1 811.2 L1146.1 814.9 L1147.1 818.4 L1148.1 821.8 L1149.1 825.1 L1150.1 828.2 L1151.1 831.2 L1152.1 834.1 L1153.1 836.8 L1154.1 839.4 L1155.1 841.9 L1156.1 844.2 L1157.1 846.5 L1158.1 848.6 L1159.1 850.6 L1160.1 852.5 L1161.1 854.3 L1162.1 856.0 L1163.1 857.6 L1164.1 859.1 L1165.1 860.5 L1166.1 861.8 L1167.1 863.0 L1168.1 864.2 L1169.1 865.2 L1170.1 866.2 L1171.1 867.2 L1172.1 868.0 L1173.1 868.9 L1174.1 869.6 L1175.1 870.3 L1176.1 871.0 L1177.1 871.6 L1178.1 872.1 L1179.1 872.7 L1180.1 873.1 L1181.1 873.6 L1182.1 874.0 L1183.1 874.4 L1184.1 874.8 L1185.1 875.1 L1186.1 875.4 L1187.1 875.7 L1188.1 875.9 L1189.1 876.2 L1190.1 876.4 L1191.1 876.6 L1192.1 876.8 L1193.1 877.0 L1194.1 877.2 L1195.1 877.4 L1196.1 877.5 L1197.1 877.7 L1198.1 877.8" fill="none" stroke="#1c1ce8" stroke-width="3.0" stroke-linejoin="round"/>
<path d="M1095.1 874.8 L1096.1 874.6 L1097.1 874.4 L1098.1 874.2 L1099.1 873.8 L1100.1 873.4 L1101.1 872.8 L1102.1 872.2 L1103.1 871.4 L1104.1 870.4 L1105.1 869.2 L1106.1 867.7 L1107.1 866.0 L1108.1 864.0 L1109.1 861.7 L1110.1 859.0 L1111.1 855.9 L1112.1 852.4 L1113.1 848.5 L1114.1 844.2 L1115.1 839.4 L1116.1 834.1 L1117.1 828.5 L1118.1 822.5 L1119.1 816.2 L1120.1 809.6 L1121.1 802.8 L1122.1 795.9 L1123.1 789.1 L1124.1 782.4 L1125.1 775.9 L1126.1 769.8 L1127.1 764.1 L1128.1 759.0 L1129.1 754.7 L1130.1 751.1 L1131.1 748.4 L1132.1 746.6 L1133.1 745.8 L1134.1 746.0 L1135.1 747.0 L1136.1 748.8 L1137.1 751.3 L1138.1 754.7 L1139.1 758.6 L1140.1 763.2 L1141.1 768.3 L1142.1 773.8 L1143.1 779.7 L1144.1 785.7 L1145.1 792.0 L1146.1 798.3 L1147.1 804.6 L1148.1 810.8 L1149.1 816.8 L1150.1 822.6 L1151.1 828.1 L1152.1 833.3 L1153.1 838.2 L1154.1 842.7 L1155.1 846.9 L1156.1 850.7 L1157.1 854.1 L1158.1 857.2 L1159.1 860.0 L1160.1 862.4 L1161.1 864.5 L1162.1 866.4 L1163.1 868.0 L1164.1 869.3 L1165.1 870.5 L1166.1 871.5 L1167.1 872.4 L1168.1 873.1 L1169.1 873.7 L1170.1 874.2 L1171.1 874.7 L1172.1 875.0 L1173.1 875.4 L1174.1 875.6 L1175.1 875.9" fill="none" stroke="#ff1cff" stroke-width="3.0" stroke-linejoin="round"/>
<path d="M702.1 852.4 L703.1 852.4 L704.1 852.5 L705.1 852.5 L706.1 852.5 L707.1 852.6 L708.1 852.6 L709.1 852.6 L710.1 852.7 L711.1 852.7 L712.1 852.8 L713.1 852.8 L714.1 852.8 L715.1 852.8 L716.1 852.9 L717.1 852.9 L718.1 852.9 L719.1 853.0 L720.1 853.0 L721.1 853.0 L722.1 853.1 L723.1 853.1 L724.1 853.1 L725.1 853.1 L726.1 853.2 L727.1 853.2 L728.1 853.2 L729.1 853.2 L730.1 853.2 L731.1 853.3 L732.1 853.3 L733.1 853.3 L734.1 853.3 L735.1 853.3 L736.1 853.3 L737.1 853.3 L738.1 853.3 L739.1 853.3 L740.1 853.3 L741.1 853.3 L742.1 853.3 L743.1 853.3 L744.1 853.3 L745.1 853.3 L746.1 853.3 L747.1 853.3 L748.1 853.3 L749.1 853.3 L750.1 853.3 L751.1 853.2 L752.1 853.2 L753.1 853.2 L754.1 853.2 L755.1 853.1 L756.1 853.1 L757.1 853.0 L758.1 853.0 L759.1 853.0 L760.1 852.9 L761.1 852.9 L762.1 852.8 L763.1 852.7 L764.1 852.7 L765.1 852.6 L766.1 852.5 L767.1 852.5 L768.1 852.4 L769.1 852.3 L770.1 852.2 L771.1 852.1 L772.1 852.0 L773.1 851.9 L774.1 851.8 L775.1 851.7 L776.1 851.6 L777.1 851.5 L778.1 851.4 L779.1 851.3 L780.1 851.1 L781.1 851.0 L782.1 850.9 L783.1 850.7 L784.1 850.6 L785.1 850.4 L786.1 850.3 L787.1 850.1 L788.1 850.0 L789.1 849.8 L790.1 849.6 L791.1 849.4 L792.1 849.2 L793.1 849.0 L794.1 848.8 L795.1 848.6 L796.1 848.3 L797.1 848.1 L798.1 847.9 L799.1 847.6 L800.1 847.3 L801.1 847.1 L802.1 846.8 L803.1 846.5 L804.1 846.2 L805.1 845.9 L806.1 845.5 L807.1 845.2 L808.1 844.8 L809.1 844.4 L810.1 844.1 L811.1 843.6 L812.1 843.2 L813.1 842.8 L814.1 842.3 L815.1 841.9 L816.1 841.4 L817.1 840.9 L818.1 840.3 L819.1 839.8 L820.1 839.2 L821.1 838.6 L822.1 838.0 L823.1 837.3 L824.1 836.7 L825.1 836.0 L826.1 835.2 L827.1 834.5 L828.1 833.7 L829.1 832.9 L830.1 832.0 L831.1 831.2 L832.1 830.2 L833.1 829.3 L834.1 828.3 L835.1 827.3 L836.1 826.3 L837.1 825.2 L838.1 824.0 L839.1 822.9 L840.1 821.7 L841.1 820.4 L842.1 819.1 L843.1 817.8 L844.1 816.4 L845.1 814.9 L846.1 813.4 L847.1 811.9 L848.1 810.3 L849.1 808.7 L850.1 807.0 L851.1 805.3 L852.1 803.5 L853.1 801.7 L854.1 799.8 L855.1 797.8 L856.1 795.8 L857.1 793.7 L858.1 791.6 L859.1 789.4 L860.1 787.2 L861.1 784.9 L862.1 782.6 L863.1 780.1 L864.1 777.7 L865.1 775.1 L866.1 772.6 L867.1 769.9 L868.1 767.2 L869.1 764.4 L870.1 761.6 L871.1 758.8 L872.1 755.8 L873.1 752.8 L874.1 749.8 L875.1 746.7 L876.1 743.6 L877.1 740.4 L878.1 737.1 L879.1 733.8 L880.1 730.5 L881.1 727.1 L882.1 723.7 L883.1 720.2 L884.1 716.7 L885.1 713.2 L886.1 709.6 L887.1 706.0 L888.1 702.4 L889.1 698.8 L890.1 695.1 L891.1 691.4 L892.1 687.8 L893.1 684.1 L894.1 680.4 L895.1 676.7 L896.1 673.0 L897.1 669.3 L898.1 665.7 L899.1 662.0 L900.1 658.4 L901.1 654.8 L902.1 651.3 L903.1 647.8 L904.1 644.3 L905.1 640.9 L906.1 637.6 L907.1 634.4 L908.1 631.2 L909.1 628.2 L910.1 625.3 L911.1 622.4 L912.1 619.7 L913.1 617.1 L914.1 614.7 L915.1 612.4 L916.1 610.2 L917.1 608.2 L918.1 606.4 L919.1 604.7 L920.1 603.3 L921.1 601.9 L922.1 600.8 L923.1 599.9 L924.1 599.2 L925.1 598.6 L926.1 598.3 L927.1 598.1 L928.1 598.2 L929.1 598.4 L930.1 598.9 L931.1 599.5 L932.1 600.4 L933.1 601.4 L934.1 602.6 L935.1 604.0 L936.1 605.5 L937.1 607.3 L938.1 609.2 L939.1 611.2 L940.1 613.4 L941.1 615.7 L942.1 618.2 L943.1 620.8 L944.1 623.5 L945.1 626.3 L946.1 629.2 L947.1 632.2 L948.1 635.3 L949.1 638.5 L950.1 641.7 L951.1 645.0 L952.1 648.4 L953.1 651.8 L954.1 655.2 L955.1 658.7 L956.1 662.2 L957.1 665.8 L958.1 669.3 L959.1 672.9 L960.1 676.4 L961.1 680.0 L962.1 683.6 L963.1 687.1 L964.1 690.6 L965.1 694.2 L966.1 697.6 L967.1 701.1 L968.1 704.6 L969.1 708.0 L970.1 711.3 L971.1 714.7 L972.1 718.0 L973.1 721.2 L974.1 724.4 L975.1 727.6 L976.1 730.7 L977.1 733.7 L978.1 736.7 L979.1 739.7 L980.1 742.6 L981.1 745.4 L982.1 748.2 L983.1 750.9 L984.1 753.6 L985.1 756.2 L986.1 758.7 L987.1 761.2 L988.1 763.6 L989.1 765.9 L990.1 768.2 L991.1 770.4 L992.1 772.5 L993.1 774.6 L994.1 776.7 L995.1 778.6 L996.1 780.5 L997.1 782.3 L998.1 784.1 L999.1 785.8 L1000.1 787.5 L1001.1 789.0 L1002.1 790.6 L1003.1 792.0 L1004.1 793.4 L1005.1 794.8 L1006.1 796.0 L1007.1 797.3 L1008.1 798.4 L1009.1 799.5 L1010.1 800.5 L1011.1 801.5 L1012.1 802.4 L1013.1 803.3 L1014.1 804.1 L1015.1 804.8 L1016.1 805.5 L1017.1 806.1 L1018.1 806.7 L1019.1 807.1 L1020.1 807.6 L1021.1 807.9 L1022.1 808.2 L1023.1 808.4 L1024.1 808.6 L1025.1 808.7 L1026.1 808.7 L1027.1 808.7 L1028.1 808.6 L1029.1 808.4 L1030.1 808.1 L1031.1 807.8 L1032.1 807.4 L1033.1 806.9 L1034.1 806.3 L1035.1 805.6 L1036.1 804.8 L1037.1 804.0 L1038.1 803.0 L1039.1 802.0 L1040.1 800.8 L1041.1 799.6 L1042.1 798.3 L1043.1 796.8 L1044.1 795.2 L1045.1 793.6 L1046.1 791.8 L1047.1 789.9 L1048.1 787.8 L1049.1 785.7 L1050.1 783.4 L1051.1 780.9 L1052.1 778.4 L1053.1 775.7 L1054.1 772.8 L1055.1 769.9 L1056.1 766.7 L1057.1 763.5 L1058.1 760.0 L1059.1 756.5 L1060.1 752.7 L1061.1 748.8 L1062.1 744.8 L1063.1 740.6 L1064.1 736.3 L1065.1 731.8 L1066.1 727.2 L1067.1 722.5 L1068.1 717.6 L1069.1 712.6 L1070.1 707.5 L1071.1 702.3 L1072.1 696.9 L1073.1 691.6 L1074.1 686.1 L1075.1 680.6 L1076.1 675.1 L1077.1 669.6 L1078.1 664.2 L1079.1 658.8 L1080.1 653.5 L1081.1 648.3 L1082.1 643.3 L1083.1 638.5 L1084.1 633.9 L1085.1 629.6 L1086.1 625.6 L1087.1 621.9 L1088.1 618.6 L1089.1 615.7 L1090.1 613.2 L1091.1 611.1 L1092.1 609.4 L1093.1 608.1 L1094.1 607.3 L1095.1 607.1 L1096.1 607.5 L1097.1 608.3 L1098.1 609.6 L1099.1 611.3 L1100.1 613.3 L1101.1 615.6 L1102.1 617.9 L1103.1 620.4 L1104.1 622.8 L1105.1 625.2 L1106.1 627.4 L1107.1 629.4 L1108.1 631.1 L1109.1 632.6 L1110.1 633.7 L1111.1 634.5 L1112.1 634.9 L1113.1 635.0 L1114.1 634.8 L1115.1 634.3 L1116.1 633.5 L1117.1 632.6 L1118.1 631.5 L1119.1 630.3 L1120.1 629.1 L1121.1 628.0 L1122.1 627.0 L1123.1 626.3 L1124.1 625.7 L1125.1 625.6 L1126.1 625.8 L1127.1 626.5 L1128.1 627.8 L1129.1 629.5 L1130.1 631.9 L1131.1 634.9 L1132.1 638.5 L1133.1 642.7 L1134.1 647.5 L1135.1 652.9 L1136.1 658.9 L1137.1 665.4 L1138.1 672.3 L1139.1 679.6 L1140.1 687.3 L1141.1 695.3 L1142.1 703.5 L1143.1 711.8 L1144.1 720.2 L1145.1 728.6 L1146.1 736.9 L1147.1 745.2 L1148.1 753.2 L1149.1 761.0 L1150.1 768.6 L1151.1 775.9 L1152.1 782.8 L1153.1 789.4 L1154.1 795.6 L1155.1 801.4 L1156.1 806.9 L1157.1 811.9 L1158.1 816.6 L1159.1 820.9 L1160.1 824.8 L1161.1 828.4 L1162.1 831.7 L1163.1 834.7 L1164.1 837.4 L1165.1 839.8 L1166.1 842.0 L1167.1 843.9 L1168.1 845.7 L1169.1 847.3 L1170.1 848.7 L1171.1 850.0 L1172.1 851.1 L1173.1 852.2 L1174.1 853.1 L1175.1 854.0 L1176.1 854.7 L1177.1 855.5 L1178.1 856.1 L1179.1 856.7 L1180.1 857.3 L1181.1 857.8 L1182.1 858.3 L1183.1 858.8 L1184.1 859.2 L1185.1 859.7 L1186.1 860.1 L1187.1 860.5 L1188.1 860.8 L1189.1 861.2 L1190.1 861.6 L1191.1 861.9 L1192.1 862.3 L1193.1 862.6 L1194.1 862.9 L1195.1 863.2 L1196.1 863.6 L1197.1 863.9 L1198.1 864.2 L1199.1 864.5 L1200.1 864.7 L1201.1 865.0 L1202.1 865.3 L1203.1 865.6 L1204.1 865.9 L1205.1 866.1 L1206.1 866.4 L1207.1 866.7 L1208.1 866.9 L1209.1 867.2 L1210.1 867.4 L1211.1 867.7 L1212.1 867.9 L1213.1 868.1 L1214.1 868.4 L1215.1 868.6 L1216.1 868.8 L1217.1 869.1 L1218.1 869.3 L1219.1 869.5 L1220.1 869.7 L1221.1 870.0 L1222.1 870.2 L1223.1 870.4 L1224.1 870.6 L1225.1 870.8 L1226.1 871.0 L1227.1 871.2 L1228.1 871.4 L1229.1 871.6 L1230.1 871.8 L1231.1 872.0 L1232.1 872.2 L1233.1 872.4 L1234.1 872.6 L1235.1 872.8 L1236.1 873.0 L1237.1 873.1 L1238.1 873.3 L1239.1 873.5 L1240.1 873.7 L1241.1 873.9 L1242.1 874.0 L1243.1 874.2 L1244.1 874.4 L1245.1 874.6 L1246.1 874.7 L1247.1 874.9 L1248.1 875.1 L1249.1 875.2 L1250.1 875.4 L1251.1 875.6 L1252.1 875.7 L1253.1 875.9 L1254.1 876.0" fill="none" stroke="#ee1c24" stroke-width="3.0" stroke-linejoin="round"/>
<path d="M702.1 859.3 L703.1 859.4 L704.1 859.5 L705.1 859.6 L706.1 859.7 L707.1 859.8 L708.1 859.9 L709.1 860.0 L710.1 860.1 L711.1 860.1 L712.1 860.2 L713.1 860.3 L714.1 860.4 L715.1 860.5 L716.1 860.6 L717.1 860.7 L718.1 860.8 L719.1 860.9 L720.1 861.0 L721.1 861.1 L722.1 861.2 L723.1 861.3 L724.1 861.4 L725.1 861.5 L726.1 861.6 L727.1 861.7 L728.1 861.8 L729.1 861.9 L730.1 862.0 L731.1 862.1 L732.1 862.2 L733.1 862.3 L734.1 862.4 L735.1 862.5 L736.1 862.6 L737.1 862.7 L738.1 862.8 L739.1 862.9 L740.1 863.0 L741.1 863.1 L742.1 863.1 L743.1 863.2 L744.1 863.3 L745.1 863.4 L746.1 863.5 L747.1 863.6 L748.1 863.7 L749.1 863.8 L750.1 863.9 L751.1 863.9 L752.1 864.0 L753.1 864.1 L754.1 864.2 L755.1 864.3 L756.1 864.4 L757.1 864.4 L758.1 864.5 L759.1 864.6 L760.1 864.7 L761.1 864.7 L762.1 864.8 L763.1 864.9 L764.1 865.0 L765.1 865.0 L766.1 865.1 L767.1 865.2 L768.1 865.2 L769.1 865.3 L770.1 865.4 L771.1 865.4 L772.1 865.5 L773.1 865.5 L774.1 865.6 L775.1 865.7 L776.1 865.7 L777.1 865.8 L778.1 865.8 L779.1 865.9 L780.1 866.0 L781.1 866.0 L782.1 866.1 L783.1 866.1 L784.1 866.2 L785.1 866.3 L786.1 866.3 L787.1 866.4 L788.1 866.4 L789.1 866.5 L790.1 866.5 L791.1 866.6 L792.1 866.6 L793.1 866.7 L794.1 866.7 L795.1 866.8 L796.1 866.9 L797.1 866.9 L798.1 867.0 L799.1 867.0 L800.1 867.1 L801.1 867.1 L802.1 867.2 L803.1 867.2 L804.1 867.3 L805.1 867.3 L806.1 867.4 L807.1 867.4 L808.1 867.5 L809.1 867.5 L810.1 867.6 L811.1 867.6 L812.1 867.7 L813.1 867.7 L814.1 867.8 L815.1 867.8 L816.1 867.9 L817.1 867.9 L818.1 868.0 L819.1 868.0 L820.1 868.1 L821.1 868.1 L822.1 868.1 L823.1 868.2 L824.1 868.2 L825.1 868.3 L826.1 868.3 L827.1 868.4 L828.1 868.4 L829.1 868.5 L830.1 868.5 L831.1 868.6 L832.1 868.6 L833.1 868.7 L834.1 868.7 L835.1 868.7 L836.1 868.8 L837.1 868.8 L838.1 868.9 L839.1 868.9 L840.1 869.0 L841.1 869.0 L842.1 869.1 L843.1 869.1 L844.1 869.2 L845.1 869.2 L846.1 869.2 L847.1 869.3 L848.1 869.3 L849.1 869.4 L850.1 869.4 L851.1 869.5 L852.1 869.5 L853.1 869.6 L854.1 869.6 L855.1 869.6 L856.1 869.7 L857.1 869.7 L858.1 869.8 L859.1 869.8 L860.1 869.9 L861.1 869.9 L862.1 870.0 L863.1 870.0 L864.1 870.1 L865.1 870.1 L866.1 870.1 L867.1 870.2 L868.1 870.2 L869.1 870.3 L870.1 870.3 L871.1 870.4 L872.1 870.4 L873.1 870.5 L874.1 870.5 L875.1 870.6 L876.1 870.6 L877.1 870.7 L878.1 870.7 L879.1 870.7 L880.1 870.8 L881.1 870.8 L882.1 870.9 L883.1 870.9 L884.1 871.0 L885.1 871.0 L886.1 871.1 L887.1 871.1 L888.1 871.2 L889.1 871.3 L890.1 871.3 L891.1 871.4 L892.1 871.4 L893.1 871.5 L894.1 871.5 L895.1 871.6 L896.1 871.6 L897.1 871.7 L898.1 871.7 L899.1 871.7 L900.1 871.8 L901.1 871.8 L902.1 871.8 L903.1 871.8 L904.1 871.8 L905.1 871.8 L906.1 871.8 L907.1 871.8 L908.1 871.8 L909.1 871.8 L910.1 871.7 L911.1 871.7 L912.1 871.7 L913.1 871.7 L914.1 871.7 L915.1 871.7 L916.1 871.7 L917.1 871.6 L918.1 871.6 L919.1 871.6 L920.1 871.6 L921.1 871.6 L922.1 871.6 L923.1 871.5 L924.1 871.5 L925.1 871.5 L926.1 871.5 L927.1 871.5 L928.1 871.4 L929.1 871.4 L930.1 871.4 L931.1 871.4 L932.1 871.3 L933.1 871.3 L934.1 871.3 L935.1 871.3 L936.1 871.3 L937.1 871.2 L938.1 871.2 L939.1 871.2 L940.1 871.2 L941.1 871.1 L942.1 871.1 L943.1 871.1 L944.1 871.1 L945.1 871.0 L946.1 871.0 L947.1 871.0 L948.1 871.0 L949.1 870.9 L950.1 870.9 L951.1 870.9 L952.1 870.9 L953.1 870.8 L954.1 870.8 L955.1 870.8 L956.1 870.8 L957.1 870.8 L958.1 870.7 L959.1 870.7 L960.1 870.7 L961.1 870.7 L962.1 870.7 L963.1 870.6 L964.1 870.6 L965.1 870.6 L966.1 870.6 L967.1 870.6 L968.1 870.5 L969.1 870.5 L970.1 870.5 L971.1 870.5 L972.1 870.5 L973.1 870.4 L974.1 870.4 L975.1 870.4 L976.1 870.4 L977.1 870.4 L978.1 870.4 L979.1 870.4 L980.1 870.4 L981.1 870.3 L982.1 870.3 L983.1 870.3 L984.1 870.3 L985.1 870.3 L986.1 870.3 L987.1 870.3 L988.1 870.3 L989.1 870.3 L990.1 870.3 L991.1 870.3 L992.1 870.3 L993.1 870.3 L994.1 870.3 L995.1 870.3 L996.1 870.3 L997.1 870.3 L998.1 870.3 L999.1 870.3 L1000.1 870.3 L1001.1 870.4 L1002.1 870.4 L1003.1 870.4 L1004.1 870.4 L1005.1 870.5 L1006.1 870.5 L1007.1 870.5 L1008.1 870.6 L1009.1 870.6 L1010.1 870.7 L1011.1 870.7 L1012.1 870.8 L1013.1 870.8 L1014.1 870.9 L1015.1 870.9 L1016.1 871.0 L1017.1 871.0 L1018.1 871.1 L1019.1 871.2 L1020.1 871.2 L1021.1 871.3 L1022.1 871.3 L1023.1 871.4 L1024.1 871.5 L1025.1 871.5 L1026.1 871.6 L1027.1 871.6 L1028.1 871.7 L1029.1 871.8 L1030.1 871.8 L1031.1 871.9 L1032.1 872.0 L1033.1 872.0 L1034.1 872.1 L1035.1 872.1 L1036.1 872.2 L1037.1 872.2 L1038.1 872.3 L1039.1 872.4 L1040.1 872.4 L1041.1 872.5 L1042.1 872.5 L1043.1 872.6 L1044.1 872.6 L1045.1 872.7 L1046.1 872.7 L1047.1 872.8 L1048.1 872.9 L1049.1 872.9 L1050.1 873.0 L1051.1 873.0 L1052.1 873.1 L1053.1 873.2 L1054.1 873.2 L1055.1 873.3 L1056.1 873.4 L1057.1 873.4 L1058.1 873.5 L1059.1 873.6 L1060.1 873.6 L1061.1 873.7 L1062.1 873.8 L1063.1 873.8 L1064.1 873.9 L1065.1 874.0 L1066.1 874.0 L1067.1 874.1 L1068.1 874.2 L1069.1 874.2 L1070.1 874.3 L1071.1 874.3 L1072.1 874.4 L1073.1 874.5 L1074.1 874.5 L1075.1 874.6 L1076.1 874.6 L1077.1 874.7 L1078.1 874.7 L1079.1 874.8 L1080.1 874.8 L1081.1 874.9 L1082.1 874.9 L1083.1 874.9 L1084.1 875.0 L1085.1 875.0 L1086.1 875.0 L1087.1 875.1 L1088.1 875.1 L1089.1 875.1 L1090.1 875.2 L1091.1 875.2 L1092.1 875.2 L1093.1 875.2 L1094.1 875.2 L1095.1 875.2 L1096.1 875.2 L1097.1 875.2 L1098.1 875.2 L1099.1 875.2 L1100.1 875.2 L1101.1 875.1 L1102.1 875.1 L1103.1 875.1 L1104.1 875.0 L1105.1 875.0 L1106.1 874.9 L1107.1 874.9 L1108.1 874.9 L1109.1 874.8 L1110.1 874.8 L1111.1 874.7 L1112.1 874.7 L1113.1 874.6 L1114.1 874.5 L1115.1 874.5 L1116.1 874.4 L1117.1 874.4 L1118.1 874.3 L1119.1 874.3 L1120.1 874.2 L1121.1 874.2 L1122.1 874.1 L1123.1 874.1 L1124.1 874.0 L1125.1 874.0 L1126.1 874.0 L1127.1 873.9 L1128.1 873.9 L1129.1 873.9 L1130.1 873.8 L1131.1 873.8 L1132.1 873.8 L1133.1 873.8 L1134.1 873.8 L1135.1 873.8 L1136.1 873.8 L1137.1 873.8 L1138.1 873.8 L1139.1 873.8 L1140.1 873.8 L1141.1 873.9 L1142.1 873.9 L1143.1 873.9 L1144.1 874.0 L1145.1 874.0 L1146.1 874.0 L1147.1 874.1 L1148.1 874.2 L1149.1 874.2 L1150.1 874.3 L1151.1 874.3 L1152.1 874.4 L1153.1 874.5 L1154.1 874.5 L1155.1 874.6 L1156.1 874.7 L1157.1 874.7 L1158.1 874.8 L1159.1 874.9 L1160.1 875.0 L1161.1 875.1 L1162.1 875.1 L1163.1 875.2 L1164.1 875.3 L1165.1 875.4 L1166.1 875.5 L1167.1 875.6 L1168.1 875.7 L1169.1 875.8 L1170.1 875.8 L1171.1 875.9 L1172.1 876.0 L1173.1 876.1 L1174.1 876.2 L1175.1 876.3 L1176.1 876.4 L1177.1 876.5 L1178.1 876.6 L1179.1 876.7 L1180.1 876.8 L1181.1 876.8 L1182.1 876.9 L1183.1 877.0 L1184.1 877.1 L1185.1 877.2 L1186.1 877.3 L1187.1 877.3 L1188.1 877.4 L1189.1 877.5 L1190.1 877.6 L1191.1 877.7 L1192.1 877.8 L1193.1 877.9 L1194.1 877.9 L1195.1 878.0 L1196.1 878.1 L1197.1 878.2 L1198.1 878.3 L1199.1 878.4 L1200.1 878.4 L1201.1 878.5 L1202.1 878.6 L1203.1 878.7 L1204.1 878.8 L1205.1 878.9 L1206.1 879.0 L1207.1 879.1 L1208.1 879.1 L1209.1 879.2 L1210.1 879.3 L1211.1 879.4 L1212.1 879.5 L1213.1 879.6 L1214.1 879.7 L1215.1 879.8 L1216.1 879.9 L1217.1 879.9 L1218.1 880.0 L1219.1 880.1 L1220.1 880.2 L1221.1 880.3 L1222.1 880.4 L1223.1 880.5 L1224.1 880.6 L1225.1 880.7 L1226.1 880.8 L1227.1 880.8 L1228.1 880.9 L1229.1 881.0 L1230.1 881.1 L1231.1 881.2 L1232.1 881.3 L1233.1 881.4 L1234.1 881.5 L1235.1 881.6 L1236.1 881.7 L1237.1 881.7 L1238.1 881.8 L1239.1 881.9 L1240.1 882.0 L1241.1 882.1 L1242.1 882.2 L1243.1 882.3 L1244.1 882.4 L1245.1 882.5 L1246.1 882.5 L1247.1 882.6 L1248.1 882.7 L1249.1 882.8 L1250.1 882.9 L1251.1 883.0 L1252.1 883.1 L1253.1 883.2 L1254.1 883.3" fill="none" stroke="#0d0d0d" stroke-width="3.3" stroke-linejoin="round"/>
<rect x="701.1" y="513.7" width="554.5" height="412.4" fill="none" stroke="#262626" stroke-width="2.4" stroke-linejoin="round"/>
<line x1="1255.6" y1="926.1" x2="1255.6" y2="934.1" stroke="#1a1a1a" stroke-width="2.2"/>
<line x1="1176.4" y1="926.1" x2="1176.4" y2="934.1" stroke="#1a1a1a" stroke-width="2.2"/>
<line x1="1097.2" y1="926.1" x2="1097.2" y2="934.1" stroke="#1a1a1a" stroke-width="2.2"/>
<line x1="1018.0" y1="926.1" x2="1018.0" y2="934.1" stroke="#1a1a1a" stroke-width="2.2"/>
<line x1="938.7" y1="926.1" x2="938.7" y2="934.1" stroke="#1a1a1a" stroke-width="2.2"/>
<line x1="859.5" y1="926.1" x2="859.5" y2="934.1" stroke="#1a1a1a" stroke-width="2.2"/>
<line x1="780.3" y1="926.1" x2="780.3" y2="934.1" stroke="#1a1a1a" stroke-width="2.2"/>
<line x1="701.1" y1="926.1" x2="701.1" y2="934.1" stroke="#1a1a1a" stroke-width="2.2"/>
<line x1="1216.0" y1="926.1" x2="1216.0" y2="931.1" stroke="#1a1a1a" stroke-width="2.2"/>
<line x1="1136.8" y1="926.1" x2="1136.8" y2="931.1" stroke="#1a1a1a" stroke-width="2.2"/>
<line x1="1057.6" y1="926.1" x2="1057.6" y2="931.1" stroke="#1a1a1a" stroke-width="2.2"/>
<line x1="978.3" y1="926.1" x2="978.3" y2="931.1" stroke="#1a1a1a" stroke-width="2.2"/>
<line x1="899.1" y1="926.1" x2="899.1" y2="931.1" stroke="#1a1a1a" stroke-width="2.2"/>
<line x1="819.9" y1="926.1" x2="819.9" y2="931.1" stroke="#1a1a1a" stroke-width="2.2"/>
<line x1="740.7" y1="926.1" x2="740.7" y2="931.1" stroke="#1a1a1a" stroke-width="2.2"/>
<text transform="translate(1253.6 957.8) scale(0.96 1)" font-size="25.0" fill="#111" text-anchor="middle">126</text>
<text transform="translate(1174.4 957.8) scale(0.96 1)" font-size="25.0" fill="#111" text-anchor="middle">128</text>
<text transform="translate(1095.2 957.8) scale(0.96 1)" font-size="25.0" fill="#111" text-anchor="middle">130</text>
<text transform="translate(1016.0 957.8) scale(0.96 1)" font-size="25.0" fill="#111" text-anchor="middle">132</text>
<text transform="translate(936.7 957.8) scale(0.96 1)" font-size="25.0" fill="#111" text-anchor="middle">134</text>
<text transform="translate(857.5 957.8) scale(0.96 1)" font-size="25.0" fill="#111" text-anchor="middle">136</text>
<text transform="translate(778.3 957.8) scale(0.96 1)" font-size="25.0" fill="#111" text-anchor="middle">138</text>
<text transform="translate(699.1 957.8) scale(0.96 1)" font-size="25.0" fill="#111" text-anchor="middle">140</text>
<text x="632.3" y="536.5" font-size="37.0" fill="#111" text-anchor="start" >(d)</text>
<text x="710.4" y="550.9" font-size="32.0" fill="#111" text-anchor="start" >P 2p</text>
<text transform="translate(672.5 729.5) rotate(-90)" x="0" y="0" font-size="32.0" fill="#111" text-anchor="middle">Intensity(a.u.)</text>
<text x="958.8" y="994.5" font-size="32.0" fill="#111" text-anchor="middle" >Binding Energy(eV)</text>
<text x="826.4" y="649.4" font-size="28.0" fill="#111" text-anchor="start" >134.3 eV</text>
<text x="1033.8" y="598.7" font-size="28.0" fill="#111" text-anchor="start" >129.9 eV</text>
<text x="1124.3" y="730.9" font-size="28.0" fill="#111" text-anchor="start" >129.1 eV</text>
<text x="901.4" y="566.8" font-size="32.0" fill="#ea1c24">2p<tspan font-size="17.0">1/2</tspan></text>
<text x="1093.5" y="546.3" font-size="32.0" fill="#ea1c24">2p<tspan font-size="17.0">3/2</tspan></text>
</svg></body></html>
